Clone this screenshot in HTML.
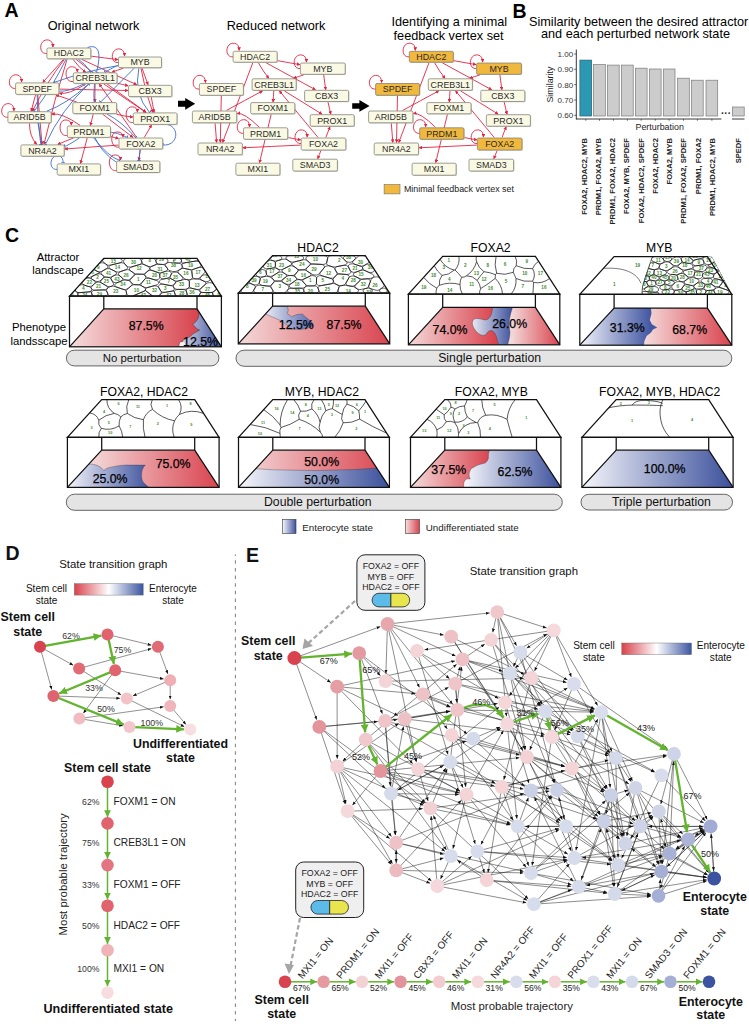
<!DOCTYPE html>
<html><head><meta charset="utf-8"><style>
html,body{margin:0;padding:0;background:#fff;width:749px;height:1024px;overflow:hidden;}
svg{display:block;font-family:"Liberation Sans",sans-serif;}
</style></head><body>
<svg width="749" height="1024" viewBox="0 0 749 1024" font-family="Liberation Sans, sans-serif">
<defs>
<marker id="ar" viewBox="0 0 6 6" refX="5" refY="3" markerWidth="3.6" markerHeight="3.6" orient="auto" markerUnits="userSpaceOnUse"><path d="M0,0 L6,3 L0,6 z" fill="#e3223f"/></marker>
<marker id="tb" viewBox="0 0 2 8" refX="1" refY="4" markerWidth="1" markerHeight="4" orient="auto" markerUnits="userSpaceOnUse"><rect x="0" y="0" width="2" height="8" fill="#3a6ccb"/></marker>
<marker id="ak" viewBox="0 0 6 6" refX="6" refY="3" markerWidth="3.8" markerHeight="3.8" orient="auto" markerUnits="userSpaceOnUse"><path d="M0,0.6 L6,3 L0,5.4 z" fill="#111"/></marker>
<marker id="ag" viewBox="0 0 6 6" refX="6" refY="3" markerWidth="7.8" markerHeight="7.8" orient="auto" markerUnits="userSpaceOnUse"><path d="M0,0 L6,3 L0,6 z" fill="#62b42f"/></marker>
<marker id="ag2" viewBox="0 0 6 6" refX="6" refY="3" markerWidth="6.8" markerHeight="6.8" orient="auto" markerUnits="userSpaceOnUse"><path d="M0,0 L6,3 L0,6 z" fill="#62b42f"/></marker>
<linearGradient id="cbar" x1="0" y1="0" x2="1" y2="0"><stop offset="0" stop-color="#d8414b"/><stop offset="0.5" stop-color="#ffffff"/><stop offset="1" stop-color="#3b55a0"/></linearGradient>
<clipPath id="tc0"><path d="M103.8,258.3 L197,258.3 L221.4,296.1 L69.5,296.1 Z"/></clipPath>
<clipPath id="tc1"><path d="M272.6,255.6 L365.3,255.6 L389.7,293.1 L238.3,293.1 Z"/></clipPath>
<clipPath id="tc2"><path d="M442.7,256.3 L535.4,256.3 L559.8,294.1 L408.4,294.1 Z"/></clipPath>
<clipPath id="tc3"><path d="M614.1,256.7 L707.4,256.7 L731.8,294.3 L579.8,294.3 Z"/></clipPath>
<clipPath id="tc4"><path d="M101.7,399.6 L194.7,399.6 L219.1,437.3 L67.4,437.3 Z"/></clipPath>
<clipPath id="tc5"><path d="M272.8,399.6 L365,399.6 L389.4,437.3 L238.5,437.3 Z"/></clipPath>
<clipPath id="tc6"><path d="M444.8,399.6 L536.5,399.6 L560.9,437.3 L410.5,437.3 Z"/></clipPath>
<clipPath id="tc7"><path d="M616.2,399.6 L708.7,399.6 L733.1,437.3 L581.9,437.3 Z"/></clipPath>
<clipPath id="pc0"><path d="M103.8,308.9 L197,308.9 L221.4,346.8 L69.5,346.8 Z"/></clipPath>
<clipPath id="pc1"><path d="M272.6,306.2 L365.3,306.2 L389.7,343.9 L238.3,343.9 Z"/></clipPath>
<clipPath id="pc2"><path d="M442.7,307.4 L535.4,307.4 L559.8,344.8 L408.4,344.8 Z"/></clipPath>
<clipPath id="pc3"><path d="M614.1,308.1 L707.4,308.1 L731.8,345.2 L579.8,345.2 Z"/></clipPath>
<clipPath id="pc4"><path d="M101.7,450.2 L194.7,450.2 L219.1,487.4 L67.4,487.4 Z"/></clipPath>
<clipPath id="pc5"><path d="M272.8,450.2 L365,450.2 L389.4,487.4 L238.5,487.4 Z"/></clipPath>
<clipPath id="pc6"><path d="M444.8,450.2 L536.5,450.2 L560.9,487.4 L410.5,487.4 Z"/></clipPath>
<clipPath id="pc7"><path d="M616.2,450.2 L708.7,450.2 L733.1,487.4 L581.9,487.4 Z"/></clipPath>
<linearGradient id="g0r" gradientUnits="userSpaceOnUse" x1="69.5" y1="0" x2="199" y2="0"><stop offset="0" stop-color="#f5dede"/><stop offset="1" stop-color="#d8434d"/></linearGradient>
<linearGradient id="g0b" gradientUnits="userSpaceOnUse" x1="178" y1="0" x2="221" y2="0"><stop offset="0" stop-color="#dfe1ef"/><stop offset="1" stop-color="#3f529d"/></linearGradient>
<linearGradient id="g1r" gradientUnits="userSpaceOnUse" x1="238.3" y1="0" x2="389.7" y2="0"><stop offset="0" stop-color="#f4dada"/><stop offset="1" stop-color="#d9444f"/></linearGradient>
<linearGradient id="g1b" gradientUnits="userSpaceOnUse" x1="266" y1="0" x2="313" y2="0"><stop offset="0" stop-color="#e7e9f3"/><stop offset="1" stop-color="#5668ad"/></linearGradient>
<linearGradient id="g2r" gradientUnits="userSpaceOnUse" x1="408.4" y1="0" x2="495" y2="0"><stop offset="0" stop-color="#f4dada"/><stop offset="1" stop-color="#d9444f"/></linearGradient>
<linearGradient id="g2r2" gradientUnits="userSpaceOnUse" x1="511" y1="0" x2="559.8" y2="0"><stop offset="0" stop-color="#f4dada"/><stop offset="1" stop-color="#d9444f"/></linearGradient>
<linearGradient id="g2b" gradientUnits="userSpaceOnUse" x1="471" y1="0" x2="513" y2="0"><stop offset="0" stop-color="#eeeef5"/><stop offset="1" stop-color="#3c509c"/></linearGradient>
<clipPath id="myb"><path d="M652.4,256.5 L712,256.5 L732,294.5 L642,294.5 L642.5,286 L645,277 L648.5,267 Z"/></clipPath>
<linearGradient id="g3b" gradientUnits="userSpaceOnUse" x1="579.8" y1="0" x2="651" y2="0"><stop offset="0" stop-color="#f3f4fa"/><stop offset="1" stop-color="#4257a2"/></linearGradient>
<linearGradient id="g3r" gradientUnits="userSpaceOnUse" x1="644" y1="0" x2="731.8" y2="0"><stop offset="0" stop-color="#f5dcdc"/><stop offset="1" stop-color="#d9434e"/></linearGradient>
<linearGradient id="g4r" gradientUnits="userSpaceOnUse" x1="88" y1="0" x2="219.1" y2="0"><stop offset="0" stop-color="#f5dcdc"/><stop offset="1" stop-color="#d9434e"/></linearGradient>
<linearGradient id="g4b" gradientUnits="userSpaceOnUse" x1="67.4" y1="0" x2="150" y2="0"><stop offset="0" stop-color="#f4f4fa"/><stop offset="1" stop-color="#3d529e"/></linearGradient>
<linearGradient id="g5r" gradientUnits="userSpaceOnUse" x1="238.5" y1="0" x2="389.4" y2="0"><stop offset="0" stop-color="#f5dcdc"/><stop offset="1" stop-color="#d9434e"/></linearGradient>
<linearGradient id="g5b" gradientUnits="userSpaceOnUse" x1="238.5" y1="0" x2="389.4" y2="0"><stop offset="0" stop-color="#f6f6fb"/><stop offset="1" stop-color="#3b509c"/></linearGradient>
<linearGradient id="g6r" gradientUnits="userSpaceOnUse" x1="410.5" y1="0" x2="490" y2="0"><stop offset="0" stop-color="#f5dcdc"/><stop offset="1" stop-color="#d9434e"/></linearGradient>
<linearGradient id="g6b" gradientUnits="userSpaceOnUse" x1="465" y1="0" x2="560.9" y2="0"><stop offset="0" stop-color="#f6f6fb"/><stop offset="1" stop-color="#3b509c"/></linearGradient>
<linearGradient id="g7b" gradientUnits="userSpaceOnUse" x1="581.9" y1="0" x2="733.1" y2="0"><stop offset="0" stop-color="#f6f6fb"/><stop offset="1" stop-color="#3b509c"/></linearGradient>
<linearGradient id="lgb" gradientUnits="userSpaceOnUse" x1="282.7" y1="0" x2="296.1" y2="0"><stop offset="0" stop-color="#f4f4fa"/><stop offset="1" stop-color="#3b509c"/></linearGradient>
<linearGradient id="lgr" gradientUnits="userSpaceOnUse" x1="405.6" y1="0" x2="419.4" y2="0"><stop offset="0" stop-color="#f5dcdc"/><stop offset="1" stop-color="#d9434e"/></linearGradient>
</defs>
<rect width="749" height="1024" fill="#fff"/>
<text x="4.5" y="16.6" font-size="19.5" font-weight="bold">A</text>
<text x="93.5" y="29.8" font-size="12.7" text-anchor="middle">Original network</text>
<text x="276" y="30.4" font-size="12.7" text-anchor="middle">Reduced network</text>
<text x="449.3" y="25.9" font-size="12.7" text-anchor="middle">Identifying a minimal</text>
<text x="448.6" y="39.9" font-size="12.7" text-anchor="middle">feedback vertex set</text>
<path d="M91.4,56.2 Q104.4,57.9 117.9,59.6" stroke="#e3223f" stroke-width="0.9" fill="none" marker-end="url(#ar)"/>
<path d="M73.1,59.4 Q79.5,68.4 85.7,72.2" stroke="#e3223f" stroke-width="0.9" fill="none" marker-end="url(#ar)"/>
<path d="M63.5,59.4 Q53,71 42.9,82.3" stroke="#e3223f" stroke-width="0.9" fill="none" marker-end="url(#ar)"/>
<path d="M81.8,59.4 Q109.5,72.2 136.7,84.7" stroke="#e3223f" stroke-width="0.9" fill="none" marker-end="url(#ar)"/>
<path d="M76.2,59.4 Q110.7,87.8 146.1,112.3" stroke="#e3223f" stroke-width="0.9" fill="none" marker-end="url(#ar)"/>
<path d="M67,59.4 Q53.8,101.4 44,144.3" stroke="#e3223f" stroke-width="0.9" fill="none" marker-end="url(#ar)"/>
<path d="M142.1,68.3 Q145.1,76.6 148,84.7" stroke="#e3223f" stroke-width="0.9" fill="none" marker-end="url(#ar)"/>
<path d="M141,68.3 Q144.8,91.3 152.8,112.3" stroke="#e3223f" stroke-width="0.9" fill="none" marker-end="url(#ar)"/>
<path d="M123.1,68.3 Q117.6,70.2 112,72.2" stroke="#e3223f" stroke-width="0.9" fill="none" marker-end="url(#ar)"/>
<path d="M103.9,84 Q125.2,98.4 145.8,112.3" stroke="#e3223f" stroke-width="0.9" fill="none" marker-end="url(#ar)"/>
<path d="M95.1,84 Q94.9,93.1 94.8,102" stroke="#e3223f" stroke-width="0.9" fill="none" marker-end="url(#ar)"/>
<path d="M117.6,83.3 Q122.7,84.5 128,85.8" stroke="#e3223f" stroke-width="0.9" fill="none" marker-end="url(#ar)"/>
<path d="M35.5,95 Q33.4,103 31.2,111.1" stroke="#e3223f" stroke-width="0.9" fill="none" marker-end="url(#ar)"/>
<path d="M37.8,95 Q39.9,119.6 42,144.3" stroke="#e3223f" stroke-width="0.9" fill="none" marker-end="url(#ar)"/>
<path d="M59.5,89.1 Q93.7,89.8 128,90.5" stroke="#e3223f" stroke-width="0.9" fill="none" marker-end="url(#ar)"/>
<path d="M76.7,102 Q66,98.4 56,95" stroke="#e3223f" stroke-width="0.9" fill="none" marker-end="url(#ar)"/>
<path d="M93.2,114.2 Q91.8,119.9 90.4,125.4" stroke="#e3223f" stroke-width="0.9" fill="none" marker-end="url(#ar)"/>
<path d="M102.7,114.2 Q117.8,125.8 132.9,137.4" stroke="#e3223f" stroke-width="0.9" fill="none" marker-end="url(#ar)"/>
<path d="M29.5,123.4 Q29.4,136.5 36.7,144.3" stroke="#e3223f" stroke-width="0.9" fill="none" marker-end="url(#ar)"/>
<path d="M73.4,138 Q65.7,141.1 57.9,144.3" stroke="#e3223f" stroke-width="0.9" fill="none" marker-end="url(#ar)"/>
<path d="M87.2,138 Q83.9,150.6 80.5,163.3" stroke="#e3223f" stroke-width="0.9" fill="none" marker-end="url(#ar)"/>
<path d="M111.1,136.7 Q114.9,137.6 118.4,138.4" stroke="#e3223f" stroke-width="0.9" fill="none" marker-end="url(#ar)"/>
<path d="M118.4,145.1 Q91.7,147 64.8,149" stroke="#e3223f" stroke-width="0.9" fill="none" marker-end="url(#ar)"/>
<path d="M144.4,137.4 Q148,131.1 151.5,125" stroke="#e3223f" stroke-width="0.9" fill="none" marker-end="url(#ar)"/>
<path d="M136.6,137.4 Q118,110.8 99.3,84" stroke="#e3223f" stroke-width="0.9" fill="none" marker-end="url(#ar)"/>
<path d="M140.2,149.6 Q139.5,155.1 138.9,160.4" stroke="#e3223f" stroke-width="0.9" fill="none" marker-end="url(#ar)"/>
<path d="M151.3,97.2 Q152.7,104.8 154.1,112.3" stroke="#e3223f" stroke-width="0.9" fill="none" marker-end="url(#ar)"/>
<path d="M64.3,59.4 Q46,83.4 32.5,111.1" stroke="#e3223f" stroke-width="0.9" fill="none" marker-end="url(#ar)"/>
<path d="M80.1,125.4 Q62.1,112.6 51.8,114.1" stroke="#e3223f" stroke-width="0.9" fill="none" marker-end="url(#ar)"/>
<path d="M116.5,114.2 Q124.4,116.4 132.8,117" stroke="#e3223f" stroke-width="0.9" fill="none" marker-end="url(#ar)"/>
<path d="M85.8,84 Q68.3,95 59.5,93.2" stroke="#e3223f" stroke-width="0.9" fill="none" marker-end="url(#ar)"/>
<path d="M78.5,59.4 Q84.5,63.1 90.9,72.2" stroke="#3a6ccb" stroke-width="0.9" fill="none" marker-end="url(#tb)"/>
<path d="M65.9,59.4 Q52.4,87.3 34.2,111.1" stroke="#3a6ccb" stroke-width="0.9" fill="none" marker-end="url(#tb)"/>
<path d="M117.9,65.7 Q87.3,70.4 54.6,82.3" stroke="#3a6ccb" stroke-width="0.9" fill="none" marker-end="url(#tb)"/>
<path d="M134.1,68.3 Q117.3,85.2 100.7,102" stroke="#3a6ccb" stroke-width="0.9" fill="none" marker-end="url(#tb)"/>
<path d="M138.8,68.3 Q133.5,94.3 149.5,112.3" stroke="#3a6ccb" stroke-width="0.9" fill="none" marker-end="url(#tb)"/>
<path d="M46.9,111.1 Q66.3,104.2 88.6,84" stroke="#3a6ccb" stroke-width="0.9" fill="none" marker-end="url(#tb)"/>
<path d="M37.2,95 Q36.8,119.9 41.4,144.3" stroke="#3a6ccb" stroke-width="0.9" fill="none" marker-end="url(#tb)"/>
<path d="M79.4,138 Q67.6,145.8 64.8,146.3" stroke="#3a6ccb" stroke-width="0.9" fill="none" marker-end="url(#tb)"/>
<path d="M93.8,138 Q108.3,156.6 119.5,160.4" stroke="#3a6ccb" stroke-width="0.9" fill="none" marker-end="url(#tb)"/>
<path d="M111.1,132.3 Q116.1,132.4 127.2,137.4" stroke="#3a6ccb" stroke-width="0.9" fill="none" marker-end="url(#tb)"/>
<path d="M140.2,149.6 Q139.5,155.1 138.9,160.4" stroke="#3a6ccb" stroke-width="0.9" fill="none" marker-end="url(#tb)"/>
<path d="M107.1,114.2 Q121.3,121.2 135.5,137.4" stroke="#3a6ccb" stroke-width="0.9" fill="none" marker-end="url(#tb)"/>
<path d="M94.5,84 Q93.4,93.1 94.2,102" stroke="#3a6ccb" stroke-width="0.9" fill="none" marker-end="url(#tb)"/>
<path d="M87.6,47.4 Q104.2,42.1 96.6,72.2" stroke="#3a6ccb" stroke-width="0.9" fill="none" marker-end="url(#tb)"/>
<path d="M88.8,84 Q61.6,109.1 45.4,144.3" stroke="#3a6ccb" stroke-width="0.9" fill="none" marker-end="url(#tb)"/>
<path d="M117.9,65.5 Q116,65.7 105.1,72.2" stroke="#3a6ccb" stroke-width="0.9" fill="none" marker-end="url(#tb)"/>
<path d="M59.5,91.1 Q67.8,92.1 83.6,84" stroke="#3a6ccb" stroke-width="0.9" fill="none" marker-end="url(#tb)"/>
<path d="M168,124.6 C180,128 178,146 163,145" stroke="#3a6ccb" stroke-width="0.9" fill="none" marker-end="url(#tb)"/>
<path d="M95,137.6 C100,150 112,160 118,163" stroke="#3a6ccb" stroke-width="0.9" fill="none" marker-end="url(#tb)"/>
<path d="M38,122.8 C40,135 40,140 41,144.5" stroke="#3a6ccb" stroke-width="0.9" fill="none" marker-end="url(#tb)"/>
<path d="M46.9,53.5 C37.9,54.5 38.9,38.5 48.4,40 C51.4,40.5 52.9,43 52.9,47" stroke="#e3223f" stroke-width="0.9" fill="none" marker-end="url(#ar)"/>
<path d="M118.5,62.5 C109.5,63.5 110.5,47.5 120,49 C123,49.5 124.5,52 124.5,56" stroke="#e3223f" stroke-width="0.9" fill="none" marker-end="url(#ar)"/>
<path d="M15.6,88.4 C6.6,89.4 7.6,73.4 17.1,74.9 C20.1,75.4 21.6,77.9 21.6,81.9" stroke="#e3223f" stroke-width="0.9" fill="none" marker-end="url(#ar)"/>
<path d="M7.9,117.2 C-1.1,118.2 -0.1,102.2 9.4,103.7 C12.4,104.2 13.9,106.7 13.9,110.7" stroke="#e3223f" stroke-width="0.9" fill="none" marker-end="url(#ar)"/>
<path d="M73.3,81.4 C64.3,83.4 63.3,65.8 72.3,66.8 C75.3,66.8 77.3,68.8 77.3,71.8" stroke="#e3223f" stroke-width="0.9" fill="none" marker-end="url(#ar)"/>
<path d="M133.4,122.4 C124.4,124.4 123.4,105.9 132.4,106.9 C135.4,106.9 137.4,108.9 137.4,111.9" stroke="#e3223f" stroke-width="0.9" fill="none" marker-end="url(#ar)"/>
<path d="M67.3,135.4 C58.3,137.4 57.3,119 66.3,120 C69.3,120 71.3,122 71.3,125" stroke="#e3223f" stroke-width="0.9" fill="none" marker-end="url(#ar)"/>
<path d="M119,147 C110,149 109,131 118,132 C121,132 123,134 123,137" stroke="#e3223f" stroke-width="0.9" fill="none" marker-end="url(#ar)"/>
<path d="M116.6,170.5 C107.6,172.5 106.6,154 115.6,155 C118.6,155 120.6,157 120.6,160" stroke="#e3223f" stroke-width="0.9" fill="none" marker-end="url(#ar)"/>
<path d="M57.2,169.4 C48.2,170.4 49.2,154.4 58.7,155.9 C61.7,156.4 63.2,158.9 63.2,162.9" stroke="#3a6ccb" stroke-width="0.9" fill="none" marker-end="url(#tb)"/>
<rect x="47.7" y="48.8" width="43.9" height="10.8" rx="1.2" fill="#9a9a8a" opacity="0.5"/>
<rect x="46.9" y="48" width="43.9" height="10.8" rx="1.4" fill="#fafae4" stroke="#7d7d75" stroke-width="0.75"/>
<text x="68.8" y="56.4" font-size="8.9" text-anchor="middle" fill="#2a2a2a">HDAC2</text>
<rect x="119.3" y="57.8" width="43" height="10.7" rx="1.2" fill="#9a9a8a" opacity="0.5"/>
<rect x="118.5" y="57" width="43" height="10.7" rx="1.4" fill="#fafae4" stroke="#7d7d75" stroke-width="0.75"/>
<text x="140" y="65.3" font-size="8.9" text-anchor="middle" fill="#2a2a2a">MYB</text>
<rect x="74.1" y="73.6" width="43.7" height="10.6" rx="1.2" fill="#9a9a8a" opacity="0.5"/>
<rect x="73.3" y="72.8" width="43.7" height="10.6" rx="1.4" fill="#fafae4" stroke="#7d7d75" stroke-width="0.75"/>
<text x="95.2" y="81.1" font-size="8.9" text-anchor="middle" fill="#2a2a2a">CREB3L1</text>
<rect x="16.4" y="83.7" width="43.3" height="11.5" rx="1.2" fill="#9a9a8a" opacity="0.5"/>
<rect x="15.6" y="82.9" width="43.3" height="11.5" rx="1.4" fill="#fafae4" stroke="#7d7d75" stroke-width="0.75"/>
<text x="37.2" y="91.7" font-size="8.9" text-anchor="middle" fill="#2a2a2a">SPDEF</text>
<rect x="129.4" y="86.1" width="43.2" height="11.3" rx="1.2" fill="#9a9a8a" opacity="0.5"/>
<rect x="128.6" y="85.3" width="43.2" height="11.3" rx="1.4" fill="#fafae4" stroke="#7d7d75" stroke-width="0.75"/>
<text x="150.2" y="93.9" font-size="8.9" text-anchor="middle" fill="#2a2a2a">CBX3</text>
<rect x="73.6" y="103.4" width="43.8" height="11" rx="1.2" fill="#9a9a8a" opacity="0.5"/>
<rect x="72.8" y="102.6" width="43.8" height="11" rx="1.4" fill="#fafae4" stroke="#7d7d75" stroke-width="0.75"/>
<text x="94.7" y="111.1" font-size="8.9" text-anchor="middle" fill="#2a2a2a">FOXM1</text>
<rect x="8.7" y="112.5" width="43.3" height="11.1" rx="1.2" fill="#9a9a8a" opacity="0.5"/>
<rect x="7.9" y="111.7" width="43.3" height="11.1" rx="1.4" fill="#fafae4" stroke="#7d7d75" stroke-width="0.75"/>
<text x="29.6" y="120.2" font-size="8.9" text-anchor="middle" fill="#2a2a2a">ARID5B</text>
<rect x="134.2" y="113.7" width="43.6" height="11.5" rx="1.2" fill="#9a9a8a" opacity="0.5"/>
<rect x="133.4" y="112.9" width="43.6" height="11.5" rx="1.4" fill="#fafae4" stroke="#7d7d75" stroke-width="0.75"/>
<text x="155.2" y="121.7" font-size="8.9" text-anchor="middle" fill="#2a2a2a">PROX1</text>
<rect x="68.1" y="126.8" width="43.2" height="11.4" rx="1.2" fill="#9a9a8a" opacity="0.5"/>
<rect x="67.3" y="126" width="43.2" height="11.4" rx="1.4" fill="#fafae4" stroke="#7d7d75" stroke-width="0.75"/>
<text x="88.9" y="134.7" font-size="8.9" text-anchor="middle" fill="#2a2a2a">PRDM1</text>
<rect x="119.8" y="138.8" width="43.7" height="11" rx="1.2" fill="#9a9a8a" opacity="0.5"/>
<rect x="119" y="138" width="43.7" height="11" rx="1.4" fill="#fafae4" stroke="#7d7d75" stroke-width="0.75"/>
<text x="140.8" y="146.5" font-size="8.9" text-anchor="middle" fill="#2a2a2a">FOXA2</text>
<rect x="21.7" y="145.7" width="43.3" height="11.3" rx="1.2" fill="#9a9a8a" opacity="0.5"/>
<rect x="20.9" y="144.9" width="43.3" height="11.3" rx="1.4" fill="#fafae4" stroke="#7d7d75" stroke-width="0.75"/>
<text x="42.5" y="153.6" font-size="8.9" text-anchor="middle" fill="#2a2a2a">NR4A2</text>
<rect x="58" y="164.7" width="43.3" height="11.1" rx="1.2" fill="#9a9a8a" opacity="0.5"/>
<rect x="57.2" y="163.9" width="43.3" height="11.1" rx="1.4" fill="#fafae4" stroke="#7d7d75" stroke-width="0.75"/>
<text x="78.8" y="172.4" font-size="8.9" text-anchor="middle" fill="#2a2a2a">MXI1</text>
<rect x="117.4" y="161.8" width="43.2" height="11.5" rx="1.2" fill="#9a9a8a" opacity="0.5"/>
<rect x="116.6" y="161" width="43.2" height="11.5" rx="1.4" fill="#fafae4" stroke="#7d7d75" stroke-width="0.75"/>
<text x="138.2" y="169.8" font-size="8.9" text-anchor="middle" fill="#2a2a2a">SMAD3</text>
<path d="M258.4,62.8 Q263.2,71.6 268.8,78.2" stroke="#e3223f" stroke-width="0.9" fill="none" marker-end="url(#ar)"/>
<path d="M277.7,60.7 Q288.9,62.7 299.8,64.6" stroke="#e3223f" stroke-width="0.9" fill="none" marker-end="url(#ar)"/>
<path d="M266.1,62.8 Q290.9,76.3 315.3,89.7" stroke="#e3223f" stroke-width="0.9" fill="none" marker-end="url(#ar)"/>
<path d="M252.8,62.8 Q237.6,102.8 222.6,142.4" stroke="#e3223f" stroke-width="0.9" fill="none" marker-end="url(#ar)"/>
<path d="M323.7,74.9 Q324.7,82.3 325.7,89.7" stroke="#e3223f" stroke-width="0.9" fill="none" marker-end="url(#ar)"/>
<path d="M303.7,74.9 Q298.5,76.6 293.6,78.2" stroke="#e3223f" stroke-width="0.9" fill="none" marker-end="url(#ar)"/>
<path d="M221.3,95.9 Q220.8,119.2 220.3,142.4" stroke="#e3223f" stroke-width="0.9" fill="none" marker-end="url(#ar)"/>
<path d="M226.5,110.4 Q244.3,100.7 262.5,90.9" stroke="#e3223f" stroke-width="0.9" fill="none" marker-end="url(#ar)"/>
<path d="M273.8,90.9 Q273.4,96.4 273.1,102" stroke="#e3223f" stroke-width="0.9" fill="none" marker-end="url(#ar)"/>
<path d="M284.4,90.9 Q303.2,102.5 321.9,114.1" stroke="#e3223f" stroke-width="0.9" fill="none" marker-end="url(#ar)"/>
<path d="M318,137.4 Q298.8,114.3 279.4,90.9" stroke="#e3223f" stroke-width="0.9" fill="none" marker-end="url(#ar)"/>
<path d="M328,102.1 Q329.4,108.2 330.8,114.1" stroke="#e3223f" stroke-width="0.9" fill="none" marker-end="url(#ar)"/>
<path d="M271.2,114.4 Q265.3,138.7 259.5,162.6" stroke="#e3223f" stroke-width="0.9" fill="none" marker-end="url(#ar)"/>
<path d="M259.2,127.2 Q244.2,112.5 237.3,113.5" stroke="#e3223f" stroke-width="0.9" fill="none" marker-end="url(#ar)"/>
<path d="M288.3,137.6 Q294.6,138.8 300.6,139.9" stroke="#e3223f" stroke-width="0.9" fill="none" marker-end="url(#ar)"/>
<path d="M300.6,145.1 Q271.8,146.4 242.9,147.8" stroke="#e3223f" stroke-width="0.9" fill="none" marker-end="url(#ar)"/>
<path d="M325.9,137.4 Q327.9,132.2 329.9,126.8" stroke="#e3223f" stroke-width="0.9" fill="none" marker-end="url(#ar)"/>
<path d="M320.9,150.6 Q319.3,154.6 317.7,158.6" stroke="#e3223f" stroke-width="0.9" fill="none" marker-end="url(#ar)"/>
<path d="M215.1,123.4 Q215.9,132.9 216.6,142.4" stroke="#e3223f" stroke-width="0.9" fill="none" marker-end="url(#ar)"/>
<path d="M233.1,56.8 C224.1,57.8 225.1,41.8 234.6,43.3 C237.6,43.8 239.1,46.3 239.1,50.3" stroke="#e3223f" stroke-width="0.9" fill="none" marker-end="url(#ar)"/>
<path d="M300.4,68.5 C291.4,69.5 292.4,53.5 301.9,55 C304.9,55.5 306.4,58 306.4,62" stroke="#e3223f" stroke-width="0.9" fill="none" marker-end="url(#ar)"/>
<path d="M199.4,89 C190.4,90 191.4,74 200.9,75.5 C203.9,76 205.4,78.5 205.4,82.5" stroke="#e3223f" stroke-width="0.9" fill="none" marker-end="url(#ar)"/>
<path d="M243.5,133.3 C234.5,134.3 235.5,118.3 245,119.8 C248,120.3 249.5,122.8 249.5,126.8" stroke="#e3223f" stroke-width="0.9" fill="none" marker-end="url(#ar)"/>
<path d="M301.2,143.5 C292.2,144.5 293.2,128.5 302.7,130 C305.7,130.5 307.2,133 307.2,137" stroke="#e3223f" stroke-width="0.9" fill="none" marker-end="url(#ar)"/>
<rect x="233.9" y="52.1" width="44" height="10.9" rx="1.2" fill="#9a9a8a" opacity="0.5"/>
<rect x="233.1" y="51.3" width="44" height="10.9" rx="1.4" fill="#fafae4" stroke="#7d7d75" stroke-width="0.75"/>
<text x="255.1" y="59.8" font-size="8.9" text-anchor="middle" fill="#2a2a2a">HDAC2</text>
<rect x="301.2" y="63.8" width="44.8" height="11.3" rx="1.2" fill="#9a9a8a" opacity="0.5"/>
<rect x="300.4" y="63" width="44.8" height="11.3" rx="1.4" fill="#fafae4" stroke="#7d7d75" stroke-width="0.75"/>
<text x="322.8" y="71.7" font-size="8.9" text-anchor="middle" fill="#2a2a2a">MYB</text>
<rect x="200.2" y="84.3" width="44" height="11.8" rx="1.2" fill="#9a9a8a" opacity="0.5"/>
<rect x="199.4" y="83.5" width="44" height="11.8" rx="1.4" fill="#fafae4" stroke="#7d7d75" stroke-width="0.75"/>
<text x="221.4" y="92.4" font-size="8.9" text-anchor="middle" fill="#2a2a2a">SPDEF</text>
<rect x="252.9" y="79.6" width="44.1" height="11.5" rx="1.2" fill="#9a9a8a" opacity="0.5"/>
<rect x="252.1" y="78.8" width="44.1" height="11.5" rx="1.4" fill="#fafae4" stroke="#7d7d75" stroke-width="0.75"/>
<text x="274.1" y="87.5" font-size="8.9" text-anchor="middle" fill="#2a2a2a">CREB3L1</text>
<rect x="305.4" y="91.1" width="44" height="11.2" rx="1.2" fill="#9a9a8a" opacity="0.5"/>
<rect x="304.6" y="90.3" width="44" height="11.2" rx="1.4" fill="#fafae4" stroke="#7d7d75" stroke-width="0.75"/>
<text x="326.6" y="98.9" font-size="8.9" text-anchor="middle" fill="#2a2a2a">CBX3</text>
<rect x="251.5" y="103.4" width="44.1" height="11.2" rx="1.2" fill="#9a9a8a" opacity="0.5"/>
<rect x="250.7" y="102.6" width="44.1" height="11.2" rx="1.4" fill="#fafae4" stroke="#7d7d75" stroke-width="0.75"/>
<text x="272.8" y="111.2" font-size="8.9" text-anchor="middle" fill="#2a2a2a">FOXM1</text>
<rect x="193.2" y="111.8" width="44.3" height="11.8" rx="1.2" fill="#9a9a8a" opacity="0.5"/>
<rect x="192.4" y="111" width="44.3" height="11.8" rx="1.4" fill="#fafae4" stroke="#7d7d75" stroke-width="0.75"/>
<text x="214.6" y="119.9" font-size="8.9" text-anchor="middle" fill="#2a2a2a">ARID5B</text>
<rect x="311" y="115.5" width="44" height="11.5" rx="1.2" fill="#9a9a8a" opacity="0.5"/>
<rect x="310.2" y="114.7" width="44" height="11.5" rx="1.4" fill="#fafae4" stroke="#7d7d75" stroke-width="0.75"/>
<text x="332.2" y="123.5" font-size="8.9" text-anchor="middle" fill="#2a2a2a">PROX1</text>
<rect x="244.3" y="128.6" width="44.2" height="11.5" rx="1.2" fill="#9a9a8a" opacity="0.5"/>
<rect x="243.5" y="127.8" width="44.2" height="11.5" rx="1.4" fill="#fafae4" stroke="#7d7d75" stroke-width="0.75"/>
<text x="265.6" y="136.6" font-size="8.9" text-anchor="middle" fill="#2a2a2a">PRDM1</text>
<rect x="302" y="138.8" width="44.6" height="12" rx="1.2" fill="#9a9a8a" opacity="0.5"/>
<rect x="301.2" y="138" width="44.6" height="12" rx="1.4" fill="#fafae4" stroke="#7d7d75" stroke-width="0.75"/>
<text x="323.5" y="147" font-size="8.9" text-anchor="middle" fill="#2a2a2a">FOXA2</text>
<rect x="198.8" y="143.8" width="44.3" height="11.8" rx="1.2" fill="#9a9a8a" opacity="0.5"/>
<rect x="198" y="143" width="44.3" height="11.8" rx="1.4" fill="#fafae4" stroke="#7d7d75" stroke-width="0.75"/>
<text x="220.2" y="151.9" font-size="8.9" text-anchor="middle" fill="#2a2a2a">NR4A2</text>
<rect x="236.7" y="164" width="44" height="12" rx="1.2" fill="#9a9a8a" opacity="0.5"/>
<rect x="235.9" y="163.2" width="44" height="12" rx="1.4" fill="#fafae4" stroke="#7d7d75" stroke-width="0.75"/>
<text x="257.9" y="172.2" font-size="8.9" text-anchor="middle" fill="#2a2a2a">MXI1</text>
<rect x="293.6" y="160" width="44.6" height="11.8" rx="1.2" fill="#9a9a8a" opacity="0.5"/>
<rect x="292.8" y="159.2" width="44.6" height="11.8" rx="1.4" fill="#fafae4" stroke="#7d7d75" stroke-width="0.75"/>
<text x="315.1" y="168.1" font-size="8.9" text-anchor="middle" fill="#2a2a2a">SMAD3</text>
<path d="M434.6,62.8 Q439.4,71.6 445,78.2" stroke="#e3223f" stroke-width="0.9" fill="none" marker-end="url(#ar)"/>
<path d="M453.9,60.7 Q465.1,62.7 476,64.6" stroke="#e3223f" stroke-width="0.9" fill="none" marker-end="url(#ar)"/>
<path d="M442.3,62.8 Q467,76.3 491.5,89.7" stroke="#e3223f" stroke-width="0.9" fill="none" marker-end="url(#ar)"/>
<path d="M429,62.8 Q413.8,102.8 398.8,142.4" stroke="#e3223f" stroke-width="0.9" fill="none" marker-end="url(#ar)"/>
<path d="M499.9,74.9 Q500.9,82.3 501.9,89.7" stroke="#e3223f" stroke-width="0.9" fill="none" marker-end="url(#ar)"/>
<path d="M479.9,74.9 Q474.7,76.6 469.8,78.2" stroke="#e3223f" stroke-width="0.9" fill="none" marker-end="url(#ar)"/>
<path d="M397.5,95.9 Q397,119.2 396.5,142.4" stroke="#e3223f" stroke-width="0.9" fill="none" marker-end="url(#ar)"/>
<path d="M402.7,110.4 Q420.5,100.7 438.7,90.9" stroke="#e3223f" stroke-width="0.9" fill="none" marker-end="url(#ar)"/>
<path d="M450,90.9 Q449.6,96.4 449.3,102" stroke="#e3223f" stroke-width="0.9" fill="none" marker-end="url(#ar)"/>
<path d="M460.6,90.9 Q479.4,102.5 498.1,114.1" stroke="#e3223f" stroke-width="0.9" fill="none" marker-end="url(#ar)"/>
<path d="M494.2,137.4 Q475,114.3 455.6,90.9" stroke="#e3223f" stroke-width="0.9" fill="none" marker-end="url(#ar)"/>
<path d="M504.2,102.1 Q505.6,108.2 507,114.1" stroke="#e3223f" stroke-width="0.9" fill="none" marker-end="url(#ar)"/>
<path d="M447.4,114.4 Q441.5,138.7 435.7,162.6" stroke="#e3223f" stroke-width="0.9" fill="none" marker-end="url(#ar)"/>
<path d="M435.4,127.2 Q420.4,112.5 413.5,113.5" stroke="#e3223f" stroke-width="0.9" fill="none" marker-end="url(#ar)"/>
<path d="M464.5,137.6 Q470.8,138.8 476.8,139.9" stroke="#e3223f" stroke-width="0.9" fill="none" marker-end="url(#ar)"/>
<path d="M476.8,145.1 Q448,146.4 419.1,147.8" stroke="#e3223f" stroke-width="0.9" fill="none" marker-end="url(#ar)"/>
<path d="M502.1,137.4 Q504,132.2 506.1,126.8" stroke="#e3223f" stroke-width="0.9" fill="none" marker-end="url(#ar)"/>
<path d="M497.1,150.6 Q495.5,154.6 493.9,158.6" stroke="#e3223f" stroke-width="0.9" fill="none" marker-end="url(#ar)"/>
<path d="M391.3,123.4 Q392.1,132.9 392.8,142.4" stroke="#e3223f" stroke-width="0.9" fill="none" marker-end="url(#ar)"/>
<path d="M409.3,56.8 C400.3,57.8 401.3,41.8 410.8,43.3 C413.8,43.8 415.3,46.3 415.3,50.3" stroke="#e3223f" stroke-width="0.9" fill="none" marker-end="url(#ar)"/>
<path d="M476.6,68.5 C467.6,69.5 468.6,53.5 478.1,55 C481.1,55.5 482.6,58 482.6,62" stroke="#e3223f" stroke-width="0.9" fill="none" marker-end="url(#ar)"/>
<path d="M375.6,89 C366.6,90 367.6,74 377.1,75.5 C380.1,76 381.6,78.5 381.6,82.5" stroke="#e3223f" stroke-width="0.9" fill="none" marker-end="url(#ar)"/>
<path d="M419.7,133.3 C410.7,134.3 411.7,118.3 421.2,119.8 C424.2,120.3 425.7,122.8 425.7,126.8" stroke="#e3223f" stroke-width="0.9" fill="none" marker-end="url(#ar)"/>
<path d="M477.4,143.5 C468.4,144.5 469.4,128.5 478.9,130 C481.9,130.5 483.4,133 483.4,137" stroke="#e3223f" stroke-width="0.9" fill="none" marker-end="url(#ar)"/>
<rect x="410.1" y="52.1" width="44" height="10.9" rx="1.2" fill="#9a9a8a" opacity="0.5"/>
<rect x="409.3" y="51.3" width="44" height="10.9" rx="1.4" fill="#f0b83d" stroke="#7d7d75" stroke-width="0.75"/>
<text x="431.3" y="59.8" font-size="8.9" text-anchor="middle" fill="#2a2a2a">HDAC2</text>
<rect x="477.4" y="63.8" width="44.8" height="11.3" rx="1.2" fill="#9a9a8a" opacity="0.5"/>
<rect x="476.6" y="63" width="44.8" height="11.3" rx="1.4" fill="#f0b83d" stroke="#7d7d75" stroke-width="0.75"/>
<text x="499" y="71.7" font-size="8.9" text-anchor="middle" fill="#2a2a2a">MYB</text>
<rect x="376.4" y="84.3" width="44" height="11.8" rx="1.2" fill="#9a9a8a" opacity="0.5"/>
<rect x="375.6" y="83.5" width="44" height="11.8" rx="1.4" fill="#f0b83d" stroke="#7d7d75" stroke-width="0.75"/>
<text x="397.6" y="92.4" font-size="8.9" text-anchor="middle" fill="#2a2a2a">SPDEF</text>
<rect x="429.1" y="79.6" width="44.1" height="11.5" rx="1.2" fill="#9a9a8a" opacity="0.5"/>
<rect x="428.3" y="78.8" width="44.1" height="11.5" rx="1.4" fill="#fafae4" stroke="#7d7d75" stroke-width="0.75"/>
<text x="450.3" y="87.5" font-size="8.9" text-anchor="middle" fill="#2a2a2a">CREB3L1</text>
<rect x="481.6" y="91.1" width="44" height="11.2" rx="1.2" fill="#9a9a8a" opacity="0.5"/>
<rect x="480.8" y="90.3" width="44" height="11.2" rx="1.4" fill="#fafae4" stroke="#7d7d75" stroke-width="0.75"/>
<text x="502.8" y="98.9" font-size="8.9" text-anchor="middle" fill="#2a2a2a">CBX3</text>
<rect x="427.7" y="103.4" width="44.1" height="11.2" rx="1.2" fill="#9a9a8a" opacity="0.5"/>
<rect x="426.9" y="102.6" width="44.1" height="11.2" rx="1.4" fill="#fafae4" stroke="#7d7d75" stroke-width="0.75"/>
<text x="448.9" y="111.2" font-size="8.9" text-anchor="middle" fill="#2a2a2a">FOXM1</text>
<rect x="369.4" y="111.8" width="44.3" height="11.8" rx="1.2" fill="#9a9a8a" opacity="0.5"/>
<rect x="368.6" y="111" width="44.3" height="11.8" rx="1.4" fill="#fafae4" stroke="#7d7d75" stroke-width="0.75"/>
<text x="390.8" y="119.9" font-size="8.9" text-anchor="middle" fill="#2a2a2a">ARID5B</text>
<rect x="487.2" y="115.5" width="44" height="11.5" rx="1.2" fill="#9a9a8a" opacity="0.5"/>
<rect x="486.4" y="114.7" width="44" height="11.5" rx="1.4" fill="#fafae4" stroke="#7d7d75" stroke-width="0.75"/>
<text x="508.4" y="123.5" font-size="8.9" text-anchor="middle" fill="#2a2a2a">PROX1</text>
<rect x="420.5" y="128.6" width="44.2" height="11.5" rx="1.2" fill="#9a9a8a" opacity="0.5"/>
<rect x="419.7" y="127.8" width="44.2" height="11.5" rx="1.4" fill="#f0b83d" stroke="#7d7d75" stroke-width="0.75"/>
<text x="441.8" y="136.6" font-size="8.9" text-anchor="middle" fill="#2a2a2a">PRDM1</text>
<rect x="478.2" y="138.8" width="44.6" height="12" rx="1.2" fill="#9a9a8a" opacity="0.5"/>
<rect x="477.4" y="138" width="44.6" height="12" rx="1.4" fill="#f0b83d" stroke="#7d7d75" stroke-width="0.75"/>
<text x="499.7" y="147" font-size="8.9" text-anchor="middle" fill="#2a2a2a">FOXA2</text>
<rect x="375" y="143.8" width="44.3" height="11.8" rx="1.2" fill="#9a9a8a" opacity="0.5"/>
<rect x="374.2" y="143" width="44.3" height="11.8" rx="1.4" fill="#fafae4" stroke="#7d7d75" stroke-width="0.75"/>
<text x="396.4" y="151.9" font-size="8.9" text-anchor="middle" fill="#2a2a2a">NR4A2</text>
<rect x="412.9" y="164" width="44" height="12" rx="1.2" fill="#9a9a8a" opacity="0.5"/>
<rect x="412.1" y="163.2" width="44" height="12" rx="1.4" fill="#fafae4" stroke="#7d7d75" stroke-width="0.75"/>
<text x="434.1" y="172.2" font-size="8.9" text-anchor="middle" fill="#2a2a2a">MXI1</text>
<rect x="469.8" y="160" width="44.6" height="11.8" rx="1.2" fill="#9a9a8a" opacity="0.5"/>
<rect x="469" y="159.2" width="44.6" height="11.8" rx="1.4" fill="#fafae4" stroke="#7d7d75" stroke-width="0.75"/>
<text x="491.3" y="168.1" font-size="8.9" text-anchor="middle" fill="#2a2a2a">SMAD3</text>
<path d="M178,100.8 H185.2 V98 L195.2,103.8 L185.2,109.8 V106.8 H178 Z" fill="#000"/>
<path d="M352.2,103.2 H359.4 V100 L369.6,106 L359.4,111.8 V108.8 H352.2 Z" fill="#000"/>
<rect x="384.1" y="184.5" width="15.9" height="9.4" fill="#f0b83d" stroke="#707070" stroke-width="0.6"/>
<text x="403.9" y="192" font-size="8.9" fill="#222">Minimal feedback vertex set</text>
<text x="512.5" y="17.5" font-size="19.5" font-weight="bold">B</text>
<text x="529" y="26.2" font-size="12.7">Similarity between the desired attractor</text>
<text x="635.5" y="38.3" font-size="12.7" text-anchor="middle">and each perturbed network state</text>
<line x1="576.3" y1="49.5" x2="576.3" y2="119.3" stroke="#222" stroke-width="0.9"/>
<line x1="576" y1="119" x2="721.4" y2="119" stroke="#222" stroke-width="0.9"/>
<line x1="732" y1="119" x2="744.5" y2="119" stroke="#222" stroke-width="0.9"/>
<text x="726" y="117.2" font-size="10" text-anchor="middle" font-weight="bold" fill="#222">···</text>
<line x1="574.3" y1="54" x2="576.3" y2="54" stroke="#222" stroke-width="0.7"/>
<text x="573.3" y="56.9" font-size="8.1" text-anchor="end" fill="#333">1.00</text>
<line x1="574.3" y1="69.3" x2="576.3" y2="69.3" stroke="#222" stroke-width="0.7"/>
<text x="573.3" y="72.2" font-size="8.1" text-anchor="end" fill="#333">0.90</text>
<line x1="574.3" y1="84.6" x2="576.3" y2="84.6" stroke="#222" stroke-width="0.7"/>
<text x="573.3" y="87.5" font-size="8.1" text-anchor="end" fill="#333">0.80</text>
<line x1="574.3" y1="100" x2="576.3" y2="100" stroke="#222" stroke-width="0.7"/>
<text x="573.3" y="102.9" font-size="8.1" text-anchor="end" fill="#333">0.70</text>
<line x1="574.3" y1="115.3" x2="576.3" y2="115.3" stroke="#222" stroke-width="0.7"/>
<text x="573.3" y="118.2" font-size="8.1" text-anchor="end" fill="#333">0.60</text>
<text transform="translate(553.3,84.6) rotate(-90)" font-size="8.9" text-anchor="middle" fill="#222">Similarity</text>
<text x="659.7" y="130.3" font-size="8.9" text-anchor="middle" fill="#222">Perturbation</text>
<rect x="579.9" y="60.1" width="11.7" height="55.9" fill="#2d98b4" stroke="#1e5f70" stroke-width="0.7"/>
<line x1="585.8" y1="119" x2="585.8" y2="120.8" stroke="#222" stroke-width="0.6"/>
<rect x="593.6" y="64.6" width="11.7" height="51.4" fill="#cccccc" stroke="#7a7a7a" stroke-width="0.7"/>
<line x1="599.5" y1="119" x2="599.5" y2="120.8" stroke="#222" stroke-width="0.6"/>
<rect x="607.5" y="65.1" width="11.7" height="50.9" fill="#cccccc" stroke="#7a7a7a" stroke-width="0.7"/>
<line x1="613.4" y1="119" x2="613.4" y2="120.8" stroke="#222" stroke-width="0.6"/>
<rect x="621.5" y="65.1" width="11.7" height="50.9" fill="#cccccc" stroke="#7a7a7a" stroke-width="0.7"/>
<line x1="627.4" y1="119" x2="627.4" y2="120.8" stroke="#222" stroke-width="0.6"/>
<rect x="635.4" y="68.2" width="11.7" height="47.8" fill="#cccccc" stroke="#7a7a7a" stroke-width="0.7"/>
<line x1="641.2" y1="119" x2="641.2" y2="120.8" stroke="#222" stroke-width="0.6"/>
<rect x="649.4" y="69" width="11.7" height="47" fill="#cccccc" stroke="#7a7a7a" stroke-width="0.7"/>
<line x1="655.2" y1="119" x2="655.2" y2="120.8" stroke="#222" stroke-width="0.6"/>
<rect x="663.3" y="69" width="11.7" height="47" fill="#cccccc" stroke="#7a7a7a" stroke-width="0.7"/>
<line x1="669.1" y1="119" x2="669.1" y2="120.8" stroke="#222" stroke-width="0.6"/>
<rect x="677.6" y="78.2" width="11.7" height="37.8" fill="#cccccc" stroke="#7a7a7a" stroke-width="0.7"/>
<line x1="683.5" y1="119" x2="683.5" y2="120.8" stroke="#222" stroke-width="0.6"/>
<rect x="691.5" y="80.2" width="11.7" height="35.8" fill="#cccccc" stroke="#7a7a7a" stroke-width="0.7"/>
<line x1="697.4" y1="119" x2="697.4" y2="120.8" stroke="#222" stroke-width="0.6"/>
<rect x="706" y="80.2" width="11.7" height="35.8" fill="#cccccc" stroke="#7a7a7a" stroke-width="0.7"/>
<line x1="711.9" y1="119" x2="711.9" y2="120.8" stroke="#222" stroke-width="0.6"/>
<rect x="732.5" y="107" width="11.7" height="9" fill="#cccccc" stroke="#7a7a7a" stroke-width="0.7"/>
<text transform="translate(586.5,138) rotate(-90)" font-size="7.6" font-weight="bold" text-anchor="end" fill="#222">FOXA2, HDAC2, MYB</text>
<text transform="translate(601.2,138) rotate(-90)" font-size="7.6" font-weight="bold" text-anchor="end" fill="#222">PRDM1, FOXA2, MYB</text>
<text transform="translate(615.2,138) rotate(-90)" font-size="7.6" font-weight="bold" text-anchor="end" fill="#222">PRDM1, FOXA2, HDAC2</text>
<text transform="translate(629.3,138) rotate(-90)" font-size="7.6" font-weight="bold" text-anchor="end" fill="#222">FOXA2, MYB, SPDEF</text>
<text transform="translate(644,138) rotate(-90)" font-size="7.6" font-weight="bold" text-anchor="end" fill="#222">FOXA2, HDAC2, SPDEF</text>
<text transform="translate(657.7,138) rotate(-90)" font-size="7.6" font-weight="bold" text-anchor="end" fill="#222">FOXA2, HDAC2</text>
<text transform="translate(672,138) rotate(-90)" font-size="7.6" font-weight="bold" text-anchor="end" fill="#222">FOXA2, MYB</text>
<text transform="translate(686.4,138) rotate(-90)" font-size="7.6" font-weight="bold" text-anchor="end" fill="#222">PRDM1, FOXA2, SPDEF</text>
<text transform="translate(700.8,138) rotate(-90)" font-size="7.6" font-weight="bold" text-anchor="end" fill="#222">PRDM1, FOXA2</text>
<text transform="translate(714.5,138) rotate(-90)" font-size="7.6" font-weight="bold" text-anchor="end" fill="#222">PRDM1, HDAC2, MYB</text>
<text transform="translate(741.3,138) rotate(-90)" font-size="7.6" font-weight="bold" text-anchor="end" fill="#222">SPEDF</text>
<text x="5" y="242.4" font-size="19.5" font-weight="bold">C</text>
<text x="58" y="261" font-size="11.3" text-anchor="middle">Attractor</text>
<text x="58" y="273.8" font-size="11.3" text-anchor="middle">landscape</text>
<text x="39" y="330.5" font-size="11.3" text-anchor="middle">Phenotype</text>
<text x="39" y="344.8" font-size="11.3" text-anchor="middle">landsscape</text>
<text x="318" y="251.6" font-size="12.2" text-anchor="middle">HDAC2</text>
<text x="490.6" y="251.6" font-size="12.2" text-anchor="middle">FOXA2</text>
<text x="659.3" y="251.6" font-size="12.2" text-anchor="middle">MYB</text>
<text x="144" y="396" font-size="12.2" text-anchor="middle">FOXA2, HDAC2</text>
<text x="321.9" y="396" font-size="12.2" text-anchor="middle">MYB, HDAC2</text>
<text x="491.3" y="396" font-size="12.2" text-anchor="middle">FOXA2, MYB</text>
<text x="659.7" y="396" font-size="12.2" text-anchor="middle">FOXA2, MYB, HDAC2</text>
<g clip-path="url(#tc0)">
<path d="M145.1,275.7 144.3,274.9 143.1,274.4 141.6,274.2 137.7,274.1 136.2,274.2 134.9,274.7 134,275.4 130.4,279.3 129.9,280.4 130.3,281.6 132.7,284 133.8,284.5 137.2,284.8 138.8,284.7 140.2,284.2 141.2,283.5 145.5,278.3 145.9,277.3Z M92.6,279.6 95.8,281.3 97.2,281.5 98.6,281.4 99.9,281 103.1,278.3 103.7,277.4 103.7,276.5 102.3,274.9 101.1,274.2 99.6,273.8 97.9,273.9 96.4,274.3 92.9,276 91.8,276.8 91.4,277.8 91.6,278.8Z M163.6,284.3 162.2,284.1 160.7,284.4 159.5,284.9 158.7,285.6 158.4,286.5 158.6,287.3 160.6,290.7 161.4,291.5 162.5,292.1 164,292.3 165.5,292.2 171.5,291.2 173,290.7 174,290 174.4,289.1 173.7,287.2 172.7,286.3 171.2,285.7Z M76.5,291.9 78,292.5 79.9,292.6 88.3,292 90,291.6 91.2,290.9 91.8,289.9 91.3,288.2 90.6,287.5 89.5,286.9 84.2,285 82.7,284.7 81.1,284.8 79.7,285.2 78.7,286 75.9,289.1 75.4,290 75.6,291Z M177.4,258.3 175.9,258.5 174.6,258.9 173.7,259.7 173.4,260.5 173.5,261.4 174.3,262.2 175.4,262.8 177,263.1 178.4,263.1 179.7,262.7 180.8,262.1 181.4,261.3 181.5,260.5 181.1,259.6 180.2,258.9 179,258.5Z M212.4,292.5 213.4,296.1 221.4,296.1 216.9,289.2Z M162,279.4 160.6,279.9 159.7,280.7 159.4,281.7 159.7,282.7 160.7,283.5 162.1,284 169.6,285.4 171,285.5 172.5,285.3 173.7,284.8 175.2,283.2 175.5,282.2 175.2,281.2 174.2,280.4 171.2,278.8 170,278.3 168.6,278.2 167.2,278.3Z M141.6,261.1 142.6,263.6 143.5,264.3 147.3,266.1 148.9,266.5 150.6,266.6 152.1,266.2 154.7,265.1 155.8,264.4 156.4,263.6 156.4,262.7 155.2,259.5 154.3,258.9 153.1,258.4 151.8,258.3 145.5,258.3 143.8,258.5 142.4,259.2 141.6,260.1Z M107.8,266.5 107.1,265.2 105.4,263.8 104.2,263.1 102.7,262.8 101.1,262.8 99.6,263.3 98.6,264 95.2,267.8 94.7,268.6 94.8,269.4 95.3,270.2 97.1,271.3 98.4,271.7 99.8,271.8 101.2,271.6 102.4,271.1 106.7,268.5 107.6,267.7Z M144.2,287.4 139.9,285.1 138.6,284.9 135.2,284.7 133.8,284.7 132.6,285.1 131.6,285.6 126.9,289.5 126.2,290.3 126.1,291.2 126.7,294 127.2,294.8 128,295.5 129.3,295.9 130.7,296.1 132.6,296 143.8,291.3 145,290.5 145.5,289.4 145.2,288.2Z M158.6,282.3 158.3,281.5 157.5,280.9 156.4,280.4 149.9,278.4 148.4,278.2 146.9,278.3 145.5,278.7 144.5,279.5 141.3,283.4 140.9,284.3 141.2,285.3 142.1,286.2 144.9,287.5 146.5,287.7 148,287.4 157.1,284.8 158.6,283.3Z M131.6,266.9 130.4,267.4 129.7,268.2 129.4,269 129.6,269.9 130.3,270.6 134.1,273.2 135.3,273.9 136.9,274.1 141.9,274.2 143.2,274.1 144.4,273.8 148.9,270.2 149.6,268.9 149.2,267.3 148.1,266.4 144.3,264.6 143,264.2 141.5,264.1 140,264.4Z M191.4,279.3 190.3,279.8 189.7,280.5 189.4,281.3 189.3,286 189.6,287 190.4,287.8 191.8,288.3 196.1,289.3 197.8,289.5 199.6,289.2 200.9,288.4 205.2,284.6 205.8,283.7 205.8,282.8 205.2,282 204.2,281.3 199.8,279.4 197.7,279 193.9,278.9Z M111.5,264.9 110.1,265.4 109.2,266.3 109,267.3 109.4,268.2 110.4,269 115.6,271.5 117,272 118.7,272.1 120.2,271.7 125.6,269.8 126.7,269.2 127.4,268.4 127.5,267.5 127.1,266.7 125,264.1 124.1,263.3 122.9,262.9 121.4,262.7 119.9,262.9Z M106.6,258.3 105.2,258.5 104,258.9 103.1,259.6 102.6,260.4 102.8,261.3 103.4,262.1 106,264.3 107.3,265 109,265.3 110.7,265.1 119.8,262.9 121.1,262.4 122,261.6 122.3,260.7 122,259.8 121.1,259 119.8,258.5 118.3,258.3Z M183.9,278.4 184.9,279.1 186.4,279.5 189.1,279.7 190.5,279.5 191.6,278.9 192.3,278.1 192.5,277.2 191.8,271.5 191.4,270.6 190.4,269.9 189.1,269.4 184.7,268.5 183.2,268.4 181.8,268.6 179.1,270 178.1,270.9 177.9,271.9 178.4,272.9Z M193.8,269.1 192.7,269.7 192,270.5 191.8,271.4 192.4,276.7 192.8,277.6 193.6,278.3 194.8,278.7 196.3,278.9 197.8,278.8 199.1,278.4 200,277.7 204.7,272.6 205.2,271.6 204.9,270.5 203.8,268.9 202.9,268 201.4,267.5 199.7,267.4 198.1,267.7Z M200.5,277.1 200.1,278 200.1,278.8 200.7,279.6 203.9,281.2 205.2,281.5 206.7,281.6 208.1,281.4 209.2,280.8 210,280.1 210.2,279.2 209.9,278.4 208.7,276.4 207.9,275.6 206.7,275.1 205.2,274.9 203.7,275 202.4,275.4Z M184.9,262.8 183.7,263.2 182.7,263.7 182.1,264.5 182,265.3 182.6,267.4 183.5,268.1 184.9,268.6 189.9,269.6 191.6,269.7 193.2,269.4 199.2,267.3 200.2,266.8 200.9,266 201.2,265.2 200.9,264.4 199.8,262.6 199,261.8 197.8,261.3 196.4,261.1 195,261.1Z M152.7,270.7 151.3,270.4 149.8,270.4 148.5,270.8 147.4,271.4 144.8,273.9 144.7,274.7 145,275.5 146.5,277.2 147.6,277.7 154,279.6 155.6,279.9 157.2,279.7 158.5,279.2 159.5,278.4 159.8,277.5 159.5,273.7 158.8,273 157.8,272.5Z M101.2,282.8 100,282.3 98.6,282.1 97.2,282.2 96,282.6 95,283.2 91.8,286.4 91.2,287.4 91.5,288.6 92.4,289.5 93.8,290.1 95.5,290.2 103.9,289.9 105.3,289.7 106.6,289.1 107.3,288.3 107.6,287.4 107.2,286.5 106.4,285.8Z M91.1,278.7 89.8,278.2 88.4,278 87,278.2 85.7,278.6 84.8,279.3 82.5,281.7 82.1,282.6 82.2,283.5 82.9,284.4 84,285 87.4,286.2 88.9,286.5 90.4,286.4 91.8,286 92.9,285.3 94.7,283.5 95.3,282.5 95.1,281.4 94.1,280.5Z M124.2,289.7 113.6,286.2 112.3,286.1 109.8,286.8 108.1,287.8 107,289 106.5,289.8 106.6,290.7 108.1,294.3 108.9,295.2 110.2,295.9 112,296.1 122.6,296.1 124.3,295.9 125.6,295.3 126.4,294.4 126.6,293.4 126.2,291.4 125.5,290.4Z M91.1,291.7 77.9,292.8 77.9,296.1 92.4,296.1Z M101.2,280.1 100.6,281.1 100.8,282.2 101.8,283.1 106.6,285.9 108,286.5 109.7,286.6 111.3,286.3 112.6,285.8 113.3,285 113.6,284.2 113.4,283.4 111,278.9 110.4,278.2 109.3,277.6 107.1,277.2 105.6,277.2 104.1,277.6 103.1,278.3Z M120.3,271.7 119.1,272.4 118.5,273.2 118.5,274.2 119,275.1 123.3,279 124.4,279.6 126.5,280.1 128.2,280.1 129.7,279.6 130.8,278.9 133.9,275.5 134.3,274.6 134.2,273.6 133.4,272.8 130.1,270.5 129.1,269.9 127.7,269.7 126.3,269.7 125,270Z M200.5,288.8 199.9,289.6 199.8,290.5 200.3,291.3 201.2,292 202.4,292.4 203.8,292.5 210.6,292.5 212.3,292.3 213.6,291.6 215.4,290.3 216.1,289.5 216.4,288.7 216.1,287.9 213.7,284.2 212.9,283.4 211.6,282.9 209.5,282.7 208.2,282.8 207,283.1 206.1,283.7Z M178.2,289.4 176.8,289.6 175.6,290 174.7,290.7 174.3,291.5 175.1,294.3 175.9,295.2 177.3,295.9 179,296.1 182.9,296.1 184.6,295.9 186,295.3 186.8,294.3 186.9,293.3 185.9,290.6 184.9,289.9 183.7,289.5Z M95.2,290.2 93.6,290.5 92.3,291.1 91.6,292 91.8,294.1 92.3,294.9 93.2,295.5 94.4,296 95.8,296.1 103.7,296.1 105.1,295.9 106.4,295.5 107.3,294.8 107.7,294 107.6,293.1 106.4,291 105.5,290.4 104.2,290 102.9,289.9Z M123.5,261.4 123.9,262.7 126.4,265.8 127.4,266.5 128.7,267 130.3,267.1 131.8,266.9 139.6,264.5 141,263.9 141.7,263 141.8,262 140.9,259.5 140,258.9 138.8,258.4 137.4,258.3 127.6,258.3 126.2,258.5 125,258.9 124.1,259.6Z M151.6,266.4 150.5,267.1 149.9,268 150,268.9 150.7,269.8 151.9,270.4 157.9,272.5 159.1,272.8 160.4,272.8 161.7,272.6 165.5,271.4 166.6,270.8 167.4,270.1 167.6,269.2 167.3,268.3 165.5,265.9 164.7,265.1 163.5,264.7 162.2,264.4 156.9,264.3Z M147.8,287.5 146.6,288 145.8,288.7 145.5,289.6 145.7,290.6 146.4,291.3 151.5,295.2 152.9,295.9 154.7,296.1 157.7,296 158.9,295.6 160.9,293.8 161.4,292.9 161.2,291.8 158.7,287.4 157.8,286.6 156.5,286 154.8,285.8 153.2,286Z M174,287.8 174.9,288.7 176.3,289.2 177.9,289.4 184.4,289.3 185.7,289.2 187.7,288.4 188.8,287.6 189.3,286.5 189.4,281.9 189,280.9 187.9,280 186.3,279.5 184.7,279.4 177.8,281.2 176.6,281.7 175.7,282.4 173.7,285.2 173.3,286.1Z M116.5,283.1 115.4,283.8 114.8,284.7 114.9,285.6 115.6,286.5 116.8,287.1 122.8,289.2 124.2,289.5 125.6,289.4 127,289.1 128,288.5 131.4,285.7 132.1,284.9 132.2,284.1 131.8,283.2 130.2,281.4 129.1,280.6 125.9,280 124.3,280 122.8,280.4Z M170.2,276.4 170,277.3 170.4,278.1 171.3,278.9 174.4,280.5 175.7,281 177.2,281.1 180.7,280.4 182,279.8 182.8,279 183,278 182.5,277 178.8,273.3 177.8,272.6 176.4,272.2 174.9,272.1 173.4,272.4 172.2,273 171.5,273.8Z M191.6,288.3 190,288.1 188.4,288.3 187,289 186.3,289.9 186.2,290.9 187.5,294.9 188.4,295.5 189.6,296 191,296.1 195.9,296.1 197.6,295.9 198.9,295.3 200.3,293.4 200.5,292.6 199.7,291 198.8,290.2 197.5,289.7Z M171.3,274.2 171.5,273.2 171,272.3 170.1,271.6 168.7,271.2 167.2,271.1 165.7,271.3 161.9,272.5 160.8,273 160,273.8 159.8,276.5 160.1,277.4 160.9,278.2 162.1,278.7 163.6,278.9 167.6,278.2 169.1,277.6 170,276.7Z M175.5,271.4 176.7,271.2 177.8,270.7 181,268.8 182,268 182.2,266.9 182,265.4 181.5,264.4 180.2,263.6 178.6,263.2 169.9,262.5 168,262.6 166.3,263.4 165.5,264.2 165.2,265.1 165.6,266 168.3,269.6 169,270.3 171.5,271.2 172.7,271.5Z M168,260.9 167.8,259.9 166.9,259.1 165.6,258.5 164,258.3 159.9,258.3 158.2,258.5 156.8,259.2 156,260.1 155.9,261.1 156.3,262.3 156.9,263.3 158.2,264 159.9,264.3 162.6,264.5 164.4,264.3 165.8,263.7 167.6,262.3Z M181.9,263.3 198.5,260.6 197,258.3 181.2,258.3Z M102.1,271.2 101.2,272.2 101,273.2 101.6,274.2 103.5,276.1 104.7,276.8 106.3,277.1 108.4,277.3 110.2,277.3 111.7,276.8 115.2,274.9 116.2,274.1 116.5,273.1 116.1,272.1 115,271.3 110.7,269.1 109.5,268.7 108,268.6 106.6,268.8 105.4,269.3Z M173.7,290.8 161.9,292.9 158.6,296.1 175.8,296.1Z M114,275.5 111.3,277.2 110.9,278.1 111.1,279 112.2,281.1 112.9,281.8 114,282.4 115.5,282.7 116.9,282.7 121,281.1 122.1,280.5 122.7,279.6 122.7,278.7 122.1,277.8 120,276 118.8,275.3 117.2,274.9 115.5,275Z M74.5,290.6 69.5,296.1 77.9,296.1 77.9,292.8Z M212.4,292.5 200.7,292.6 198.9,296.1 213.4,296.1Z M99.9,272.6 93.6,269.6 86.4,277.5 89.3,277.7Z M145.4,290.6 132.7,296.1 152.7,296.1Z" fill="none" stroke="#111" stroke-width="0.68"/>
<text x="138.2" y="281" font-size="4.6" fill="#3c8a2e" text-anchor="middle" font-weight="bold">1</text>
<text x="97.5" y="279.2" font-size="4.6" fill="#3c8a2e" text-anchor="middle" font-weight="bold">2</text>
<text x="165.2" y="289.8" font-size="4.6" fill="#3c8a2e" text-anchor="middle" font-weight="bold">3</text>
<text x="83.3" y="290.4" font-size="4.6" fill="#3c8a2e" text-anchor="middle" font-weight="bold">4</text>
<text x="174.8" y="261.4" font-size="4.6" fill="#3c8a2e" text-anchor="middle" font-weight="bold">5</text>
<text x="218.7" y="296.3" font-size="4.6" fill="#3c8a2e" text-anchor="middle" font-weight="bold">6</text>
<text x="168.8" y="283.1" font-size="4.6" fill="#3c8a2e" text-anchor="middle" font-weight="bold">7</text>
<text x="149.8" y="262.1" font-size="4.6" fill="#3c8a2e" text-anchor="middle" font-weight="bold">8</text>
<text x="98.4" y="268.9" font-size="4.6" fill="#3c8a2e" text-anchor="middle" font-weight="bold">9</text>
<text x="136.4" y="291.6" font-size="4.6" fill="#3c8a2e" text-anchor="middle" font-weight="bold">10</text>
<text x="148.4" y="284" font-size="4.6" fill="#3c8a2e" text-anchor="middle" font-weight="bold">11</text>
<text x="139" y="270.3" font-size="4.6" fill="#3c8a2e" text-anchor="middle" font-weight="bold">12</text>
<text x="197.1" y="286.6" font-size="4.6" fill="#3c8a2e" text-anchor="middle" font-weight="bold">13</text>
<text x="117.4" y="268.5" font-size="4.6" fill="#3c8a2e" text-anchor="middle" font-weight="bold">14</text>
<text x="113.4" y="262.5" font-size="4.6" fill="#3c8a2e" text-anchor="middle" font-weight="bold">15</text>
<text x="185.9" y="274.9" font-size="4.6" fill="#3c8a2e" text-anchor="middle" font-weight="bold">16</text>
<text x="198.1" y="274.4" font-size="4.6" fill="#3c8a2e" text-anchor="middle" font-weight="bold">17</text>
<text x="207.8" y="277.6" font-size="4.6" fill="#3c8a2e" text-anchor="middle" font-weight="bold">18</text>
<text x="190.6" y="266.5" font-size="4.6" fill="#3c8a2e" text-anchor="middle" font-weight="bold">19</text>
<text x="154.5" y="276.7" font-size="4.6" fill="#3c8a2e" text-anchor="middle" font-weight="bold">20</text>
<text x="98.5" y="287.5" font-size="4.6" fill="#3c8a2e" text-anchor="middle" font-weight="bold">21</text>
<text x="89.4" y="284.1" font-size="4.6" fill="#3c8a2e" text-anchor="middle" font-weight="bold">22</text>
<text x="115.7" y="293.2" font-size="4.6" fill="#3c8a2e" text-anchor="middle" font-weight="bold">23</text>
<text x="84.7" y="297.2" font-size="4.6" fill="#3c8a2e" text-anchor="middle" font-weight="bold">24</text>
<text x="106.4" y="282.5" font-size="4.6" fill="#3c8a2e" text-anchor="middle" font-weight="bold">25</text>
<text x="126" y="276.9" font-size="4.6" fill="#3c8a2e" text-anchor="middle" font-weight="bold">26</text>
<text x="207.5" y="290.7" font-size="4.6" fill="#3c8a2e" text-anchor="middle" font-weight="bold">27</text>
<text x="181.8" y="295.3" font-size="4.6" fill="#3c8a2e" text-anchor="middle" font-weight="bold">28</text>
<text x="99.4" y="295.7" font-size="4.6" fill="#3c8a2e" text-anchor="middle" font-weight="bold">29</text>
<text x="133.5" y="263.7" font-size="4.6" fill="#3c8a2e" text-anchor="middle" font-weight="bold">30</text>
<text x="160.1" y="270.9" font-size="4.6" fill="#3c8a2e" text-anchor="middle" font-weight="bold">31</text>
<text x="154.5" y="292" font-size="4.6" fill="#3c8a2e" text-anchor="middle" font-weight="bold">32</text>
<text x="181.5" y="286.4" font-size="4.6" fill="#3c8a2e" text-anchor="middle" font-weight="bold">33</text>
<text x="122.9" y="285.7" font-size="4.6" fill="#3c8a2e" text-anchor="middle" font-weight="bold">34</text>
<text x="175.6" y="278.6" font-size="4.6" fill="#3c8a2e" text-anchor="middle" font-weight="bold">35</text>
<text x="191.9" y="294.4" font-size="4.6" fill="#3c8a2e" text-anchor="middle" font-weight="bold">36</text>
<text x="165.1" y="276.7" font-size="4.6" fill="#3c8a2e" text-anchor="middle" font-weight="bold">37</text>
<text x="173.5" y="267.3" font-size="4.6" fill="#3c8a2e" text-anchor="middle" font-weight="bold">38</text>
<text x="161.4" y="260.8" font-size="4.6" fill="#3c8a2e" text-anchor="middle" font-weight="bold">39</text>
<text x="187.9" y="260.7" font-size="4.6" fill="#3c8a2e" text-anchor="middle" font-weight="bold">40</text>
<text x="108.5" y="275" font-size="4.6" fill="#3c8a2e" text-anchor="middle" font-weight="bold">41</text>
<text x="168.8" y="297.2" font-size="4.6" fill="#3c8a2e" text-anchor="middle" font-weight="bold">42</text>
<text x="116.9" y="280.5" font-size="4.6" fill="#3c8a2e" text-anchor="middle" font-weight="bold">43</text>
<text x="71.1" y="297.3" font-size="4.6" fill="#3c8a2e" text-anchor="middle" font-weight="bold">44</text>
<text x="207.6" y="297.3" font-size="4.6" fill="#3c8a2e" text-anchor="middle" font-weight="bold">45</text>
<text x="91.2" y="274.4" font-size="4.6" fill="#3c8a2e" text-anchor="middle" font-weight="bold">46</text>
<text x="143.3" y="297.4" font-size="4.6" fill="#3c8a2e" text-anchor="middle" font-weight="bold">47</text>
</g>
<g clip-path="url(#pc0)">
<rect x="69.5" y="308.9" width="151.9" height="37.9" fill="url(#g0r)"/>
<path d="M197.3,309 L222,347 L178.6,347 L179.7,342.6 L182.6,341.4 L183.7,339.2 L187.7,338 L191.1,335.8 L192.8,334 L195.6,332.3 L199.6,330.1 L196.8,328.9 L195.6,327.2 L192.8,324.4 L195.6,322.1 L197.9,318.7 L199,314.8 Z" fill="url(#g0b)" stroke="#222" stroke-width="0.4"/>
<path d="M179.5,347 L180,342.5 L184.5,342.2 L185,347 Z" fill="#f4f4f8"/>
</g>
<text x="146.2" y="330.4" font-size="12.3" text-anchor="middle" fill="#000" stroke="#000" stroke-width="0.25">87.5%</text>
<text x="200.5" y="345.5" font-size="12.3" text-anchor="middle" fill="#000" stroke="#000" stroke-width="0.25">12.5%</text>
<path d="M103.8,258.3 L197,258.3 L221.4,296.1 L69.5,296.1 Z" fill="none" stroke="#111" stroke-width="1.25"/>
<rect x="69.5" y="296.1" width="151.9" height="50.7" fill="none" stroke="#111" stroke-width="1.25"/>
<path d="M103.8,296.1 L103.8,308.9 L197,308.9 L197,296.1" fill="none" stroke="#111" stroke-width="1.25"/>
<path d="M103.8,308.9 L69.5,346.8 M197,308.9 L221.4,346.8" fill="none" stroke="#111" stroke-width="1.25"/>
<g clip-path="url(#tc1)">
<path d="M316.6,278.1 316.3,277.2 315.5,276.4 314.3,275.9 312.9,275.6 311.4,275.7 310.1,276.1 304.2,278.9 303.3,279.5 302.8,280.3 302.7,281.1 303.2,281.9 305.7,284.7 306.6,285.3 307.8,285.8 309.2,285.9 312.4,285.9 313.9,285.7 315.2,285.2 316.1,284.4 316.4,283.5Z M326.6,263.2 326.7,264.1 327.4,265 328.7,265.6 332.4,266.8 333.9,267 335.5,266.9 344.3,265.2 345.6,264.7 346.5,264.1 347,263.3 347,262.4 346.4,261.6 340.3,256.1 339.1,255.7 337.8,255.6 331.8,255.6 330.4,255.8 329.1,256.2 328.2,256.9 327.8,257.7Z M281.7,281.7 280.4,281.3 279,281.1 275.9,281.2 274.6,281.7 273.7,282.4 271.2,285.4 270.8,286.3 271,287.3 273.5,291.5 274.4,292.3 275.7,292.9 277.3,293.1 283.8,293 285,292.5 285.9,291.9 288.9,288.3 288.7,286.3 288.3,285.6Z M349,277.6 349.3,276.7 349,275.9 348.2,275.2 347.1,274.7 345.7,274.4 340.2,274 338.6,274.1 337.2,274.5 336.2,275.3 333,279.1 333.8,282.4 334.3,283.2 337.9,285.1 339.5,285.6 341.3,285.6 343.8,285.1 344.8,284.6 345.4,283.9Z M316.4,283.2 316.6,284.1 317.4,284.9 318.6,285.4 320.1,285.6 321.6,285.5 330.6,283.9 331.9,283.5 332.9,282.8 333.4,282 333.1,280.2 332.4,279.2 331,278.5 322.3,275.9 320.8,275.7 319.2,275.8 317.8,276.3 316.9,277.1 316.6,278Z M266.4,274.3 265.8,271 264.9,270.3 263.7,269.8 262.3,269.6 260.8,269.8 259.5,270.2 258.6,270.9 256.4,273.3 255.9,274.3 256.1,275.3 257,276.1 258.3,276.7 260.7,277.1 263.6,276.7 265.1,276.2 266.1,275.3Z M272.6,289.9 270.6,286.9 269.5,286.4 268.2,286.1 260.2,285.2 258.8,285.2 257.4,285.5 256.4,286.1 255.7,286.8 253.9,289.9 253.7,290.8 254,291.7 254.9,292.4 256.2,292.9 257.7,293.1 268.8,293.1 270.3,292.9 271.6,292.4 272.4,291.7 272.8,290.8Z M255.2,287.6 255.4,286.6 254.9,285.7 253.8,284.9 251.8,284 250.2,283.6 248.6,283.6 247,284 245.9,284.8 241.6,289.5 241.1,290.5 241.3,291.5 242.1,292.3 243.4,292.9 245.1,293.1 249.2,293.1 250.8,292.9 252.1,292.3 253,291.5Z M283.4,269 282.4,269.8 281.9,270.7 282.2,271.7 283.1,272.5 286.8,274.8 288,275.3 289.5,275.5 293,275.4 294.3,275 295.2,274.3 297.6,271.4 298,270.6 297.9,269.7 297.2,268.8 294.3,266.7 293,266.1 291.5,265.8 290,265.9 288.6,266.4Z M305.9,258.1 305.9,259.1 306.5,260 310,263 311.3,263.7 312.9,264 322.4,264.4 323.9,264.4 325.3,263.9 326.3,263.2 326.7,262.4 327.6,258.3 327.5,257.3 326.7,256.4 325.3,255.8 323.7,255.6 310,255.6 308.2,255.8 306.8,256.5Z M380.3,289.3 379.6,290.1 379.5,290.9 379.9,291.8 380.8,292.5 382,292.9 383.8,293.1 385.4,292.9 386.6,292.4 387.5,291.6 387.8,290.7 387.4,289.6 386.5,288.8 385.1,288.2 383.4,288.1 381.8,288.4Z M334.4,268.2 333.6,267.4 330.1,266.1 328.6,265.8 327,265.9 325.7,266.4 324.7,267.1 320.2,272.6 319.8,273.5 320,274.5 320.7,275.3 322,275.8 329.3,278 330.8,278.3 332.3,278.2 333.6,277.7 334.6,277 336.7,274.7 337.1,273.8 337,272.9Z M289.9,255.6 288.4,255.8 287.1,256.3 286.2,257 285.9,257.9 286.1,258.9 286.9,259.6 289.6,261.4 291,261.9 292.5,262.1 294.1,262 301.2,260.2 302.5,259.7 303.3,258.9 303.6,258 303.3,257.1 302.5,256.3 301.2,255.8 299.6,255.6Z M343.7,285.3 340.5,285.9 339.5,286.6 338.9,287.4 337.9,291.1 338.4,291.9 339.3,292.5 340.5,293 341.9,293.1 354.5,293.1 356,292.9 357.3,292.4 358.1,291.7 358.5,290.8 358.3,289.9 357.5,289.1 353.7,286.7 345.6,285.3Z M355.3,272.4 354.1,273 353.5,273.8 353.4,274.7 353.9,275.6 354.9,276.3 359.9,278.6 361.4,279.1 363,279.1 370.5,278.4 372.3,278 373.3,277.3 373.8,276.5 373.9,275.7 373.4,274.8 372.4,274.2 365.1,270.6 363.7,270.2 362.1,270.1 360.5,270.4Z M303.1,269.8 299.7,270.1 298.6,270.6 297.8,271.2 294.7,275.2 294.7,276 295.2,276.8 296.8,278.4 297.6,279 298.7,279.4 300.7,279.8 302.1,279.7 303.3,279.3 309.5,276.4 310.5,275.7 311,274.7 310.8,273.7 309.9,272.9 306.3,270.6 304.9,270Z M266.4,274.1 266.8,275 267.7,275.7 269,276.2 270.5,276.4 272,276.1 273.3,275.6 278.2,272.5 279,271.7 279.3,270.7 278.9,269.8 277,268.5 275.3,268 273.4,268 267.8,268.9 266.8,269.5 266.2,270.3Z M290.2,284.3 289.4,285.1 289.2,286 289.6,286.9 290.5,287.6 291.8,288.1 293.3,288.3 301.9,288.1 303.5,287.9 304.8,287.3 305.8,286.4 306,285.4 305.5,284.5 302.2,280.9 301.4,280.2 300.1,279.8 298.5,279.6 296.9,279.8 295.6,280.5Z M271.5,277.8 269.6,276.9 266.6,276.3 263.1,276.8 261.7,277.3 260.8,277.9 260.3,278.8 259.3,282.8 259.4,283.7 260,284.5 261.1,285.1 262.5,285.5 267.5,286 269.2,286 270.7,285.5 271.8,284.7 274.2,281.5 274.1,280.7 273.6,279.9Z M308.6,285.9 307,286.1 305.7,286.7 303.9,288.2 303.8,290.8 304.2,291.7 305.1,292.4 306.3,292.9 307.8,293.1 314.9,293.1 316.3,292.9 317.5,292.5 318.4,291.9 318.8,291.1 318.8,290.2 317.4,287 316.5,286.4 315.3,286Z M354,264 352.5,263.8 351,263.9 349.6,264.3 348.7,265.1 348.2,266 348.4,266.9 350.3,270.7 351,271.4 352.1,272 353.4,272.3 354.9,272.3 356.2,272 360.8,270.4 361.9,269.8 362.6,269 362.7,268.1 362.3,267.2 361.6,266.5Z M273.9,260.9 275.4,261.1 276.9,260.9 280.8,259.7 281.6,258.9 281.9,258 281.6,257.1 280.7,256.3 279.4,255.8 277.9,255.6 275,255.6 273.6,255.8 272.4,256.2 271,257.3 270.5,258.3 270.8,259.4 271.7,260.2Z M290.2,265.5 291.3,264.7 291.6,263.6 291.3,262.7 287.4,259.9 286,259.3 284.5,259.1 282.9,259.3 277.8,260.6 276.6,261.1 275.7,261.9 275.4,262.8 275.4,266.6 275.8,267.6 276.7,268.4 279.1,269.5 280.5,269.7 281.9,269.5 283.2,269.1Z M294.4,261.9 293.2,262.4 292.3,263.1 291.9,264 292.1,264.8 292.8,265.6 297.5,269.1 299,269.8 300.9,269.9 303,269.8 304.8,269.5 306.1,268.7 309.7,265.2 310.2,264.4 310.2,263.4 309.5,262.6 307.3,260.7 306,260 304.3,259.7 302.6,259.9Z M320.9,285.7 319.6,286.1 318.6,286.7 318.1,287.6 318.2,288.5 319.2,291.2 319.9,292.2 321.3,292.9 323.1,293.1 333.7,293.1 335.5,292.9 336.9,292.2 337.6,291.2 338.9,287.3 339,286.4 338.5,285.6 335.7,284.1 334.6,283.7 333.3,283.5 332,283.6Z M368.7,286.1 368.8,287.1 369.5,288.1 370.8,288.7 376.4,290.3 377.8,290.3 379.1,290 383.5,286.6 384.1,285.9 384.3,285.1 384,284.3 380.1,278.3 379.3,277.5 378.1,277 376.7,276.8 375.2,276.9 373.9,277.2 371.7,278.4 371.2,279.2Z M346.4,274.5 348,274.4 349.4,273.9 350.4,273.2 350.9,272.3 350.7,271.4 348.4,266.9 347.7,266.1 346.4,265.5 344.9,265.2 343.3,265.4 337.7,266.5 336.3,266.9 335.4,267.7 334.9,268.6 335.1,269.5 336.7,272.4 337.4,273.2 338.6,273.7 340,274Z M355.2,276.5 353.9,276.1 352.4,276 351,276.2 349.8,276.8 349,277.6 346.1,282.7 345.9,283.7 346.3,284.6 347.4,285.4 348.9,285.8 350.9,286.1 352.6,286.2 354.2,285.8 355.4,285.1 359.4,281.1 359.9,280.3 359.9,279.4 359.4,278.6Z M314.8,275 316.6,275 318.1,274.6 319.2,273.8 324.1,267.8 324.5,266.9 324.4,266 323.6,265.2 322.4,264.6 320.9,264.4 313.5,264 312,264.1 310.7,264.5 309.8,265.1 306.6,268.2 306.1,269.2 306.2,270.2 307.1,271.1 312.1,274.2 313,274.7Z M353.2,260.9 352.6,261.8 352.7,262.8 353.5,263.6 354.8,264.3 359.7,265.8 361.4,266.1 363.1,265.9 364.5,265.3 367.8,263.2 368.6,262.4 368.9,261.5 368.6,260.6 366.3,257.1 365.4,256.3 364.1,255.8 362.6,255.6 359.7,255.7 358.5,256.1Z M263.8,265.2 263.3,266.1 263.4,267 264.1,267.9 265.2,268.5 266.7,268.8 268.2,268.7 272.3,268.1 273.9,267.7 275,266.8 275.4,265.8 275.4,262.9 275.1,262 274.1,261.2 272.8,260.7 270.6,260.4 269.2,260.5 268,261 267.1,261.6Z M357,288.8 358.3,289.3 359.8,289.6 361.4,289.4 366.1,288.4 367.2,288 368.1,287.4 370.3,281.7 370.3,280.8 369.8,279.9 368.7,279.3 367.3,278.9 363.1,279.1 361.5,279.5 360.3,280.2 355.3,285.1 354.8,286 354.9,287Z M365.6,288.5 364.3,289 363.4,289.7 363.1,290.7 363.4,291.6 364.2,292.4 365.5,292.9 367.1,293.1 369.9,292.9 371.2,292.4 372.1,291.7 372.4,290.8 372.2,289.9 371.5,289.1 369.7,288.4 368.1,288.1Z M295.6,280.4 296.4,279.6 296.5,278.6 295.2,276.8 294.3,276.2 293.2,275.8 289.9,275.5 288.1,275.8 286.6,276.5 282.8,279.4 282.1,280.1 282,281 282.4,281.9 283.3,282.6 285.4,283.8 286.8,284.3 288.4,284.4 289.9,284.2 291.2,283.6Z M303.8,290.5 303.5,289.6 302.6,288.8 301.2,288.3 299.7,288.2 291.4,288.3 290.1,288.5 288.9,288.9 288,289.5 287.5,290.5 287.7,291.5 288.6,292.3 289.9,292.9 291.5,293.1 299.8,293.1 301.4,292.9 302.7,292.4 303.6,291.6Z M368,272 369.3,272.4 370.7,272.5 372.2,272.3 373.4,271.8 374.2,271 374.5,270.2 374.2,269.3 371.8,265.6 370.9,264.8 369.6,264.3 368,264.1 366.5,264.3 363.7,265.8 362.8,266.7 362.6,267.7 363.2,269.5 364.2,270.2Z M278.6,281.1 280.3,280.8 281.8,280.2 285.7,277.1 286.4,276.4 286.6,275.5 286.2,274.7 285.5,274 283.5,272.8 282.2,272.2 280.6,272 279,272.2 277.7,272.8 272.9,275.8 272,276.7 271.8,277.8 272.4,278.8 274.5,280.5 275.7,280.9Z M346.1,261.3 347.2,261.9 348.7,262.3 350.2,262.3 351.7,261.9 352.8,261.2 354.9,259.3 355.5,258.3 355.3,257.3 354.5,256.4 353.2,255.8 351.5,255.6 347.3,255.6 345.7,255.8 344.3,256.4 343.5,257.3 343.4,258.3 344,259.3Z M252.9,284.5 254.4,284.9 256,284.9 257.6,284.6 258.7,283.9 259.3,282.9 260.2,279.1 260.1,278.1 259.2,277.2 257.6,276.5 256.2,276.3 254.7,276.4 253.4,276.9 252.5,277.6 249.8,280.5 249.3,281.3 249.4,282.2 249.9,283Z" fill="none" stroke="#111" stroke-width="0.68"/>
<text x="310.2" y="281.8" font-size="4.6" fill="#3c8a2e" text-anchor="middle" font-weight="bold">1</text>
<text x="339.2" y="262.4" font-size="4.6" fill="#3c8a2e" text-anchor="middle" font-weight="bold">2</text>
<text x="279.8" y="287.5" font-size="4.6" fill="#3c8a2e" text-anchor="middle" font-weight="bold">3</text>
<text x="342.9" y="279.7" font-size="4.6" fill="#3c8a2e" text-anchor="middle" font-weight="bold">4</text>
<text x="322.8" y="281.9" font-size="4.6" fill="#3c8a2e" text-anchor="middle" font-weight="bold">5</text>
<text x="260.3" y="273.6" font-size="4.6" fill="#3c8a2e" text-anchor="middle" font-weight="bold">6</text>
<text x="262.9" y="291.1" font-size="4.6" fill="#3c8a2e" text-anchor="middle" font-weight="bold">7</text>
<text x="247.2" y="287.8" font-size="4.6" fill="#3c8a2e" text-anchor="middle" font-weight="bold">8</text>
<text x="289.3" y="272.3" font-size="4.6" fill="#3c8a2e" text-anchor="middle" font-weight="bold">9</text>
<text x="315.4" y="260.5" font-size="4.6" fill="#3c8a2e" text-anchor="middle" font-weight="bold">10</text>
<text x="387.8" y="292.6" font-size="4.6" fill="#3c8a2e" text-anchor="middle" font-weight="bold">11</text>
<text x="328.5" y="275" font-size="4.6" fill="#3c8a2e" text-anchor="middle" font-weight="bold">12</text>
<text x="296.5" y="258.2" font-size="4.6" fill="#3c8a2e" text-anchor="middle" font-weight="bold">13</text>
<text x="348.3" y="293.4" font-size="4.6" fill="#3c8a2e" text-anchor="middle" font-weight="bold">14</text>
<text x="361" y="275.9" font-size="4.6" fill="#3c8a2e" text-anchor="middle" font-weight="bold">15</text>
<text x="303.4" y="276.6" font-size="4.6" fill="#3c8a2e" text-anchor="middle" font-weight="bold">16</text>
<text x="271.9" y="273.1" font-size="4.6" fill="#3c8a2e" text-anchor="middle" font-weight="bold">17</text>
<text x="297.1" y="286" font-size="4.6" fill="#3c8a2e" text-anchor="middle" font-weight="bold">18</text>
<text x="265.3" y="283.2" font-size="4.6" fill="#3c8a2e" text-anchor="middle" font-weight="bold">19</text>
<text x="310.4" y="293.1" font-size="4.6" fill="#3c8a2e" text-anchor="middle" font-weight="bold">20</text>
<text x="355" y="269.9" font-size="4.6" fill="#3c8a2e" text-anchor="middle" font-weight="bold">21</text>
<text x="274.9" y="257.4" font-size="4.6" fill="#3c8a2e" text-anchor="middle" font-weight="bold">22</text>
<text x="281.5" y="266.7" font-size="4.6" fill="#3c8a2e" text-anchor="middle" font-weight="bold">23</text>
<text x="301.9" y="266.1" font-size="4.6" fill="#3c8a2e" text-anchor="middle" font-weight="bold">24</text>
<text x="327.4" y="290.9" font-size="4.6" fill="#3c8a2e" text-anchor="middle" font-weight="bold">25</text>
<text x="375.1" y="287" font-size="4.6" fill="#3c8a2e" text-anchor="middle" font-weight="bold">26</text>
<text x="344.4" y="271.9" font-size="4.6" fill="#3c8a2e" text-anchor="middle" font-weight="bold">27</text>
<text x="353.3" y="281.8" font-size="4.6" fill="#3c8a2e" text-anchor="middle" font-weight="bold">28</text>
<text x="314" y="270.6" font-size="4.6" fill="#3c8a2e" text-anchor="middle" font-weight="bold">29</text>
<text x="360.5" y="263.5" font-size="4.6" fill="#3c8a2e" text-anchor="middle" font-weight="bold">30</text>
<text x="269.4" y="266.7" font-size="4.6" fill="#3c8a2e" text-anchor="middle" font-weight="bold">31</text>
<text x="363.3" y="285.5" font-size="4.6" fill="#3c8a2e" text-anchor="middle" font-weight="bold">32</text>
<text x="368.9" y="294.2" font-size="4.6" fill="#3c8a2e" text-anchor="middle" font-weight="bold">33</text>
<text x="288.6" y="281.8" font-size="4.6" fill="#3c8a2e" text-anchor="middle" font-weight="bold">34</text>
<text x="297.4" y="293.4" font-size="4.6" fill="#3c8a2e" text-anchor="middle" font-weight="bold">35</text>
<text x="370.3" y="268.9" font-size="4.6" fill="#3c8a2e" text-anchor="middle" font-weight="bold">36</text>
<text x="280" y="277.7" font-size="4.6" fill="#3c8a2e" text-anchor="middle" font-weight="bold">37</text>
<text x="348.5" y="258.9" font-size="4.6" fill="#3c8a2e" text-anchor="middle" font-weight="bold">38</text>
<text x="254.1" y="282.2" font-size="4.6" fill="#3c8a2e" text-anchor="middle" font-weight="bold">39</text>
</g>
<g clip-path="url(#pc1)">
<rect x="238.3" y="306.2" width="151.4" height="37.7" fill="url(#g1r)"/>
<path d="M262,306 L287.3,306 L288.3,310.3 L287.3,313.5 L291.5,316.7 L296.9,314.6 L302.2,313.9 L306.5,317.8 L311.8,322 L312.9,326.3 L306.5,328.5 L300.1,329.5 L291.5,329.1 L288.3,326.3 L283,322 L276.6,318.8 L270.2,316.1 L262,312 Z" fill="url(#g1b)" stroke="#333" stroke-width="0.35"/>
</g>
<text x="296.3" y="328.6" font-size="12.3" text-anchor="middle" fill="#000" stroke="#000" stroke-width="0.25">12.5%</text>
<text x="344" y="328.6" font-size="12.3" text-anchor="middle" fill="#000" stroke="#000" stroke-width="0.25">87.5%</text>
<path d="M272.6,255.6 L365.3,255.6 L389.7,293.1 L238.3,293.1 Z" fill="none" stroke="#111" stroke-width="1.25"/>
<rect x="238.3" y="293.1" width="151.4" height="50.8" fill="none" stroke="#111" stroke-width="1.25"/>
<path d="M272.6,293.1 L272.6,306.2 L365.3,306.2 L365.3,293.1" fill="none" stroke="#111" stroke-width="1.25"/>
<path d="M272.6,306.2 L238.3,343.9 M365.3,306.2 L389.7,343.9" fill="none" stroke="#111" stroke-width="1.25"/>
<g clip-path="url(#tc2)">
<path d="M436.2,294.1 Q435.6,291.1 436.8,288.2 M423.6,277.3 Q429,284.2 436.8,288.2 M434.2,265.7 Q437,271.4 442,275.4 M440,259.2 Q444.9,267.7 454.2,270.1 M454.2,270.1 Q449.1,275.1 442,275.4 M436.8,288.2 Q437.6,286.3 439.4,285.3 M439.4,285.3 Q438.6,279.8 442,275.4 M439.4,285.3 Q449.5,281.5 460,284.5 M460,284.5 Q459.8,289.6 462.4,294.1 M549.7,278.4 Q542.5,284 533.5,282.5 M532.9,294.1 Q533.4,288.3 533.5,282.5 M454.2,270.1 Q454.7,269.9 455.1,270.1 M460,284.5 Q459.9,280.7 461.6,277.3 M455.1,270.1 Q458.7,273.5 461.6,277.3 M538.7,261.4 Q534.2,263.8 532.6,268.7 M533.5,282.5 Q533.1,281.8 532.6,281.2 M532.6,268.7 Q536.2,274.9 532.6,281.2 M532.6,268.7 Q524,269.4 516.2,265.7 M515.1,256.3 Q517.6,260.8 516.2,265.7 M455.1,270.1 Q460.1,264 458.9,256.3 M461.6,277.3 Q464.3,277.5 466.4,275.8 M476.5,256.3 Q475.5,258.9 476.6,261.6 M466.4,275.8 Q474.2,270.7 476.6,261.6 M496.1,256.3 Q493.9,264.9 496.7,273.3 M516.2,265.7 Q513,268.2 513.3,272.3 M496.7,273.3 Q505.2,275.7 513.3,272.3 M532.6,281.2 Q523.9,282.3 516,278.5 M511.1,294.1 Q516.8,287.3 516,278.5 M516,278.5 Q514.6,275.4 513.3,272.3 M480.6,288.6 Q480.1,284 477.2,280.4 M480.6,288.6 Q488.3,284 495.2,278.4 M477.2,280.4 Q480.2,275.8 484,271.7 M484,271.7 Q490,272.3 495.5,274.7 M495.2,278.4 Q495.2,276.6 495.5,274.7 M479.5,294.1 Q479.4,291.2 480.6,288.6 M466.4,275.8 Q472.8,275.6 477.2,280.4 M502.5,294.1 Q501.9,284.8 495.2,278.4 M476.6,261.6 Q478.4,268 484,271.7 M496.7,273.3 Q495.7,273.7 495.5,274.7" fill="none" stroke="#111" stroke-width="0.7"/>
<text x="448.7" y="262.4" font-size="4.6" fill="#3c8a2e" text-anchor="middle" font-weight="bold">1</text>
<text x="443.9" y="268.7" font-size="4.6" fill="#3c8a2e" text-anchor="middle" font-weight="bold">3</text>
<text x="433.5" y="277" font-size="4.6" fill="#3c8a2e" text-anchor="middle" font-weight="bold">18</text>
<text x="449.3" y="281.2" font-size="4.6" fill="#3c8a2e" text-anchor="middle" font-weight="bold">4</text>
<text x="423.7" y="288.9" font-size="4.6" fill="#3c8a2e" text-anchor="middle" font-weight="bold">19</text>
<text x="449.8" y="291.6" font-size="4.6" fill="#3c8a2e" text-anchor="middle" font-weight="bold">14</text>
<text x="465.4" y="267" font-size="4.6" fill="#3c8a2e" text-anchor="middle" font-weight="bold">2</text>
<text x="487.9" y="266.6" font-size="4.6" fill="#3c8a2e" text-anchor="middle" font-weight="bold">8</text>
<text x="505" y="266" font-size="4.6" fill="#3c8a2e" text-anchor="middle" font-weight="bold">6</text>
<text x="526.8" y="263.2" font-size="4.6" fill="#3c8a2e" text-anchor="middle" font-weight="bold">9</text>
<text x="476.4" y="274.9" font-size="4.6" fill="#3c8a2e" text-anchor="middle" font-weight="bold">13</text>
<text x="484.1" y="281" font-size="4.6" fill="#3c8a2e" text-anchor="middle" font-weight="bold">12</text>
<text x="471.6" y="286.2" font-size="4.6" fill="#3c8a2e" text-anchor="middle" font-weight="bold">11</text>
<text x="490.4" y="289.9" font-size="4.6" fill="#3c8a2e" text-anchor="middle" font-weight="bold">16</text>
<text x="506" y="282.6" font-size="4.6" fill="#3c8a2e" text-anchor="middle" font-weight="bold">5</text>
<text x="524.8" y="274.7" font-size="4.6" fill="#3c8a2e" text-anchor="middle" font-weight="bold">10</text>
<text x="540.4" y="274.7" font-size="4.6" fill="#3c8a2e" text-anchor="middle" font-weight="bold">17</text>
<text x="522.7" y="287.8" font-size="4.6" fill="#3c8a2e" text-anchor="middle" font-weight="bold">7</text>
<text x="543.9" y="288.9" font-size="4.6" fill="#3c8a2e" text-anchor="middle" font-weight="bold">16</text>
</g>
<g clip-path="url(#pc2)">
<rect x="408.4" y="307.4" width="91.6" height="37.4" fill="url(#g2r)"/>
<rect x="505" y="307.4" width="54.8" height="37.4" fill="url(#g2r2)"/>
<path d="M493,306 L513,306 C510,315 508,322 510,332 C510,338 508,342 507.5,346 L499,346 C497,340 497,336 494,332 C491,329 488,331 486.5,334 C484,337 478,335 474.5,329 C471,324 472,319 476,318.6 C481,318 484,321 487.5,319.5 C491.5,317 492,312 493,306 Z" fill="url(#g2b)" stroke="#333" stroke-width="0.35"/>
</g>
<text x="450" y="333.5" font-size="12.3" text-anchor="middle" fill="#000" stroke="#000" stroke-width="0.25">74.0%</text>
<text x="509.7" y="327.5" font-size="12.3" text-anchor="middle" fill="#000" stroke="#000" stroke-width="0.25">26.0%</text>
<path d="M442.7,256.3 L535.4,256.3 L559.8,294.1 L408.4,294.1 Z" fill="none" stroke="#111" stroke-width="1.25"/>
<rect x="408.4" y="294.1" width="151.4" height="50.7" fill="none" stroke="#111" stroke-width="1.25"/>
<path d="M442.7,294.1 L442.7,307.4 L535.4,307.4 L535.4,294.1" fill="none" stroke="#111" stroke-width="1.25"/>
<path d="M442.7,307.4 L408.4,344.8 M535.4,307.4 L559.8,344.8" fill="none" stroke="#111" stroke-width="1.25"/>
<g clip-path="url(#myb)">
<path d="M651.8,280.4 650.2,280.3 648.6,280.7 647.5,281.4 646.9,282.3 647,283.3 648.3,285.4 649.5,286 651.6,286.3 653.3,286.2 654.8,285.7 655.7,284.8 655.9,283.8 655.3,281.7 654.3,280.9Z M696.4,292.3 696.8,293.2 697.7,293.9 699,294.3 701.6,294.5 703.3,294.3 704.6,293.7 705.5,292.8 706,291.3 705.6,290.4 704.7,289.7 703.4,289.2 700.2,289.1 698.7,289.3 697.3,289.9 696.5,290.7Z M670,262.8 668.7,262.2 667.1,261.9 665.2,262 661.1,263.8 660.1,264.4 659.2,266.9 659.3,267.9 660,268.8 661.2,269.4 663.9,270.3 665.6,270.6 667.3,270.4 668.8,269.9 672.2,267.7 672.9,267 673.2,266.2 673,265.3 672.4,264.6Z M708,278.2 703.2,278.7 702.1,279.2 701.3,280 701.1,280.8 701.4,281.7 703.9,283.5 705.3,284.1 708,284.2 709.7,284 711.1,283.3 711.8,282.4 712.4,280.2 711.9,279.3 710.9,278.7 709.5,278.3Z M668.4,285.1 669.7,285.3 671.1,285.3 672.4,284.9 673.6,284.1 674.3,283.2 674.3,282.2 673.6,281.3 672.3,280.7 669.6,279.9 668.2,279.9 666.6,280.4 665.5,280.9 664.8,281.7 664.7,282.5 665,283.4 665.7,284.1Z M673.3,289.5 674.3,290 675.6,290.2 676.9,290.2 680.2,289.6 681.2,289.1 684.2,285.1 684.4,284.1 684,283.1 683,282.4 681.6,281.9 678.9,281.5 677.4,281.7 676.3,282 675.4,282.6 672.3,285.2 671.7,286.1 671.9,288 672.3,288.7Z M649.6,264.1 648.7,267.3 649.1,268.2 650.1,268.8 652.8,269.5 654.3,269.6 656.8,269.1 657.9,268.7 658.7,268 659.5,265.8 659.4,264.9 658.8,264.1 655.8,262.7 654.3,262.3 652.8,262.3 651.3,262.6 650.2,263.3Z M661.3,285.6 660.3,286.3 659.8,287.1 659.9,288.1 660.5,288.9 661.7,289.5 663.1,289.9 667.2,289.5 668.6,289.1 669.7,288.3 670.2,287.4 670.1,286.4 669.3,285.6 668,285 665.6,284.4 664.1,284.5Z M692.9,261.5 692.3,263.7 692.9,264.6 694,265.3 695.5,265.7 697.2,265.7 701.1,265.1 702.5,264.7 703.5,264 704.1,263.1 703.5,260.8 702.7,259.9 701.4,259.2 699.7,259 698,259.2 695.2,259.9 693.7,260.5Z M685.2,280.8 684.5,281.6 684.3,282.5 684.7,283.4 685.7,284.1 687,284.5 690.7,285.3 692.3,285.4 693.9,285.2 695.1,284.5 698.1,282.2 698.9,281.3 698.9,280.3 698.2,279.3 697,278.7 693.7,277.7 692.4,277.7 689.2,278.1 688,278.7Z M662,257.9 661.2,257.1 659.9,256.7 655.6,256.5 653.9,256.7 652.5,257.4 651.7,258.4 651.4,260 652,260.9 653.1,261.5 657.4,263.3 659,263.7 660.6,263.7 662.2,263.2 663.8,262.2 664.2,261.1 663.8,260.1Z M713.3,277.8 713.5,278.1 723.5,280.7 724.6,280.5 719.5,270.7 714,274.3Z M665,274.5 666,273.8 666.5,272.9 666.4,272 665.7,271.1 664.5,270.5 660.6,269.2 658.8,268.9 656.9,269.1 655.3,269.7 654.5,270.4 654.2,271.2 653.9,273.1 654.2,274.2 655.4,275.1 656.9,275.9 658.5,276.3 660.2,276.4 661.8,275.9Z M692.9,261.5 692.9,260.4 692.2,259.4 689.6,257.4 688.2,256.7 685.2,256.5 683.5,256.7 682.1,257.3 681.3,258.3 681.3,259.3 682.2,261.6 683.2,262.3 687.9,263.3 689.5,263.3 691,263 692.2,262.4Z M663.8,260.1 664.8,260.9 666.2,261.4 667.9,261.5 669.4,261.1 670.7,260.5 671.5,259.5 671.6,258.6 671.2,257.8 670.3,257.1 669.1,256.7 667.3,256.5 665.7,256.7 664.4,257.2 663.5,258 663.3,259Z M709.1,256.5 705.4,256.7 704.2,257.1 703.3,257.8 702.9,258.6 702.9,259.4 704.2,262.8 704.9,263.7 706.2,264.3 707.7,264.6 709.4,264.5 710.8,264 713.8,262.2 714.2,261.3 714.1,260.4 712.9,258.2 712.1,257.3 710.7,256.7Z M689.3,269.2 684.6,270.5 683.7,271.2 683.3,272 683.4,272.9 684,273.7 687,276.1 688.1,276.8 689.6,277.1 691.2,277 692.7,276.6 693.7,275.9 694.2,275 694.8,271.7 694.6,270.7 693.8,269.9 692.5,269.3 690.9,269Z M681.6,269.4 682.9,269.9 684.4,270.1 686,270 690.4,268.9 691.9,268.3 692.8,267.4 693.1,266.2 692.6,265 691.5,264.1 689.9,263.6 684.6,262.7 683.1,262.7 681.6,262.9 680.4,263.5 678.2,265.4 678,266.3 678.4,267.1 679.1,267.9Z M720.8,287.8 719.4,287.5 718,287.5 716.6,287.8 714.7,289.1 713.9,290.1 714,291.2 714.8,292.8 715.6,293.7 717,294.3 718.6,294.5 724.9,294.5 726.4,294.3 727.6,293.9 728.5,293.2 728.9,292.3 728.8,291.4 728.1,290.6 727,290Z M677.5,276.6 676.8,275.7 675.6,275 674.1,274.6 672,274.6 670.5,275.1 669.5,275.9 669.1,276.9 669.2,278.9 669.9,279.7 672,280.6 673.4,280.8 674.9,280.8 676.3,280.4 677.3,279.8 677.9,278.9Z M696.4,278.5 697.9,278.8 699.4,278.7 700.8,278.3 701.8,277.5 702.3,276.7 702.8,273.1 702.2,272.3 701.2,271.7 699.9,271.3 697.8,271.2 696.2,271.6 695,272.3 694.5,273.3 694,276 694.1,276.9 694.8,277.7Z M665.1,289.8 663.6,290.2 662.5,290.9 662,291.9 662.2,292.9 663,293.7 664.4,294.3 666,294.5 670.1,294.5 671.9,294.3 673.2,293.6 674,292.6 674.3,291 673.6,290.1 672.5,289.5 671,289.1 669.4,289.1Z M711.3,273.5 713,273.8 714.7,273.6 716.1,273 717.3,271.8 717.5,270.8 716.9,269.8 715.7,269.1 712.2,267.7 710.9,267.4 709.5,267.3 708.2,267.6 707.1,268.1 705.9,269.4 705.6,270.3 705.9,271.2 706.7,271.9Z M719.1,287.2 730.3,291.2 724.6,280.5 723.5,280.7Z M682.2,288 681.9,289 682.3,290 683.3,290.8 685.2,291.4 686.9,291.5 688.5,291.2 692.2,289.7 693.3,289.1 693.9,288.3 694,287.4 693.6,286.6 692.6,285.9 688.4,284.8 686.9,284.7 685.5,284.9 684.2,285.5Z M667.3,272.6 668,273.4 669.1,274 670.6,274.3 675.4,274.7 676.9,274.7 678.3,274.3 681.2,273.1 682.3,272.3 682.8,271.3 682.6,270.3 681.7,269.4 678.4,267.4 677.1,266.9 675.5,266.7 674,266.9 672.6,267.4 668.2,270.2 667.5,270.9 667.1,271.7Z M661.7,280.1 660.4,279.9 658.9,279.9 657.6,280.2 656.6,280.8 655.9,281.6 655.9,283.4 656.4,284.4 657.5,285.2 659.1,285.6 660.8,285.6 662.3,285.1 664.3,283.9 664.7,282.7 664.4,281.6 663.7,281Z M678.3,279.5 678.9,280.4 679.9,281.1 681.2,281.5 682.8,281.5 684.2,281.2 687.1,279.3 687.9,278.4 688,277.4 687.3,276.4 684.9,274.4 683.7,273.8 682.3,273.4 680.7,273.5 679.3,273.9 678,274.6 677.4,275.5 677.4,276.3Z M645.7,287.7 644.9,288.4 644.5,289.3 644.7,290.1 645.5,290.9 646.6,291.5 648,291.8 654.1,292.2 655.7,292.1 657.1,291.7 658.1,291 658.6,290.1 658.1,288.3 657.4,287.4 656.1,286.8 654.6,286.5 650.1,286.3 648.4,286.4Z M686,292.1 681.1,289.6 674.8,290.4 673.3,294.5 686.6,294.5Z M703.7,256.5 688.4,256.5 693.3,260.3 702.4,258.1Z M654.3,269.8 647.9,268.6 645.6,275.4 649.2,276.3 653.7,274.3Z M694.2,287.5 695.1,288.3 696.5,288.9 700.3,289.1 702,288.8 703.4,288.1 704.1,287.2 704.7,285.5 704.6,284.3 703.6,283.3 701.6,282.4 699.9,282.2 698.3,282.5 697,283.1 694.1,285.5 693.8,286.3Z M707.9,265.6 708.2,266.1 719.4,270.6 714.8,261.9Z M686,292.1 686.6,294.5 696.8,294.5 696,289.1 694.9,288.7Z M648.3,286.2 646.2,281.6 643.8,281.3 642.5,286 642.3,289.7Z M696,265.8 694.6,266.2 693.5,267 693,267.9 693.1,268.8 694.2,269.9 696.2,270.7 700.7,271.4 702.2,271.5 703.6,271.3 704.7,270.8 706.8,268.2 707,267.3 706.8,266.5 706.1,265.7 704.9,265.2 703.6,264.9 702.1,264.9Z M658.3,292.5 642.2,291.3 642,294.5 659,294.5Z M670.8,263.4 673.6,265.3 675,265.6 676.4,265.6 677.7,265.3 678.8,264.7 681,263.1 681.7,262.3 681.8,261.2 681.1,258.8 680.5,257.9 679.5,257.2 678.1,256.8 676.5,256.8 675,257.1 673.9,257.8 670.6,260.5 670,261.4 670,262.5Z M657.6,280 658.5,279.4 659.1,278.6 659.1,277.7 658.6,276.9 657.7,276.3 656.1,275.5 654.6,275 652.8,275 651.3,275.4 650,276.1 649.4,276.8 649.3,278.2 649.7,279.2 650.8,280 653.7,280.7 655.5,280.7Z M712.4,280.9 711.5,283.7 711.9,284.5 713.9,285.9 715.2,286.5 716.7,286.7 718.3,286.5 719.6,286 720.5,285.2 722.1,282.9 722.3,282 722,281.1 721.2,280.3 717.9,279.2 716.2,279 714.5,279.3 713.2,279.9Z M645.6,275.4 643.8,281.3 646.2,281.6 649.4,280 649.2,276.3Z M708.5,272.7 707,272.4 705.5,272.5 704.2,272.9 703.2,273.6 702.7,274.5 702.6,276.4 703.2,277.2 704.2,277.8 705.5,278.2 710,278 711.4,277.8 712.6,277.3 713.3,276.5 713.6,275.7 713.3,274.8 712.5,274Z M713.4,290.1 706.6,290.6 704.6,294.5 715.6,294.5Z M661.3,276.1 660.3,276.8 659.8,277.7 659.9,278.7 660.6,279.5 661.7,280.1 663.8,280.7 665.2,280.7 666.5,280.4 668,279.7 668.7,279 669,277.6 668.8,276.7 668.1,275.9 666.9,275.4 665.5,275.1 664,275.2Z M704.5,286.1 703.9,288.5 704.5,289.4 705.5,290 706.9,290.4 708.4,290.5 711.8,290.2 713.3,289.9 714.5,289.2 715.1,288.5 715.3,287.6 715,286.8 712.3,284.9 711,284.4 709.3,284.2 706.6,284.5 705.2,285.2Z" fill="none" stroke="#111" stroke-width="0.68"/>
<text x="651.6" y="284.7" font-size="4.6" fill="#3c8a2e" text-anchor="middle" font-weight="bold">1</text>
<text x="700.7" y="293.7" font-size="4.6" fill="#3c8a2e" text-anchor="middle" font-weight="bold">2</text>
<text x="666.4" y="267.7" font-size="4.6" fill="#3c8a2e" text-anchor="middle" font-weight="bold">3</text>
<text x="708.1" y="283" font-size="4.6" fill="#3c8a2e" text-anchor="middle" font-weight="bold">4</text>
<text x="669.3" y="284" font-size="4.6" fill="#3c8a2e" text-anchor="middle" font-weight="bold">5</text>
<text x="677.7" y="287.5" font-size="4.6" fill="#3c8a2e" text-anchor="middle" font-weight="bold">6</text>
<text x="652.7" y="266.5" font-size="4.6" fill="#3c8a2e" text-anchor="middle" font-weight="bold">7</text>
<text x="665.4" y="288.6" font-size="4.6" fill="#3c8a2e" text-anchor="middle" font-weight="bold">8</text>
<text x="698.8" y="263.7" font-size="4.6" fill="#3c8a2e" text-anchor="middle" font-weight="bold">9</text>
<text x="691.6" y="283.2" font-size="4.6" fill="#3c8a2e" text-anchor="middle" font-weight="bold">10</text>
<text x="658.3" y="261.6" font-size="4.6" fill="#3c8a2e" text-anchor="middle" font-weight="bold">11</text>
<text x="720.7" y="277.5" font-size="4.6" fill="#3c8a2e" text-anchor="middle" font-weight="bold">12</text>
<text x="659.4" y="275.2" font-size="4.6" fill="#3c8a2e" text-anchor="middle" font-weight="bold">13</text>
<text x="687" y="261.9" font-size="4.6" fill="#3c8a2e" text-anchor="middle" font-weight="bold">14</text>
<text x="667.3" y="259.1" font-size="4.6" fill="#3c8a2e" text-anchor="middle" font-weight="bold">15</text>
<text x="708.6" y="262.3" font-size="4.6" fill="#3c8a2e" text-anchor="middle" font-weight="bold">16</text>
<text x="690.1" y="275.3" font-size="4.6" fill="#3c8a2e" text-anchor="middle" font-weight="bold">17</text>
<text x="684.7" y="267" font-size="4.6" fill="#3c8a2e" text-anchor="middle" font-weight="bold">18</text>
<text x="719.9" y="293.7" font-size="4.6" fill="#3c8a2e" text-anchor="middle" font-weight="bold">19</text>
<text x="673.3" y="279.6" font-size="4.6" fill="#3c8a2e" text-anchor="middle" font-weight="bold">20</text>
<text x="698.6" y="275.8" font-size="4.6" fill="#3c8a2e" text-anchor="middle" font-weight="bold">21</text>
<text x="667.4" y="293.6" font-size="4.6" fill="#3c8a2e" text-anchor="middle" font-weight="bold">22</text>
<text x="710.5" y="272" font-size="4.6" fill="#3c8a2e" text-anchor="middle" font-weight="bold">23</text>
<text x="726.8" y="286.8" font-size="4.6" fill="#3c8a2e" text-anchor="middle" font-weight="bold">24</text>
<text x="687.7" y="290" font-size="4.6" fill="#3c8a2e" text-anchor="middle" font-weight="bold">25</text>
<text x="675" y="272.6" font-size="4.6" fill="#3c8a2e" text-anchor="middle" font-weight="bold">26</text>
<text x="660.1" y="284.3" font-size="4.6" fill="#3c8a2e" text-anchor="middle" font-weight="bold">27</text>
<text x="682.3" y="278.7" font-size="4.6" fill="#3c8a2e" text-anchor="middle" font-weight="bold">28</text>
<text x="650.7" y="290.9" font-size="4.6" fill="#3c8a2e" text-anchor="middle" font-weight="bold">29</text>
<text x="680.4" y="295.3" font-size="4.6" fill="#3c8a2e" text-anchor="middle" font-weight="bold">30</text>
<text x="695" y="258.2" font-size="4.6" fill="#3c8a2e" text-anchor="middle" font-weight="bold">31</text>
<text x="648.3" y="274.7" font-size="4.6" fill="#3c8a2e" text-anchor="middle" font-weight="bold">32</text>
<text x="700.5" y="287.4" font-size="4.6" fill="#3c8a2e" text-anchor="middle" font-weight="bold">33</text>
<text x="715.9" y="267.2" font-size="4.6" fill="#3c8a2e" text-anchor="middle" font-weight="bold">34</text>
<text x="692.2" y="294.2" font-size="4.6" fill="#3c8a2e" text-anchor="middle" font-weight="bold">35</text>
<text x="642.9" y="286.1" font-size="4.6" fill="#3c8a2e" text-anchor="middle" font-weight="bold">36</text>
<text x="701.3" y="269.8" font-size="4.6" fill="#3c8a2e" text-anchor="middle" font-weight="bold">37</text>
<text x="649.7" y="295.9" font-size="4.6" fill="#3c8a2e" text-anchor="middle" font-weight="bold">38</text>
<text x="676.4" y="263" font-size="4.6" fill="#3c8a2e" text-anchor="middle" font-weight="bold">39</text>
<text x="653.9" y="279.3" font-size="4.6" fill="#3c8a2e" text-anchor="middle" font-weight="bold">40</text>
<text x="715.8" y="284.1" font-size="4.6" fill="#3c8a2e" text-anchor="middle" font-weight="bold">41</text>
<text x="644.7" y="279.6" font-size="4.6" fill="#3c8a2e" text-anchor="middle" font-weight="bold">42</text>
<text x="706.9" y="276.4" font-size="4.6" fill="#3c8a2e" text-anchor="middle" font-weight="bold">43</text>
<text x="710" y="295.4" font-size="4.6" fill="#3c8a2e" text-anchor="middle" font-weight="bold">44</text>
<text x="664.7" y="279.4" font-size="4.6" fill="#3c8a2e" text-anchor="middle" font-weight="bold">45</text>
<text x="708.3" y="288.4" font-size="4.6" fill="#3c8a2e" text-anchor="middle" font-weight="bold">46</text>
</g>
<g clip-path="url(#tc3)"><path d="M652.4,256.5 C649,266 646,276 643.5,283 C642,288 642,291 642,295" fill="none" stroke="#222" stroke-width="0.6"/><path d="M604.2,268.4 C624,267 637,273 641,283.4" fill="none" stroke="#222" stroke-width="0.6"/></g>
<text x="613" y="286" font-size="4.6" fill="#3c8a2e" font-weight="bold">1</text><text x="635" y="267" font-size="4.6" fill="#3c8a2e" font-weight="bold">19</text>
<g clip-path="url(#pc3)">
<rect x="579.8" y="308.1" width="152" height="37.1" fill="url(#g3r)"/>
<path d="M579.8,306 L650.8,306 L651.5,313.5 L649.8,319.9 L651.9,324.2 L657.2,327.4 L653,329.5 L650.8,332.7 L646.6,335.9 L644.4,341.3 L643.8,347 L579.8,347 Z" fill="url(#g3b)"/>
</g>
<text x="627.3" y="332.4" font-size="12.3" text-anchor="middle" fill="#000" stroke="#000" stroke-width="0.25">31.3%</text>
<text x="689.7" y="333.5" font-size="12.3" text-anchor="middle" fill="#000" stroke="#000" stroke-width="0.25">68.7%</text>
<path d="M614.1,256.7 L707.4,256.7 L731.8,294.3 L579.8,294.3 Z" fill="none" stroke="#111" stroke-width="1.25"/>
<rect x="579.8" y="294.3" width="152" height="50.9" fill="none" stroke="#111" stroke-width="1.25"/>
<path d="M614.1,294.3 L614.1,308.1 L707.4,308.1 L707.4,294.3" fill="none" stroke="#111" stroke-width="1.25"/>
<path d="M614.1,308.1 L579.8,345.2 M707.4,308.1 L731.8,345.2" fill="none" stroke="#111" stroke-width="1.25"/>
<g clip-path="url(#tc4)">
<path d="M106.9,399.6 Q106.8,408.5 114.3,413.4 M89.6,412.9 Q96.4,413.8 98.8,420.2 M114.3,413.4 Q105.6,414.6 98.8,420.2 M98.8,437.3 Q98.2,432.3 101.3,428.4 M98.8,420.2 Q97.7,425 101.3,428.4 M178.5,399.6 Q183.3,406.8 179.4,414.5 M203.7,413.5 Q191.3,408.5 179.4,414.5 M179.4,414.5 Q176.3,417.1 174.6,420.8 M174.6,420.8 Q170.9,429 174.3,437.3 M152.3,399.6 Q149.5,404.5 152.5,409.4 M174.6,420.8 Q161.8,418.5 152.5,409.4 M145.1,437.3 Q142.6,428.7 143.4,419.7 M122.7,437.3 Q122.3,431.2 119.1,425.9 M143.4,419.7 Q134.5,418.7 127.3,413.5 M119.1,425.9 Q118.7,421.1 120.8,416.9 M120.8,416.9 Q123.5,414.2 127.3,413.5 M152.5,409.4 Q145.8,412.6 143.4,419.7 M101.3,428.4 Q110.8,431.1 119.1,425.9 M128.8,399.6 Q125.5,406.3 127.3,413.5 M114.3,413.4 Q118.2,414 120.8,416.9" fill="none" stroke="#111" stroke-width="0.7"/>
<text x="118.5" y="405.4" font-size="3.8" fill="#3c8a2e" text-anchor="middle" font-weight="bold">6</text>
<text x="137.9" y="407.5" font-size="3.8" fill="#3c8a2e" text-anchor="middle" font-weight="bold">11</text>
<text x="167" y="406.9" font-size="3.8" fill="#3c8a2e" text-anchor="middle" font-weight="bold">1</text>
<text x="190.6" y="405.4" font-size="3.8" fill="#3c8a2e" text-anchor="middle" font-weight="bold">8</text>
<text x="104.1" y="413.1" font-size="3.8" fill="#3c8a2e" text-anchor="middle" font-weight="bold">4</text>
<text x="108.7" y="423.5" font-size="3.8" fill="#3c8a2e" text-anchor="middle" font-weight="bold">5</text>
<text x="110.2" y="434" font-size="3.8" fill="#3c8a2e" text-anchor="middle" font-weight="bold">10</text>
<text x="91.6" y="428.8" font-size="3.8" fill="#3c8a2e" text-anchor="middle" font-weight="bold">3</text>
<text x="130.2" y="427.7" font-size="3.8" fill="#3c8a2e" text-anchor="middle" font-weight="bold">7</text>
<text x="157.7" y="425" font-size="3.8" fill="#3c8a2e" text-anchor="middle" font-weight="bold">2</text>
<text x="191.4" y="425.6" font-size="3.8" fill="#3c8a2e" text-anchor="middle" font-weight="bold">9</text>
</g>
<g clip-path="url(#pc4)">
<rect x="67.4" y="450.2" width="151.7" height="37.2" fill="url(#g4r)"/>
<path d="M80,464 L89.3,464 C93,464 98,465 101.5,467.9 L103.7,470.5 C106,468.5 109,467.5 111.1,467.2 C116,466 121,465.3 126.1,465.1 L145.3,465.1 C142.5,468 141.5,471 141.5,476.9 C142,480 143,482 144.2,483.3 L149.6,488 L60,488 Z" fill="url(#g4b)" stroke="#333" stroke-width="0.35"/>
</g>
<text x="110.1" y="483.4" font-size="12.3" text-anchor="middle" fill="#000" stroke="#000" stroke-width="0.25">25.0%</text>
<text x="173.1" y="468.4" font-size="12.3" text-anchor="middle" fill="#000" stroke="#000" stroke-width="0.25">75.0%</text>
<path d="M101.7,399.6 L194.7,399.6 L219.1,437.3 L67.4,437.3 Z" fill="none" stroke="#111" stroke-width="1.25"/>
<rect x="67.4" y="437.3" width="151.7" height="50.1" fill="none" stroke="#111" stroke-width="1.25"/>
<path d="M101.7,437.3 L101.7,450.2 L194.7,450.2 L194.7,437.3" fill="none" stroke="#111" stroke-width="1.25"/>
<path d="M101.7,450.2 L67.4,487.4 M194.7,450.2 L219.1,487.4" fill="none" stroke="#111" stroke-width="1.25"/>
<g clip-path="url(#tc5)">
<path d="M250.2,424.5 Q265.8,426.5 280,433.4 M280.4,437.3 Q280.1,435.4 280,433.4 M366,401.1 Q362.9,406.3 358.8,410.8 M386.7,433.2 Q372.7,427 359.6,419.1 M358.8,410.8 Q359.7,414.9 359.6,419.1 M280.1,424.9 Q280.3,426.3 281,427.5 M280.1,424.9 Q280.2,411.2 287.6,399.6 M281,427.5 Q290.7,424.9 299.2,419.3 M299.2,419.3 Q297.4,414.9 300.5,411.2 M293.7,399.6 Q298.4,404.6 300.5,411.2 M263.7,409.7 Q273.4,415.7 280.1,424.9 M280,433.4 Q279.2,430.2 281,427.5 M358.8,410.8 Q353.8,405.7 346.9,404.1 M346.7,399.6 Q347.3,401.9 346.9,404.1 M300.5,411.2 Q306.6,412.1 311.9,408.9 M314.2,399.6 Q310.5,403.6 311.9,408.9 M320.1,422.2 Q321.2,415.6 325.8,410.7 M320.1,422.2 Q317.9,427.3 320.4,432.2 M322.7,437.3 Q322.5,434.3 320.4,432.2 M334.8,437.3 Q340.5,430.9 343.2,422.8 M343.2,422.8 Q340.4,418.8 342.3,414.5 M342.3,414.5 Q337.2,411.8 332.4,408.7 M332.4,408.7 Q328.9,409.2 325.8,410.7 M321.3,399.6 Q324.9,404.6 325.8,410.7 M311.9,408.9 Q318.2,414.2 320.1,422.2 M299.2,419.3 Q311.3,423.3 320.4,432.2 M359.6,419.1 Q351.9,423.3 343.2,422.8 M346.9,404.1 Q342.8,408.5 342.3,414.5 M333.5,399.6 Q333.8,404.2 332.4,408.7" fill="none" stroke="#111" stroke-width="0.7"/>
<text x="276.6" y="409.6" font-size="3.8" fill="#3c8a2e" text-anchor="middle" font-weight="bold">16</text>
<text x="305.8" y="406.2" font-size="3.8" fill="#3c8a2e" text-anchor="middle" font-weight="bold">8</text>
<text x="319.3" y="409.6" font-size="3.8" fill="#3c8a2e" text-anchor="middle" font-weight="bold">13</text>
<text x="328.7" y="405.8" font-size="3.8" fill="#3c8a2e" text-anchor="middle" font-weight="bold">5</text>
<text x="337" y="406.9" font-size="3.8" fill="#3c8a2e" text-anchor="middle" font-weight="bold">12</text>
<text x="356.8" y="406.2" font-size="3.8" fill="#3c8a2e" text-anchor="middle" font-weight="bold">6</text>
<text x="292.2" y="414.2" font-size="3.8" fill="#3c8a2e" text-anchor="middle" font-weight="bold">14</text>
<text x="307.8" y="416.7" font-size="3.8" fill="#3c8a2e" text-anchor="middle" font-weight="bold">4</text>
<text x="331.8" y="415.8" font-size="3.8" fill="#3c8a2e" text-anchor="middle" font-weight="bold">3</text>
<text x="352.6" y="413.8" font-size="3.8" fill="#3c8a2e" text-anchor="middle" font-weight="bold">9</text>
<text x="365.1" y="412.5" font-size="3.8" fill="#3c8a2e" text-anchor="middle" font-weight="bold">1</text>
<text x="263" y="424.2" font-size="3.8" fill="#3c8a2e" text-anchor="middle" font-weight="bold">11</text>
<text x="259.9" y="434.6" font-size="3.8" fill="#3c8a2e" text-anchor="middle" font-weight="bold">10</text>
<text x="299.5" y="430.4" font-size="3.8" fill="#3c8a2e" text-anchor="middle" font-weight="bold">7</text>
<text x="356.2" y="429.8" font-size="3.8" fill="#3c8a2e" text-anchor="middle" font-weight="bold">2</text>
</g>
<g clip-path="url(#pc5)">
<rect x="238.5" y="450.2" width="150.9" height="37.2" fill="url(#g5r)"/>
<path d="M230,467.2 Q318.5,474.2 395,466.6 L395,490 L230,490 Z" fill="url(#g5b)" stroke="#333" stroke-width="0.35"/>
</g>
<text x="321.7" y="465.7" font-size="12.3" text-anchor="middle" fill="#000" stroke="#000" stroke-width="0.25">50.0%</text>
<text x="321.7" y="483.8" font-size="12.3" text-anchor="middle" fill="#000" stroke="#000" stroke-width="0.25">50.0%</text>
<path d="M272.8,399.6 L365,399.6 L389.4,437.3 L238.5,437.3 Z" fill="none" stroke="#111" stroke-width="1.25"/>
<rect x="238.5" y="437.3" width="150.9" height="50.1" fill="none" stroke="#111" stroke-width="1.25"/>
<path d="M272.8,437.3 L272.8,450.2 L365,450.2 L365,437.3" fill="none" stroke="#111" stroke-width="1.25"/>
<path d="M272.8,450.2 L238.5,487.4 M365,450.2 L389.4,487.4" fill="none" stroke="#111" stroke-width="1.25"/>
<g clip-path="url(#tc6)">
<path d="M507.1,419.4 Q509.4,428.4 512.2,437.3 M507.1,419.4 Q497.1,413.4 485.7,415.3 M485.7,415.3 Q479.6,416.8 477.7,422.7 M477.7,422.7 Q480.9,429.7 480.5,437.3 M515.2,399.6 Q508,408.2 507.1,419.4 M481.7,399.6 Q481.8,407.9 485.7,415.3 M436.8,437.3 Q437.5,433.6 436.8,429.9 M426.9,419.3 Q434.3,422.3 436.8,429.9 M447.1,399.6 Q451.2,402.4 450.9,407.2 M467.2,399.6 Q466.3,402.9 464.5,405.9 M464.5,405.9 Q459.2,406 454.9,409 M450.9,407.2 Q453.1,407.5 454.9,409 M436,409.2 Q440.1,412 444.2,414.7 M450.9,407.2 Q448.4,411.7 444.2,414.7 M436.8,429.9 Q443.2,427.8 446.3,421.7 M444.2,414.7 Q443.4,418.8 446.3,421.7 M476.2,422.5 Q471.5,420.2 467.3,417 M476.2,422.5 Q464.1,422.7 458.6,433.5 M467.3,417 Q462.5,422.8 454.9,422.2 M458.6,433.5 Q458.7,427.3 454.6,422.4 M454.6,422.4 Q454.8,422.4 454.9,422.2 M477.7,422.7 Q476.9,422.9 476.2,422.5 M464.5,405.9 Q464.5,411.8 467.3,417 M458.2,437.3 Q458.5,435.4 458.6,433.5 M454.9,409 Q451.3,415.6 454.9,422.2 M446.3,421.7 Q450.6,420.6 454.6,422.4" fill="none" stroke="#111" stroke-width="0.7"/>
<text x="455.5" y="404.2" font-size="3.8" fill="#3c8a2e" text-anchor="middle" font-weight="bold">8</text>
<text x="444.5" y="409.6" font-size="3.8" fill="#3c8a2e" text-anchor="middle" font-weight="bold">10</text>
<text x="450.7" y="415.2" font-size="3.8" fill="#3c8a2e" text-anchor="middle" font-weight="bold">9</text>
<text x="459" y="415.2" font-size="3.8" fill="#3c8a2e" text-anchor="middle" font-weight="bold">2</text>
<text x="473" y="411.7" font-size="3.8" fill="#3c8a2e" text-anchor="middle" font-weight="bold">7</text>
<text x="494.5" y="406.2" font-size="3.8" fill="#3c8a2e" text-anchor="middle" font-weight="bold">5</text>
<text x="438.2" y="419" font-size="3.8" fill="#3c8a2e" text-anchor="middle" font-weight="bold">11</text>
<text x="424.2" y="431.9" font-size="3.8" fill="#3c8a2e" text-anchor="middle" font-weight="bold">13</text>
<text x="449.2" y="431.9" font-size="3.8" fill="#3c8a2e" text-anchor="middle" font-weight="bold">12</text>
<text x="463.8" y="426.7" font-size="3.8" fill="#3c8a2e" text-anchor="middle" font-weight="bold">6</text>
<text x="468.4" y="434" font-size="3.8" fill="#3c8a2e" text-anchor="middle" font-weight="bold">3</text>
<text x="489.9" y="429.8" font-size="3.8" fill="#3c8a2e" text-anchor="middle" font-weight="bold">4</text>
<text x="526.3" y="419.4" font-size="3.8" fill="#3c8a2e" text-anchor="middle" font-weight="bold">1</text>
</g>
<g clip-path="url(#pc6)">
<rect x="410.5" y="450.2" width="150.4" height="37.2" fill="url(#g6r)"/>
<path d="M490.5,449 C488,452 488.5,455 488.3,458.7 C487.5,461 486,462.5 485.1,463 C481,464 477.5,465 475.5,466.2 C472,468 470.5,469 470.2,470.5 C468.7,473 468.7,476 470.2,479 C468,478.5 466.5,479 465.9,479.4 C464,481 463.5,483 463.7,488 L570,488 L570,449 Z" fill="url(#g6b)" stroke="#333" stroke-width="0.35"/>
</g>
<text x="448.8" y="474.4" font-size="12.3" text-anchor="middle" fill="#000" stroke="#000" stroke-width="0.25">37.5%</text>
<text x="515" y="475.5" font-size="12.3" text-anchor="middle" fill="#000" stroke="#000" stroke-width="0.25">62.5%</text>
<path d="M444.8,399.6 L536.5,399.6 L560.9,437.3 L410.5,437.3 Z" fill="none" stroke="#111" stroke-width="1.25"/>
<rect x="410.5" y="437.3" width="150.4" height="50.1" fill="none" stroke="#111" stroke-width="1.25"/>
<path d="M444.8,437.3 L444.8,450.2 L536.5,450.2 L536.5,437.3" fill="none" stroke="#111" stroke-width="1.25"/>
<path d="M444.8,450.2 L410.5,487.4 M536.5,450.2 L560.9,487.4" fill="none" stroke="#111" stroke-width="1.25"/>
<g clip-path="url(#tc7)">
<path d="M606,408.5 C615,406 625,405.2 632.1,405.1 C645,405 655,405.3 662.8,405.7 M632.1,405.1 C635,401 640,400 648,400.5 C655,401 660,402 662.8,403.5 M663,399.6 C660,405 659.5,412 660.5,418 C661.5,425 664,431 669.7,437.2" fill="none" stroke="#111" stroke-width="0.7"/>
<text x="620.9" y="404.9" font-size="3.8" fill="#3c8a2e" text-anchor="middle" font-weight="bold">2</text>
<text x="648.8" y="403.8" font-size="3.8" fill="#3c8a2e" text-anchor="middle" font-weight="bold">3</text>
<text x="632.1" y="422" font-size="3.8" fill="#3c8a2e" text-anchor="middle" font-weight="bold">1</text>
<text x="692.1" y="420.6" font-size="3.8" fill="#3c8a2e" text-anchor="middle" font-weight="bold">4</text>
</g>
<g clip-path="url(#pc7)">
<rect x="581.9" y="450.2" width="151.2" height="37.2" fill="url(#g7b)"/>
</g>
<text x="664.7" y="473.1" font-size="12.3" text-anchor="middle" fill="#000" stroke="#000" stroke-width="0.25">100.0%</text>
<path d="M616.2,399.6 L708.7,399.6 L733.1,437.3 L581.9,437.3 Z" fill="none" stroke="#111" stroke-width="1.25"/>
<rect x="581.9" y="437.3" width="151.2" height="50.1" fill="none" stroke="#111" stroke-width="1.25"/>
<path d="M616.2,437.3 L616.2,450.2 L708.7,450.2 L708.7,437.3" fill="none" stroke="#111" stroke-width="1.25"/>
<path d="M616.2,450.2 L581.9,487.4 M708.7,450.2 L733.1,487.4" fill="none" stroke="#111" stroke-width="1.25"/>
<rect x="66.4" y="350.2" width="152.5" height="15.7" rx="7.8" fill="#e4e4e4" stroke="#555" stroke-width="0.9"/>
<text x="142" y="362" font-size="11.4" text-anchor="middle" fill="#111">No perturbation</text>
<rect x="236" y="350.2" width="495.8" height="16.1" rx="8.1" fill="#e4e4e4" stroke="#555" stroke-width="0.9"/>
<text x="489.6" y="362.2" font-size="12.25" text-anchor="middle" fill="#111">Single perturbation</text>
<rect x="66.3" y="494.2" width="496" height="16.1" rx="8.1" fill="#e4e4e4" stroke="#555" stroke-width="0.9"/>
<text x="317.8" y="506.2" font-size="12.25" text-anchor="middle" fill="#111">Double perturbation</text>
<rect x="581" y="494.3" width="151.5" height="15.7" rx="7.8" fill="#e4e4e4" stroke="#555" stroke-width="0.9"/>
<text x="661.4" y="506.1" font-size="12.25" text-anchor="middle" fill="#111">Triple perturbation</text>
<rect x="282.5" y="519.5" width="13.5" height="13.9" fill="url(#lgb)" stroke="#333" stroke-width="0.6"/>
<text x="302.2" y="530.7" font-size="9.8" fill="#222">Enterocyte state</text>
<rect x="405.6" y="519.5" width="13.8" height="14" fill="url(#lgr)" stroke="#333" stroke-width="0.6"/>
<text x="425.8" y="530.7" font-size="9.8" fill="#222">Undifferentiated state</text>
<text x="5.5" y="560" font-size="19.5" text-anchor="start" font-weight="bold" fill="#111">D</text>
<text x="113.3" y="568.2" font-size="11.4" text-anchor="middle" fill="#111">State transition graph</text>
<rect x="74.3" y="583.6" width="68.9" height="11.5" fill="url(#cbar)" stroke="#666" stroke-width="0.4"/>
<text x="46.5" y="591.7" font-size="10" text-anchor="middle" fill="#111">Stem cell</text>
<text x="46.5" y="603.5" font-size="10" text-anchor="middle" fill="#111">state</text>
<text x="173" y="591.7" font-size="10" text-anchor="middle" fill="#111">Enterocyte</text>
<text x="173" y="603.5" font-size="10" text-anchor="middle" fill="#111">state</text>
<text x="27.8" y="621.3" font-size="12.4" text-anchor="middle" font-weight="bold" fill="#111">Stem cell</text>
<text x="27.8" y="635.8" font-size="12.4" text-anchor="middle" font-weight="bold" fill="#111">state</text>
<line x1="112.4" y1="635.7" x2="151.5" y2="645.2" stroke="#222" stroke-width="0.5" marker-end="url(#ak)"/>
<line x1="44.4" y1="649.2" x2="73.3" y2="665.3" stroke="#222" stroke-width="0.5" marker-end="url(#ak)"/>
<line x1="41.3" y1="651.6" x2="51.7" y2="689.5" stroke="#222" stroke-width="0.5" marker-end="url(#ak)"/>
<line x1="83.9" y1="667.2" x2="151.5" y2="648.6" stroke="#222" stroke-width="0.5" marker-end="url(#ak)"/>
<line x1="159.6" y1="651.5" x2="167.9" y2="674" stroke="#222" stroke-width="0.5" marker-end="url(#ak)"/>
<line x1="120.1" y1="671.1" x2="163.7" y2="679" stroke="#222" stroke-width="0.5" marker-end="url(#ak)"/>
<line x1="83.3" y1="671.2" x2="121.2" y2="695" stroke="#222" stroke-width="0.5" marker-end="url(#ak)"/>
<line x1="165.6" y1="682.1" x2="132.9" y2="695.9" stroke="#222" stroke-width="0.5" marker-end="url(#ak)"/>
<line x1="170.2" y1="685.2" x2="170.2" y2="699.3" stroke="#222" stroke-width="0.5" marker-end="url(#ak)"/>
<line x1="58.4" y1="696.1" x2="120.2" y2="698.3" stroke="#222" stroke-width="0.5" marker-end="url(#ak)"/>
<line x1="112.2" y1="674.2" x2="83.3" y2="713.3" stroke="#222" stroke-width="0.5" marker-end="url(#ak)"/>
<line x1="131.3" y1="700.7" x2="184.4" y2="726.7" stroke="#222" stroke-width="0.5" marker-end="url(#ak)"/>
<line x1="173.4" y1="709.7" x2="186" y2="724.6" stroke="#222" stroke-width="0.5" marker-end="url(#ak)"/>
<line x1="84.4" y1="717.9" x2="163.7" y2="706.8" stroke="#222" stroke-width="0.5" marker-end="url(#ak)"/>
<line x1="84.3" y1="719.4" x2="123" y2="725.8" stroke="#222" stroke-width="0.5" marker-end="url(#ak)"/>
<line x1="44.9" y1="645.9" x2="101.4" y2="635.6" stroke="#62b42f" stroke-width="2.3" marker-end="url(#ag)"/>
<line x1="108.6" y1="639.4" x2="113.9" y2="664.1" stroke="#62b42f" stroke-width="2.3" marker-end="url(#ag)"/>
<line x1="110.6" y1="672.1" x2="59.1" y2="693.5" stroke="#62b42f" stroke-width="2.3" marker-end="url(#ag)"/>
<line x1="58" y1="697.8" x2="123.8" y2="724.6" stroke="#62b42f" stroke-width="2.3" marker-end="url(#ag)"/>
<line x1="134.5" y1="727.1" x2="184.1" y2="729.3" stroke="#62b42f" stroke-width="2.3" marker-end="url(#ag)"/>
<circle cx="40" cy="646.8" r="6" fill="#d8434e"/>
<circle cx="107.5" cy="634.5" r="6" fill="#e0636e"/>
<circle cx="157.9" cy="646.8" r="6" fill="#e06b75"/>
<circle cx="79.1" cy="668.5" r="6" fill="#e06b75"/>
<circle cx="115.2" cy="670.2" r="6" fill="#e0636e"/>
<circle cx="170.2" cy="680.2" r="6" fill="#eeb0b5"/>
<circle cx="53.4" cy="695.9" r="6" fill="#de6470"/>
<circle cx="126.8" cy="698.5" r="6" fill="#f2c4c8"/>
<circle cx="170.2" cy="705.9" r="6" fill="#eeb5ba"/>
<circle cx="79.4" cy="718.6" r="6" fill="#f0bcc1"/>
<circle cx="129.5" cy="726.9" r="6" fill="#f2c6ca"/>
<circle cx="190.3" cy="729.6" r="6" fill="#f7dfe1"/>
<text x="71" y="638.8" font-size="8.8" text-anchor="middle" fill="#333">62%</text>
<text x="122.5" y="652.5" font-size="8.8" text-anchor="middle" fill="#333">75%</text>
<text x="94" y="690.9" font-size="8.8" text-anchor="middle" fill="#333">33%</text>
<text x="106" y="711.6" font-size="8.8" text-anchor="middle" fill="#333">50%</text>
<text x="151.8" y="725.9" font-size="8.8" text-anchor="middle" fill="#333">100%</text>
<text x="180.5" y="747.6" font-size="12.4" text-anchor="middle" font-weight="bold" fill="#111">Undifferentiated</text>
<text x="180.5" y="762" font-size="12.4" text-anchor="middle" font-weight="bold" fill="#111">state</text>
<text x="107.5" y="772" font-size="12.4" text-anchor="middle" font-weight="bold" fill="#111">Stem cell state</text>
<line x1="107.5" y1="787.2" x2="107.5" y2="817.1" stroke="#62b42f" stroke-width="1.5" marker-end="url(#ag2)"/>
<line x1="107.5" y1="828.9" x2="107.5" y2="858.8" stroke="#62b42f" stroke-width="1.5" marker-end="url(#ag2)"/>
<line x1="107.5" y1="870.6" x2="107.5" y2="899.5" stroke="#62b42f" stroke-width="1.5" marker-end="url(#ag2)"/>
<line x1="107.5" y1="911.3" x2="107.5" y2="943.9" stroke="#62b42f" stroke-width="1.5" marker-end="url(#ag2)"/>
<line x1="107.5" y1="955.7" x2="107.5" y2="986.3" stroke="#62b42f" stroke-width="1.5" marker-end="url(#ag2)"/>
<circle cx="107.5" cy="781.7" r="6.3" fill="#d8434e"/>
<circle cx="107.5" cy="823.4" r="6.3" fill="#e0636e"/>
<circle cx="107.5" cy="865.1" r="6.3" fill="#e2757f"/>
<circle cx="107.5" cy="905.8" r="6.3" fill="#e0636e"/>
<circle cx="107.5" cy="950.2" r="6.3" fill="#efb3b8"/>
<circle cx="107.5" cy="992.6" r="6.3" fill="#f7dde0"/>
<text x="99.5" y="804.7" font-size="8.7" text-anchor="end" fill="#333">62%</text>
<text x="113.5" y="805.3" font-size="10.2" text-anchor="start" fill="#222">FOXM1 = ON</text>
<text x="99.5" y="845.6" font-size="8.7" text-anchor="end" fill="#333">75%</text>
<text x="113.5" y="846.2" font-size="10.2" text-anchor="start" fill="#222">CREB3L1 = ON</text>
<text x="99.5" y="887.8" font-size="8.7" text-anchor="end" fill="#333">33%</text>
<text x="113.5" y="888.4" font-size="10.2" text-anchor="start" fill="#222">FOXM1 = OFF</text>
<text x="99.5" y="928.5" font-size="8.7" text-anchor="end" fill="#333">50%</text>
<text x="113.5" y="929.1" font-size="10.2" text-anchor="start" fill="#222">HDAC2 = OFF</text>
<text x="99.5" y="971.6" font-size="8.7" text-anchor="end" fill="#333">100%</text>
<text x="113.5" y="972.2" font-size="10.2" text-anchor="start" fill="#222">MXI1 = ON</text>
<text transform="translate(67.3,874.3) rotate(-90)" font-size="11.4" text-anchor="middle" fill="#222">Most probable trajectory</text>
<text x="108.2" y="1013" font-size="12.6" text-anchor="middle" font-weight="bold" fill="#111">Undifferentiated state</text>
<line x1="235.4" y1="554.6" x2="235.4" y2="1021" stroke="#8a8a8a" stroke-width="1.1" stroke-dasharray="3.5,4.142" stroke-dashoffset="2"/>
<text x="246" y="562" font-size="19.5" text-anchor="start" font-weight="bold" fill="#111">E</text>
<text x="469.7" y="574.5" font-size="11.4" text-anchor="start" fill="#111">State transition graph</text>
<rect x="621.8" y="643" width="69.7" height="11.7" fill="url(#cbar)" stroke="#666" stroke-width="0.4"/>
<text x="593.9" y="648.6" font-size="10.1" text-anchor="middle" fill="#111">Stem cell</text>
<text x="593.9" y="660.8" font-size="10.1" text-anchor="middle" fill="#111">state</text>
<text x="720.8" y="648.6" font-size="10.1" text-anchor="middle" fill="#111">Enterocyte</text>
<text x="720.8" y="660.8" font-size="10.1" text-anchor="middle" fill="#111">state</text>
<text x="268.2" y="645" font-size="12.4" text-anchor="middle" font-weight="bold" fill="#111">Stem cell</text>
<text x="268.2" y="659.6" font-size="12.4" text-anchor="middle" font-weight="bold" fill="#111">state</text>
<text x="714.8" y="901.3" font-size="12.4" text-anchor="middle" font-weight="bold" fill="#111">Enterocyte</text>
<text x="714.8" y="914.8" font-size="12.4" text-anchor="middle" font-weight="bold" fill="#111">state</text>
<line x1="300" y1="656" x2="380.4" y2="626.6" stroke="#1a1a1a" stroke-width="0.5" marker-end="url(#ak)"/>
<line x1="299.4" y1="661.4" x2="330.8" y2="682.5" stroke="#1a1a1a" stroke-width="0.5" marker-end="url(#ak)"/>
<line x1="296.4" y1="663.7" x2="316.7" y2="719.8" stroke="#1a1a1a" stroke-width="0.5" marker-end="url(#ak)"/>
<line x1="363.3" y1="657.5" x2="380.4" y2="675.7" stroke="#1a1a1a" stroke-width="0.5" marker-end="url(#ak)"/>
<line x1="361.3" y1="658.7" x2="382.4" y2="713.8" stroke="#1a1a1a" stroke-width="0.5" marker-end="url(#ak)"/>
<line x1="364" y1="656.7" x2="467.2" y2="734" stroke="#1a1a1a" stroke-width="0.5" marker-end="url(#ak)"/>
<line x1="387.3" y1="630" x2="385.9" y2="673.6" stroke="#1a1a1a" stroke-width="0.5" marker-end="url(#ak)"/>
<line x1="390.2" y1="629.4" x2="419.5" y2="687.5" stroke="#1a1a1a" stroke-width="0.5" marker-end="url(#ak)"/>
<line x1="388.7" y1="629.9" x2="416.5" y2="761.7" stroke="#1a1a1a" stroke-width="0.5" marker-end="url(#ak)"/>
<line x1="393.4" y1="625.2" x2="443.7" y2="635.1" stroke="#1a1a1a" stroke-width="0.5" marker-end="url(#ak)"/>
<line x1="393.5" y1="623.4" x2="489.6" y2="612.9" stroke="#1a1a1a" stroke-width="0.5" marker-end="url(#ak)"/>
<line x1="392.9" y1="626.6" x2="455.6" y2="656.1" stroke="#1a1a1a" stroke-width="0.5" marker-end="url(#ak)"/>
<line x1="391.3" y1="628.7" x2="452.6" y2="704.1" stroke="#1a1a1a" stroke-width="0.5" marker-end="url(#ak)"/>
<line x1="421.6" y1="654.8" x2="449.5" y2="678.7" stroke="#1a1a1a" stroke-width="0.5" marker-end="url(#ak)"/>
<line x1="422.2" y1="653.9" x2="498.5" y2="698.5" stroke="#1a1a1a" stroke-width="0.5" marker-end="url(#ak)"/>
<line x1="418.7" y1="656.6" x2="448" y2="754.5" stroke="#1a1a1a" stroke-width="0.5" marker-end="url(#ak)"/>
<line x1="343.1" y1="687.2" x2="415.3" y2="693.6" stroke="#1a1a1a" stroke-width="0.5" marker-end="url(#ak)"/>
<line x1="342.5" y1="689.3" x2="398" y2="715.6" stroke="#1a1a1a" stroke-width="0.5" marker-end="url(#ak)"/>
<line x1="337.1" y1="692.7" x2="337.2" y2="758.8" stroke="#1a1a1a" stroke-width="0.5" marker-end="url(#ak)"/>
<line x1="341.3" y1="691" x2="412.8" y2="763.7" stroke="#1a1a1a" stroke-width="0.5" marker-end="url(#ak)"/>
<line x1="343" y1="685.4" x2="455.1" y2="660.9" stroke="#1a1a1a" stroke-width="0.5" marker-end="url(#ak)"/>
<line x1="391.6" y1="681.1" x2="523.7" y2="678.2" stroke="#1a1a1a" stroke-width="0.5" marker-end="url(#ak)"/>
<line x1="391.2" y1="683.4" x2="450.3" y2="707.2" stroke="#1a1a1a" stroke-width="0.5" marker-end="url(#ak)"/>
<line x1="428.4" y1="696.8" x2="450.5" y2="706.9" stroke="#1a1a1a" stroke-width="0.5" marker-end="url(#ak)"/>
<line x1="428.6" y1="696.2" x2="544.6" y2="734.6" stroke="#1a1a1a" stroke-width="0.5" marker-end="url(#ak)"/>
<line x1="426.4" y1="699.2" x2="447.3" y2="729" stroke="#1a1a1a" stroke-width="0.5" marker-end="url(#ak)"/>
<line x1="325.3" y1="726.4" x2="377.5" y2="721.6" stroke="#1a1a1a" stroke-width="0.5" marker-end="url(#ak)"/>
<line x1="325.3" y1="726.3" x2="397.3" y2="719.6" stroke="#1a1a1a" stroke-width="0.5" marker-end="url(#ak)"/>
<line x1="323.7" y1="731" x2="385.4" y2="788.4" stroke="#1a1a1a" stroke-width="0.5" marker-end="url(#ak)"/>
<line x1="321.2" y1="732.6" x2="345.2" y2="804" stroke="#1a1a1a" stroke-width="0.5" marker-end="url(#ak)"/>
<line x1="324.1" y1="730.4" x2="424.3" y2="803.9" stroke="#1a1a1a" stroke-width="0.5" marker-end="url(#ak)"/>
<line x1="385.6" y1="726.9" x2="390.4" y2="786" stroke="#1a1a1a" stroke-width="0.5" marker-end="url(#ak)"/>
<line x1="385.6" y1="726.9" x2="395.5" y2="835" stroke="#1a1a1a" stroke-width="0.5" marker-end="url(#ak)"/>
<line x1="390.4" y1="718.1" x2="448.6" y2="687.2" stroke="#1a1a1a" stroke-width="0.5" marker-end="url(#ak)"/>
<line x1="391" y1="720" x2="449.9" y2="711.1" stroke="#1a1a1a" stroke-width="0.5" marker-end="url(#ak)"/>
<line x1="390.9" y1="722.4" x2="519.6" y2="755.1" stroke="#1a1a1a" stroke-width="0.5" marker-end="url(#ak)"/>
<line x1="390.3" y1="723.9" x2="495.2" y2="783.3" stroke="#1a1a1a" stroke-width="0.5" marker-end="url(#ak)"/>
<line x1="406.4" y1="724.7" x2="416.2" y2="761.7" stroke="#1a1a1a" stroke-width="0.5" marker-end="url(#ak)"/>
<line x1="410.8" y1="717.9" x2="497.6" y2="703.5" stroke="#1a1a1a" stroke-width="0.5" marker-end="url(#ak)"/>
<line x1="410.8" y1="717.9" x2="449.9" y2="711.3" stroke="#1a1a1a" stroke-width="0.5" marker-end="url(#ak)"/>
<line x1="410.9" y1="719.6" x2="544.3" y2="736.1" stroke="#1a1a1a" stroke-width="0.5" marker-end="url(#ak)"/>
<line x1="361.3" y1="743.7" x2="342.7" y2="761.2" stroke="#1a1a1a" stroke-width="0.5" marker-end="url(#ak)"/>
<line x1="369.8" y1="744" x2="425.2" y2="802.9" stroke="#1a1a1a" stroke-width="0.5" marker-end="url(#ak)"/>
<line x1="370.3" y1="735.8" x2="456.7" y2="664.2" stroke="#1a1a1a" stroke-width="0.5" marker-end="url(#ak)"/>
<line x1="371" y1="742.5" x2="459.8" y2="791" stroke="#1a1a1a" stroke-width="0.5" marker-end="url(#ak)"/>
<line x1="369.2" y1="744.4" x2="446.5" y2="850" stroke="#1a1a1a" stroke-width="0.5" marker-end="url(#ak)"/>
<line x1="342.1" y1="763" x2="398.7" y2="723.3" stroke="#1a1a1a" stroke-width="0.5" marker-end="url(#ak)"/>
<line x1="338.6" y1="772.2" x2="345.9" y2="803.8" stroke="#1a1a1a" stroke-width="0.5" marker-end="url(#ak)"/>
<line x1="342.7" y1="768.9" x2="423.5" y2="805.3" stroke="#1a1a1a" stroke-width="0.5" marker-end="url(#ak)"/>
<line x1="340.9" y1="771.1" x2="391.5" y2="836.6" stroke="#1a1a1a" stroke-width="0.5" marker-end="url(#ak)"/>
<line x1="340.2" y1="771.6" x2="392.4" y2="863.8" stroke="#1a1a1a" stroke-width="0.5" marker-end="url(#ak)"/>
<line x1="343.1" y1="767.7" x2="459.1" y2="793" stroke="#1a1a1a" stroke-width="0.5" marker-end="url(#ak)"/>
<line x1="341.9" y1="770.1" x2="445" y2="851.4" stroke="#1a1a1a" stroke-width="0.5" marker-end="url(#ak)"/>
<line x1="376.7" y1="775.6" x2="352.4" y2="805.3" stroke="#1a1a1a" stroke-width="0.5" marker-end="url(#ak)"/>
<line x1="386.2" y1="769" x2="466.1" y2="741.1" stroke="#1a1a1a" stroke-width="0.5" marker-end="url(#ak)"/>
<line x1="386.5" y1="770.4" x2="519.4" y2="757.7" stroke="#1a1a1a" stroke-width="0.5" marker-end="url(#ak)"/>
<line x1="386.3" y1="772.6" x2="459.2" y2="792.6" stroke="#1a1a1a" stroke-width="0.5" marker-end="url(#ak)"/>
<line x1="386.4" y1="771.8" x2="494.3" y2="786" stroke="#1a1a1a" stroke-width="0.5" marker-end="url(#ak)"/>
<line x1="386.1" y1="773.2" x2="510.7" y2="823.6" stroke="#1a1a1a" stroke-width="0.5" marker-end="url(#ak)"/>
<line x1="419.9" y1="774.8" x2="428.1" y2="801.1" stroke="#1a1a1a" stroke-width="0.5" marker-end="url(#ak)"/>
<line x1="423.4" y1="771.9" x2="459.8" y2="791.1" stroke="#1a1a1a" stroke-width="0.5" marker-end="url(#ak)"/>
<line x1="424" y1="770.2" x2="523.5" y2="789.1" stroke="#1a1a1a" stroke-width="0.5" marker-end="url(#ak)"/>
<line x1="424" y1="770" x2="549.5" y2="788.9" stroke="#1a1a1a" stroke-width="0.5" marker-end="url(#ak)"/>
<line x1="392.1" y1="787.7" x2="403.5" y2="726.4" stroke="#1a1a1a" stroke-width="0.5" marker-end="url(#ak)"/>
<line x1="391.6" y1="799.6" x2="395.4" y2="835" stroke="#1a1a1a" stroke-width="0.5" marker-end="url(#ak)"/>
<line x1="395.7" y1="789.9" x2="499.2" y2="707" stroke="#1a1a1a" stroke-width="0.5" marker-end="url(#ak)"/>
<line x1="396.3" y1="790.8" x2="443.5" y2="765.4" stroke="#1a1a1a" stroke-width="0.5" marker-end="url(#ak)"/>
<line x1="397" y1="793.7" x2="458.9" y2="794.5" stroke="#1a1a1a" stroke-width="0.5" marker-end="url(#ak)"/>
<line x1="396.8" y1="795.1" x2="510.3" y2="824.5" stroke="#1a1a1a" stroke-width="0.5" marker-end="url(#ak)"/>
<line x1="353.6" y1="811" x2="422.8" y2="808.7" stroke="#1a1a1a" stroke-width="0.5" marker-end="url(#ak)"/>
<line x1="352.6" y1="814.5" x2="389.8" y2="838.5" stroke="#1a1a1a" stroke-width="0.5" marker-end="url(#ak)"/>
<line x1="351.4" y1="815.8" x2="391.4" y2="864.5" stroke="#1a1a1a" stroke-width="0.5" marker-end="url(#ak)"/>
<line x1="352.2" y1="815" x2="431.5" y2="881.1" stroke="#1a1a1a" stroke-width="0.5" marker-end="url(#ak)"/>
<line x1="432.7" y1="802.9" x2="447.2" y2="768.8" stroke="#1a1a1a" stroke-width="0.5" marker-end="url(#ak)"/>
<line x1="436.3" y1="807.5" x2="549.5" y2="791.1" stroke="#1a1a1a" stroke-width="0.5" marker-end="url(#ak)"/>
<line x1="436.3" y1="809.6" x2="510.3" y2="824.9" stroke="#1a1a1a" stroke-width="0.5" marker-end="url(#ak)"/>
<line x1="434.8" y1="812.5" x2="528.3" y2="899" stroke="#1a1a1a" stroke-width="0.5" marker-end="url(#ak)"/>
<line x1="396.2" y1="848.6" x2="396.2" y2="862.8" stroke="#1a1a1a" stroke-width="0.5" marker-end="url(#ak)"/>
<line x1="399.5" y1="837.6" x2="446" y2="768.1" stroke="#1a1a1a" stroke-width="0.5" marker-end="url(#ak)"/>
<line x1="401.8" y1="840.4" x2="523.9" y2="793.2" stroke="#1a1a1a" stroke-width="0.5" marker-end="url(#ak)"/>
<line x1="402.1" y1="843.9" x2="523.6" y2="871.4" stroke="#1a1a1a" stroke-width="0.5" marker-end="url(#ak)"/>
<line x1="402" y1="844" x2="443.6" y2="854.3" stroke="#1a1a1a" stroke-width="0.5" marker-end="url(#ak)"/>
<line x1="396.2" y1="864.4" x2="396.2" y2="850.2" stroke="#1a1a1a" stroke-width="0.5" marker-end="url(#ak)"/>
<line x1="401.8" y1="872.5" x2="430.2" y2="883.3" stroke="#1a1a1a" stroke-width="0.5" marker-end="url(#ak)"/>
<line x1="400.3" y1="866" x2="461.3" y2="800.2" stroke="#1a1a1a" stroke-width="0.5" marker-end="url(#ak)"/>
<line x1="402.2" y1="870.5" x2="523.4" y2="872.9" stroke="#1a1a1a" stroke-width="0.5" marker-end="url(#ak)"/>
<line x1="402" y1="868.9" x2="443.6" y2="858" stroke="#1a1a1a" stroke-width="0.5" marker-end="url(#ak)"/>
<line x1="436.8" y1="880" x2="431.1" y2="816" stroke="#1a1a1a" stroke-width="0.5" marker-end="url(#ak)"/>
<line x1="442.7" y1="883.5" x2="559.3" y2="829.6" stroke="#1a1a1a" stroke-width="0.5" marker-end="url(#ak)"/>
<line x1="443.2" y1="884.8" x2="567.1" y2="859.5" stroke="#1a1a1a" stroke-width="0.5" marker-end="url(#ak)"/>
<line x1="441.8" y1="882.1" x2="471.7" y2="856.3" stroke="#1a1a1a" stroke-width="0.5" marker-end="url(#ak)"/>
<line x1="443.2" y1="887.1" x2="526.4" y2="902.8" stroke="#1a1a1a" stroke-width="0.5" marker-end="url(#ak)"/>
<line x1="456.5" y1="639.4" x2="524.5" y2="674.5" stroke="#1a1a1a" stroke-width="0.5" marker-end="url(#ak)"/>
<line x1="454.4" y1="641.7" x2="503.1" y2="717.6" stroke="#1a1a1a" stroke-width="0.5" marker-end="url(#ak)"/>
<line x1="454.4" y1="641.7" x2="523" y2="750.6" stroke="#1a1a1a" stroke-width="0.5" marker-end="url(#ak)"/>
<line x1="494.7" y1="644.6" x2="540.8" y2="705.4" stroke="#1a1a1a" stroke-width="0.5" marker-end="url(#ak)"/>
<line x1="495.1" y1="644.3" x2="572.7" y2="730.6" stroke="#1a1a1a" stroke-width="0.5" marker-end="url(#ak)"/>
<line x1="492.9" y1="645.5" x2="524.8" y2="749.7" stroke="#1a1a1a" stroke-width="0.5" marker-end="url(#ak)"/>
<line x1="495.9" y1="618" x2="492.7" y2="632.4" stroke="#1a1a1a" stroke-width="0.5" marker-end="url(#ak)"/>
<line x1="502.9" y1="613.9" x2="546.6" y2="628" stroke="#1a1a1a" stroke-width="0.5" marker-end="url(#ak)"/>
<line x1="500.2" y1="617.3" x2="516.6" y2="645.8" stroke="#1a1a1a" stroke-width="0.5" marker-end="url(#ak)"/>
<line x1="497.7" y1="618.1" x2="506.5" y2="716.4" stroke="#1a1a1a" stroke-width="0.5" marker-end="url(#ak)"/>
<line x1="499.8" y1="617.5" x2="542.1" y2="704.7" stroke="#1a1a1a" stroke-width="0.5" marker-end="url(#ak)"/>
<line x1="498.4" y1="618" x2="525.5" y2="749.6" stroke="#1a1a1a" stroke-width="0.5" marker-end="url(#ak)"/>
<line x1="547.9" y1="631.2" x2="424.5" y2="649.8" stroke="#1a1a1a" stroke-width="0.5" marker-end="url(#ak)"/>
<line x1="548.8" y1="633.6" x2="526.7" y2="648.2" stroke="#1a1a1a" stroke-width="0.5" marker-end="url(#ak)"/>
<line x1="549.5" y1="634.5" x2="515.4" y2="668.1" stroke="#1a1a1a" stroke-width="0.5" marker-end="url(#ak)"/>
<line x1="551.2" y1="635.7" x2="534.5" y2="671.1" stroke="#1a1a1a" stroke-width="0.5" marker-end="url(#ak)"/>
<line x1="550.4" y1="635.3" x2="509.4" y2="696" stroke="#1a1a1a" stroke-width="0.5" marker-end="url(#ak)"/>
<line x1="556.8" y1="635.5" x2="597.6" y2="705.6" stroke="#1a1a1a" stroke-width="0.5" marker-end="url(#ak)"/>
<line x1="555.9" y1="635.9" x2="571.3" y2="676.9" stroke="#1a1a1a" stroke-width="0.5" marker-end="url(#ak)"/>
<line x1="467.5" y1="655.9" x2="484.8" y2="644.1" stroke="#1a1a1a" stroke-width="0.5" marker-end="url(#ak)"/>
<line x1="468.3" y1="661" x2="502.7" y2="671.2" stroke="#1a1a1a" stroke-width="0.5" marker-end="url(#ak)"/>
<line x1="465.9" y1="664.2" x2="502.9" y2="717.7" stroke="#1a1a1a" stroke-width="0.5" marker-end="url(#ak)"/>
<line x1="468.1" y1="661.4" x2="594.3" y2="709.5" stroke="#1a1a1a" stroke-width="0.5" marker-end="url(#ak)"/>
<line x1="468.4" y1="660.6" x2="566.6" y2="682.4" stroke="#1a1a1a" stroke-width="0.5" marker-end="url(#ak)"/>
<line x1="517.7" y1="657.8" x2="513.4" y2="666.6" stroke="#1a1a1a" stroke-width="0.5" marker-end="url(#ak)"/>
<line x1="525.6" y1="655.4" x2="567.5" y2="680.1" stroke="#1a1a1a" stroke-width="0.5" marker-end="url(#ak)"/>
<line x1="523.8" y1="657.4" x2="573.5" y2="730" stroke="#1a1a1a" stroke-width="0.5" marker-end="url(#ak)"/>
<line x1="521.9" y1="658.2" x2="555" y2="782.7" stroke="#1a1a1a" stroke-width="0.5" marker-end="url(#ak)"/>
<line x1="460.6" y1="680.7" x2="547.1" y2="633.9" stroke="#1a1a1a" stroke-width="0.5" marker-end="url(#ak)"/>
<line x1="457" y1="677.8" x2="460.3" y2="666.6" stroke="#1a1a1a" stroke-width="0.5" marker-end="url(#ak)"/>
<line x1="455.8" y1="689.6" x2="456.8" y2="702.4" stroke="#1a1a1a" stroke-width="0.5" marker-end="url(#ak)"/>
<line x1="461" y1="685.4" x2="538.1" y2="709.3" stroke="#1a1a1a" stroke-width="0.5" marker-end="url(#ak)"/>
<line x1="461.2" y1="684.8" x2="593.9" y2="710.7" stroke="#1a1a1a" stroke-width="0.5" marker-end="url(#ak)"/>
<line x1="455.9" y1="689.6" x2="465.7" y2="787" stroke="#1a1a1a" stroke-width="0.5" marker-end="url(#ak)"/>
<line x1="514.1" y1="677.8" x2="540.2" y2="705.9" stroke="#1a1a1a" stroke-width="0.5" marker-end="url(#ak)"/>
<line x1="515.5" y1="675.7" x2="594.4" y2="709.2" stroke="#1a1a1a" stroke-width="0.5" marker-end="url(#ak)"/>
<line x1="514.4" y1="677.5" x2="572.2" y2="731.1" stroke="#1a1a1a" stroke-width="0.5" marker-end="url(#ak)"/>
<line x1="512.2" y1="679" x2="554.2" y2="783" stroke="#1a1a1a" stroke-width="0.5" marker-end="url(#ak)"/>
<line x1="536.7" y1="680.6" x2="594.6" y2="708.9" stroke="#1a1a1a" stroke-width="0.5" marker-end="url(#ak)"/>
<line x1="535.7" y1="682.1" x2="610.3" y2="753" stroke="#1a1a1a" stroke-width="0.5" marker-end="url(#ak)"/>
<line x1="529.7" y1="683.8" x2="503.8" y2="779.7" stroke="#1a1a1a" stroke-width="0.5" marker-end="url(#ak)"/>
<line x1="511.1" y1="702.9" x2="593.8" y2="711.4" stroke="#1a1a1a" stroke-width="0.5" marker-end="url(#ak)"/>
<line x1="510.5" y1="704.8" x2="570.9" y2="733.1" stroke="#1a1a1a" stroke-width="0.5" marker-end="url(#ak)"/>
<line x1="506.8" y1="708.1" x2="528.9" y2="783.2" stroke="#1a1a1a" stroke-width="0.5" marker-end="url(#ak)"/>
<line x1="463.4" y1="710.1" x2="593.8" y2="712.1" stroke="#1a1a1a" stroke-width="0.5" marker-end="url(#ak)"/>
<line x1="463.3" y1="711.3" x2="570.4" y2="734.7" stroke="#1a1a1a" stroke-width="0.5" marker-end="url(#ak)"/>
<line x1="512.3" y1="720.9" x2="567.5" y2="687.9" stroke="#1a1a1a" stroke-width="0.5" marker-end="url(#ak)"/>
<line x1="512.1" y1="727.4" x2="604.8" y2="790.9" stroke="#1a1a1a" stroke-width="0.5" marker-end="url(#ak)"/>
<line x1="507.8" y1="730" x2="516.9" y2="818.8" stroke="#1a1a1a" stroke-width="0.5" marker-end="url(#ak)"/>
<line x1="510.2" y1="729.2" x2="562.4" y2="819.8" stroke="#1a1a1a" stroke-width="0.5" marker-end="url(#ak)"/>
<line x1="543.2" y1="717.1" x2="529.8" y2="750" stroke="#1a1a1a" stroke-width="0.5" marker-end="url(#ak)"/>
<line x1="549.1" y1="716.2" x2="606.4" y2="789.2" stroke="#1a1a1a" stroke-width="0.5" marker-end="url(#ak)"/>
<line x1="550.7" y1="714.4" x2="654.7" y2="771.7" stroke="#1a1a1a" stroke-width="0.5" marker-end="url(#ak)"/>
<line x1="548.2" y1="716.8" x2="600.3" y2="814.7" stroke="#1a1a1a" stroke-width="0.5" marker-end="url(#ak)"/>
<line x1="557.5" y1="738.9" x2="608.6" y2="755.8" stroke="#1a1a1a" stroke-width="0.5" marker-end="url(#ak)"/>
<line x1="556.9" y1="740.1" x2="629" y2="784" stroke="#1a1a1a" stroke-width="0.5" marker-end="url(#ak)"/>
<line x1="555" y1="742.1" x2="599.9" y2="814.9" stroke="#1a1a1a" stroke-width="0.5" marker-end="url(#ak)"/>
<line x1="556" y1="741.3" x2="635.2" y2="821" stroke="#1a1a1a" stroke-width="0.5" marker-end="url(#ak)"/>
<line x1="550.9" y1="742.9" x2="532.1" y2="865.6" stroke="#1a1a1a" stroke-width="0.5" marker-end="url(#ak)"/>
<line x1="602.1" y1="718.2" x2="610.2" y2="787.7" stroke="#1a1a1a" stroke-width="0.5" marker-end="url(#ak)"/>
<line x1="603.9" y1="717.7" x2="632.4" y2="781.1" stroke="#1a1a1a" stroke-width="0.5" marker-end="url(#ak)"/>
<line x1="602.5" y1="718.1" x2="624.1" y2="836.2" stroke="#1a1a1a" stroke-width="0.5" marker-end="url(#ak)"/>
<line x1="600.3" y1="718.1" x2="575.9" y2="850.5" stroke="#1a1a1a" stroke-width="0.5" marker-end="url(#ak)"/>
<line x1="571.7" y1="689.5" x2="554.7" y2="730" stroke="#1a1a1a" stroke-width="0.5" marker-end="url(#ak)"/>
<line x1="576.9" y1="689.2" x2="612.1" y2="751.6" stroke="#1a1a1a" stroke-width="0.5" marker-end="url(#ak)"/>
<line x1="578.9" y1="687.4" x2="667.8" y2="749.5" stroke="#1a1a1a" stroke-width="0.5" marker-end="url(#ak)"/>
<line x1="457.5" y1="736.8" x2="564.7" y2="766.5" stroke="#1a1a1a" stroke-width="0.5" marker-end="url(#ak)"/>
<line x1="456.6" y1="738.6" x2="524.8" y2="786.2" stroke="#1a1a1a" stroke-width="0.5" marker-end="url(#ak)"/>
<line x1="455.2" y1="740.1" x2="513.2" y2="820.2" stroke="#1a1a1a" stroke-width="0.5" marker-end="url(#ak)"/>
<line x1="478.8" y1="736.2" x2="500.2" y2="727" stroke="#1a1a1a" stroke-width="0.5" marker-end="url(#ak)"/>
<line x1="479" y1="740.3" x2="564.7" y2="766.3" stroke="#1a1a1a" stroke-width="0.5" marker-end="url(#ak)"/>
<line x1="477.7" y1="742.7" x2="560.7" y2="821.2" stroke="#1a1a1a" stroke-width="0.5" marker-end="url(#ak)"/>
<line x1="583" y1="739.3" x2="609.2" y2="754.4" stroke="#1a1a1a" stroke-width="0.5" marker-end="url(#ak)"/>
<line x1="580.8" y1="741.5" x2="607.4" y2="788.6" stroke="#1a1a1a" stroke-width="0.5" marker-end="url(#ak)"/>
<line x1="583.2" y1="738.8" x2="654.5" y2="772.2" stroke="#1a1a1a" stroke-width="0.5" marker-end="url(#ak)"/>
<line x1="580.2" y1="741.8" x2="622.4" y2="836.8" stroke="#1a1a1a" stroke-width="0.5" marker-end="url(#ak)"/>
<line x1="444.9" y1="764.6" x2="397.7" y2="790" stroke="#1a1a1a" stroke-width="0.5" marker-end="url(#ak)"/>
<line x1="450.9" y1="755.8" x2="461.6" y2="666.8" stroke="#1a1a1a" stroke-width="0.5" marker-end="url(#ak)"/>
<line x1="455.2" y1="758.5" x2="500.9" y2="728.2" stroke="#1a1a1a" stroke-width="0.5" marker-end="url(#ak)"/>
<line x1="452.9" y1="767.2" x2="463.1" y2="787.8" stroke="#1a1a1a" stroke-width="0.5" marker-end="url(#ak)"/>
<line x1="455.4" y1="764.7" x2="559.6" y2="822.7" stroke="#1a1a1a" stroke-width="0.5" marker-end="url(#ak)"/>
<line x1="451.9" y1="767.5" x2="475.2" y2="844" stroke="#1a1a1a" stroke-width="0.5" marker-end="url(#ak)"/>
<line x1="532.8" y1="758.5" x2="564.6" y2="766.6" stroke="#1a1a1a" stroke-width="0.5" marker-end="url(#ak)"/>
<line x1="532.5" y1="759.5" x2="604.2" y2="792.1" stroke="#1a1a1a" stroke-width="0.5" marker-end="url(#ak)"/>
<line x1="531.6" y1="760.9" x2="598.1" y2="816.5" stroke="#1a1a1a" stroke-width="0.5" marker-end="url(#ak)"/>
<line x1="531.5" y1="761" x2="619.8" y2="838.7" stroke="#1a1a1a" stroke-width="0.5" marker-end="url(#ak)"/>
<line x1="529.6" y1="762.4" x2="571.3" y2="851.1" stroke="#1a1a1a" stroke-width="0.5" marker-end="url(#ak)"/>
<line x1="524.2" y1="762.3" x2="480.9" y2="844.6" stroke="#1a1a1a" stroke-width="0.5" marker-end="url(#ak)"/>
<line x1="574.8" y1="763.2" x2="597.9" y2="718.9" stroke="#1a1a1a" stroke-width="0.5" marker-end="url(#ak)"/>
<line x1="577.9" y1="767.6" x2="666.5" y2="755" stroke="#1a1a1a" stroke-width="0.5" marker-end="url(#ak)"/>
<line x1="576.5" y1="772.4" x2="664" y2="848.7" stroke="#1a1a1a" stroke-width="0.5" marker-end="url(#ak)"/>
<line x1="574.6" y1="773.9" x2="615" y2="858.3" stroke="#1a1a1a" stroke-width="0.5" marker-end="url(#ak)"/>
<line x1="619.1" y1="763.2" x2="631.3" y2="781.7" stroke="#1a1a1a" stroke-width="0.5" marker-end="url(#ak)"/>
<line x1="617.9" y1="763.8" x2="638" y2="819.3" stroke="#1a1a1a" stroke-width="0.5" marker-end="url(#ak)"/>
<line x1="615.9" y1="764.2" x2="618.1" y2="857.6" stroke="#1a1a1a" stroke-width="0.5" marker-end="url(#ak)"/>
<line x1="618" y1="763.8" x2="658.6" y2="864.6" stroke="#1a1a1a" stroke-width="0.5" marker-end="url(#ak)"/>
<line x1="672.5" y1="759.7" x2="660.8" y2="804" stroke="#1a1a1a" stroke-width="0.5" marker-end="url(#ak)"/>
<line x1="676.7" y1="759.3" x2="707.2" y2="819.6" stroke="#1a1a1a" stroke-width="0.5" marker-end="url(#ak)"/>
<line x1="673.4" y1="759.9" x2="662.2" y2="864.1" stroke="#1a1a1a" stroke-width="0.5" marker-end="url(#ak)"/>
<line x1="469.5" y1="789.4" x2="503.4" y2="730.6" stroke="#1a1a1a" stroke-width="0.5" marker-end="url(#ak)"/>
<line x1="471.7" y1="797.6" x2="567.9" y2="854.2" stroke="#1a1a1a" stroke-width="0.5" marker-end="url(#ak)"/>
<line x1="470.3" y1="799.2" x2="526.2" y2="867.2" stroke="#1a1a1a" stroke-width="0.5" marker-end="url(#ak)"/>
<line x1="465" y1="800.4" x2="452.9" y2="848.7" stroke="#1a1a1a" stroke-width="0.5" marker-end="url(#ak)"/>
<line x1="507.6" y1="785.5" x2="564.7" y2="770.4" stroke="#1a1a1a" stroke-width="0.5" marker-end="url(#ak)"/>
<line x1="507.6" y1="785.5" x2="608.4" y2="760.1" stroke="#1a1a1a" stroke-width="0.5" marker-end="url(#ak)"/>
<line x1="507.5" y1="788.9" x2="596.7" y2="819" stroke="#1a1a1a" stroke-width="0.5" marker-end="url(#ak)"/>
<line x1="506.8" y1="790.3" x2="612" y2="861" stroke="#1a1a1a" stroke-width="0.5" marker-end="url(#ak)"/>
<line x1="503.7" y1="792.7" x2="528.6" y2="865.9" stroke="#1a1a1a" stroke-width="0.5" marker-end="url(#ak)"/>
<line x1="500.8" y1="792.9" x2="488" y2="872.7" stroke="#1a1a1a" stroke-width="0.5" marker-end="url(#ak)"/>
<line x1="536.8" y1="789" x2="666.6" y2="755.8" stroke="#1a1a1a" stroke-width="0.5" marker-end="url(#ak)"/>
<line x1="536.7" y1="792.4" x2="633.4" y2="824" stroke="#1a1a1a" stroke-width="0.5" marker-end="url(#ak)"/>
<line x1="535.6" y1="794.4" x2="612.5" y2="860.3" stroke="#1a1a1a" stroke-width="0.5" marker-end="url(#ak)"/>
<line x1="558.5" y1="795.8" x2="564.3" y2="819" stroke="#1a1a1a" stroke-width="0.5" marker-end="url(#ak)"/>
<line x1="562.6" y1="792.1" x2="681.2" y2="836.7" stroke="#1a1a1a" stroke-width="0.5" marker-end="url(#ak)"/>
<line x1="561.7" y1="793.7" x2="619.5" y2="839" stroke="#1a1a1a" stroke-width="0.5" marker-end="url(#ak)"/>
<line x1="616.9" y1="793.5" x2="628.2" y2="790.2" stroke="#1a1a1a" stroke-width="0.5" marker-end="url(#ak)"/>
<line x1="609.5" y1="801" x2="605.9" y2="814.1" stroke="#1a1a1a" stroke-width="0.5" marker-end="url(#ak)"/>
<line x1="612.8" y1="801" x2="623.3" y2="836.4" stroke="#1a1a1a" stroke-width="0.5" marker-end="url(#ak)"/>
<line x1="609.1" y1="800.9" x2="581.3" y2="879.6" stroke="#1a1a1a" stroke-width="0.5" marker-end="url(#ak)"/>
<line x1="611.3" y1="801.2" x2="614.4" y2="886.4" stroke="#1a1a1a" stroke-width="0.5" marker-end="url(#ak)"/>
<line x1="640.8" y1="790.7" x2="703.8" y2="822.9" stroke="#1a1a1a" stroke-width="0.5" marker-end="url(#ak)"/>
<line x1="634.4" y1="793.9" x2="626.8" y2="836.2" stroke="#1a1a1a" stroke-width="0.5" marker-end="url(#ak)"/>
<line x1="638.3" y1="793.3" x2="666.2" y2="847" stroke="#1a1a1a" stroke-width="0.5" marker-end="url(#ak)"/>
<line x1="637.3" y1="793.7" x2="659.2" y2="864.4" stroke="#1a1a1a" stroke-width="0.5" marker-end="url(#ak)"/>
<line x1="639.4" y1="792.5" x2="709.2" y2="872.8" stroke="#1a1a1a" stroke-width="0.5" marker-end="url(#ak)"/>
<line x1="665.6" y1="779.7" x2="705.3" y2="820.9" stroke="#1a1a1a" stroke-width="0.5" marker-end="url(#ak)"/>
<line x1="658.8" y1="780.8" x2="621.6" y2="858.3" stroke="#1a1a1a" stroke-width="0.5" marker-end="url(#ak)"/>
<line x1="663.2" y1="815.4" x2="682.8" y2="834.1" stroke="#1a1a1a" stroke-width="0.5" marker-end="url(#ak)"/>
<line x1="659.1" y1="817.3" x2="661.1" y2="864.1" stroke="#1a1a1a" stroke-width="0.5" marker-end="url(#ak)"/>
<line x1="662.7" y1="815.9" x2="709.4" y2="872.6" stroke="#1a1a1a" stroke-width="0.5" marker-end="url(#ak)"/>
<line x1="519.8" y1="820.8" x2="528.4" y2="797.6" stroke="#1a1a1a" stroke-width="0.5" marker-end="url(#ak)"/>
<line x1="522.1" y1="822.3" x2="551.4" y2="795.2" stroke="#1a1a1a" stroke-width="0.5" marker-end="url(#ak)"/>
<line x1="523.7" y1="826.4" x2="633" y2="826.4" stroke="#1a1a1a" stroke-width="0.5" marker-end="url(#ak)"/>
<line x1="522" y1="830.6" x2="573.4" y2="881.5" stroke="#1a1a1a" stroke-width="0.5" marker-end="url(#ak)"/>
<line x1="560.2" y1="826.4" x2="525.3" y2="826.4" stroke="#1a1a1a" stroke-width="0.5" marker-end="url(#ak)"/>
<line x1="572.2" y1="826.4" x2="703" y2="826.4" stroke="#1a1a1a" stroke-width="0.5" marker-end="url(#ak)"/>
<line x1="571" y1="830" x2="612.2" y2="860.7" stroke="#1a1a1a" stroke-width="0.5" marker-end="url(#ak)"/>
<line x1="609.8" y1="820.3" x2="651.4" y2="812.7" stroke="#1a1a1a" stroke-width="0.5" marker-end="url(#ak)"/>
<line x1="608.4" y1="825.4" x2="655.7" y2="866.7" stroke="#1a1a1a" stroke-width="0.5" marker-end="url(#ak)"/>
<line x1="604.8" y1="827.3" x2="613.6" y2="886.5" stroke="#1a1a1a" stroke-width="0.5" marker-end="url(#ak)"/>
<line x1="609.2" y1="824.2" x2="707.5" y2="875" stroke="#1a1a1a" stroke-width="0.5" marker-end="url(#ak)"/>
<line x1="645.2" y1="822.6" x2="653" y2="816.1" stroke="#1a1a1a" stroke-width="0.5" marker-end="url(#ak)"/>
<line x1="646.4" y1="828" x2="681" y2="837.4" stroke="#1a1a1a" stroke-width="0.5" marker-end="url(#ak)"/>
<line x1="636.7" y1="830.9" x2="630.5" y2="838" stroke="#1a1a1a" stroke-width="0.5" marker-end="url(#ak)"/>
<line x1="638.5" y1="832" x2="617.4" y2="886.9" stroke="#1a1a1a" stroke-width="0.5" marker-end="url(#ak)"/>
<line x1="683.5" y1="843.1" x2="675.7" y2="849.1" stroke="#1a1a1a" stroke-width="0.5" marker-end="url(#ak)"/>
<line x1="704.6" y1="826.4" x2="648.2" y2="826.4" stroke="#1a1a1a" stroke-width="0.5" marker-end="url(#ak)"/>
<line x1="705.4" y1="829.4" x2="694.9" y2="835.6" stroke="#1a1a1a" stroke-width="0.5" marker-end="url(#ak)"/>
<line x1="705.6" y1="829.7" x2="676" y2="849.5" stroke="#1a1a1a" stroke-width="0.5" marker-end="url(#ak)"/>
<line x1="706.2" y1="830.5" x2="667" y2="866.6" stroke="#1a1a1a" stroke-width="0.5" marker-end="url(#ak)"/>
<line x1="711" y1="832.4" x2="713.7" y2="870.9" stroke="#1a1a1a" stroke-width="0.5" marker-end="url(#ak)"/>
<line x1="629.8" y1="839.5" x2="653.4" y2="816.6" stroke="#1a1a1a" stroke-width="0.5" marker-end="url(#ak)"/>
<line x1="631.4" y1="842.5" x2="703.2" y2="827.9" stroke="#1a1a1a" stroke-width="0.5" marker-end="url(#ak)"/>
<line x1="670" y1="847.7" x2="673.7" y2="761.5" stroke="#1a1a1a" stroke-width="0.5" marker-end="url(#ak)"/>
<line x1="668.2" y1="847.9" x2="660.8" y2="818.7" stroke="#1a1a1a" stroke-width="0.5" marker-end="url(#ak)"/>
<line x1="674.7" y1="850.4" x2="704.3" y2="830.6" stroke="#1a1a1a" stroke-width="0.5" marker-end="url(#ak)"/>
<line x1="663.7" y1="854" x2="582.1" y2="857.7" stroke="#1a1a1a" stroke-width="0.5" marker-end="url(#ak)"/>
<line x1="668.2" y1="859.5" x2="660.5" y2="888.5" stroke="#1a1a1a" stroke-width="0.5" marker-end="url(#ak)"/>
<line x1="674.9" y1="856.6" x2="707.6" y2="874.8" stroke="#1a1a1a" stroke-width="0.5" marker-end="url(#ak)"/>
<line x1="573" y1="852.2" x2="558.9" y2="797.4" stroke="#1a1a1a" stroke-width="0.5" marker-end="url(#ak)"/>
<line x1="579.7" y1="855.1" x2="652.3" y2="815" stroke="#1a1a1a" stroke-width="0.5" marker-end="url(#ak)"/>
<line x1="580.4" y1="857" x2="680.8" y2="840.6" stroke="#1a1a1a" stroke-width="0.5" marker-end="url(#ak)"/>
<line x1="580.4" y1="858.9" x2="706.7" y2="877.4" stroke="#1a1a1a" stroke-width="0.5" marker-end="url(#ak)"/>
<line x1="616.4" y1="859.5" x2="606.3" y2="828.6" stroke="#1a1a1a" stroke-width="0.5" marker-end="url(#ak)"/>
<line x1="623.8" y1="862.9" x2="703.6" y2="829.3" stroke="#1a1a1a" stroke-width="0.5" marker-end="url(#ak)"/>
<line x1="624.2" y1="863.9" x2="662.3" y2="855.4" stroke="#1a1a1a" stroke-width="0.5" marker-end="url(#ak)"/>
<line x1="624.2" y1="866" x2="706.7" y2="877.5" stroke="#1a1a1a" stroke-width="0.5" marker-end="url(#ak)"/>
<line x1="665.8" y1="867.6" x2="705" y2="831.5" stroke="#1a1a1a" stroke-width="0.5" marker-end="url(#ak)"/>
<line x1="656.7" y1="868" x2="631.5" y2="848.4" stroke="#1a1a1a" stroke-width="0.5" marker-end="url(#ak)"/>
<line x1="655.5" y1="872.8" x2="586.3" y2="885.4" stroke="#1a1a1a" stroke-width="0.5" marker-end="url(#ak)"/>
<line x1="656" y1="874.3" x2="621.6" y2="890.7" stroke="#1a1a1a" stroke-width="0.5" marker-end="url(#ak)"/>
<line x1="667.4" y1="872.5" x2="706.7" y2="877.5" stroke="#1a1a1a" stroke-width="0.5" marker-end="url(#ak)"/>
<line x1="535.3" y1="868.9" x2="605.7" y2="800.5" stroke="#1a1a1a" stroke-width="0.5" marker-end="url(#ak)"/>
<line x1="535.7" y1="869.3" x2="629.6" y2="792.8" stroke="#1a1a1a" stroke-width="0.5" marker-end="url(#ak)"/>
<line x1="536.7" y1="871.1" x2="567.3" y2="860.5" stroke="#1a1a1a" stroke-width="0.5" marker-end="url(#ak)"/>
<line x1="536.8" y1="874.8" x2="571.5" y2="884.7" stroke="#1a1a1a" stroke-width="0.5" marker-end="url(#ak)"/>
<line x1="536.9" y1="874.2" x2="651" y2="894.5" stroke="#1a1a1a" stroke-width="0.5" marker-end="url(#ak)"/>
<line x1="490.5" y1="875.5" x2="552.3" y2="796" stroke="#1a1a1a" stroke-width="0.5" marker-end="url(#ak)"/>
<line x1="492.8" y1="880.6" x2="571.2" y2="886.3" stroke="#1a1a1a" stroke-width="0.5" marker-end="url(#ak)"/>
<line x1="492.8" y1="880.8" x2="607.1" y2="893.2" stroke="#1a1a1a" stroke-width="0.5" marker-end="url(#ak)"/>
<line x1="481.8" y1="876.8" x2="457.3" y2="860.3" stroke="#1a1a1a" stroke-width="0.5" marker-end="url(#ak)"/>
<line x1="576.1" y1="881.4" x2="534.4" y2="797.3" stroke="#1a1a1a" stroke-width="0.5" marker-end="url(#ak)"/>
<line x1="580.9" y1="881.2" x2="601.2" y2="828.5" stroke="#1a1a1a" stroke-width="0.5" marker-end="url(#ak)"/>
<line x1="584.3" y1="884.3" x2="703.7" y2="829.6" stroke="#1a1a1a" stroke-width="0.5" marker-end="url(#ak)"/>
<line x1="584.7" y1="888" x2="607.2" y2="892.5" stroke="#1a1a1a" stroke-width="0.5" marker-end="url(#ak)"/>
<line x1="616.8" y1="888.4" x2="637.9" y2="833.5" stroke="#1a1a1a" stroke-width="0.5" marker-end="url(#ak)"/>
<line x1="619.6" y1="890.5" x2="704.4" y2="830.8" stroke="#1a1a1a" stroke-width="0.5" marker-end="url(#ak)"/>
<line x1="620.1" y1="891.4" x2="654.5" y2="875" stroke="#1a1a1a" stroke-width="0.5" marker-end="url(#ak)"/>
<line x1="620.7" y1="894.2" x2="650.9" y2="895.5" stroke="#1a1a1a" stroke-width="0.5" marker-end="url(#ak)"/>
<line x1="620.6" y1="893.1" x2="706.7" y2="879.7" stroke="#1a1a1a" stroke-width="0.5" marker-end="url(#ak)"/>
<line x1="661.3" y1="890.5" x2="684.7" y2="846.1" stroke="#1a1a1a" stroke-width="0.5" marker-end="url(#ak)"/>
<line x1="662.1" y1="891" x2="706" y2="832.5" stroke="#1a1a1a" stroke-width="0.5" marker-end="url(#ak)"/>
<line x1="659.2" y1="889.8" x2="660.5" y2="879.2" stroke="#1a1a1a" stroke-width="0.5" marker-end="url(#ak)"/>
<line x1="664.2" y1="894" x2="706.9" y2="880.8" stroke="#1a1a1a" stroke-width="0.5" marker-end="url(#ak)"/>
<line x1="710.9" y1="873.5" x2="692.5" y2="845.7" stroke="#1a1a1a" stroke-width="0.5" marker-end="url(#ak)"/>
<line x1="713.8" y1="872.5" x2="711.1" y2="834" stroke="#1a1a1a" stroke-width="0.5" marker-end="url(#ak)"/>
<line x1="448.6" y1="850.6" x2="433.4" y2="815.4" stroke="#1a1a1a" stroke-width="0.5" marker-end="url(#ak)"/>
<line x1="448.5" y1="861.6" x2="440.5" y2="879.1" stroke="#1a1a1a" stroke-width="0.5" marker-end="url(#ak)"/>
<line x1="456.2" y1="859.1" x2="527.3" y2="900.4" stroke="#1a1a1a" stroke-width="0.5" marker-end="url(#ak)"/>
<line x1="483.2" y1="849.7" x2="558.9" y2="828.5" stroke="#1a1a1a" stroke-width="0.5" marker-end="url(#ak)"/>
<line x1="483.4" y1="851.7" x2="566.9" y2="857.5" stroke="#1a1a1a" stroke-width="0.5" marker-end="url(#ak)"/>
<line x1="483.4" y1="851.9" x2="610.7" y2="864.5" stroke="#1a1a1a" stroke-width="0.5" marker-end="url(#ak)"/>
<line x1="479.3" y1="857" x2="484.4" y2="873" stroke="#1a1a1a" stroke-width="0.5" marker-end="url(#ak)"/>
<line x1="539.5" y1="902.1" x2="662.6" y2="856.3" stroke="#1a1a1a" stroke-width="0.5" marker-end="url(#ak)"/>
<line x1="537.9" y1="899.7" x2="569.5" y2="863.7" stroke="#1a1a1a" stroke-width="0.5" marker-end="url(#ak)"/>
<line x1="539.7" y1="902.7" x2="654" y2="873.6" stroke="#1a1a1a" stroke-width="0.5" marker-end="url(#ak)"/>
<line x1="539.5" y1="902" x2="571.7" y2="889.5" stroke="#1a1a1a" stroke-width="0.5" marker-end="url(#ak)"/>
<line x1="539.9" y1="903.8" x2="650.9" y2="896.3" stroke="#1a1a1a" stroke-width="0.5" marker-end="url(#ak)"/>
<line x1="300.9" y1="657.6" x2="352" y2="653.7" stroke="#62b42f" stroke-width="2.3" marker-end="url(#ag)"/>
<line x1="359.7" y1="659.6" x2="365.2" y2="732.4" stroke="#62b42f" stroke-width="2.3" marker-end="url(#ag)"/>
<line x1="368.5" y1="745.5" x2="377.4" y2="764.5" stroke="#62b42f" stroke-width="2.3" marker-end="url(#ag)"/>
<line x1="385.6" y1="767" x2="451.8" y2="714.5" stroke="#62b42f" stroke-width="2.3" marker-end="url(#ag)"/>
<path d="M463.4,708 Q489,698 503.7,717.5" fill="none" stroke="#62b42f" stroke-width="2.3" marker-end="url(#ag)"/>
<line x1="513.4" y1="722" x2="538.6" y2="713.7" stroke="#62b42f" stroke-width="2.3" marker-end="url(#ag)"/>
<line x1="547" y1="717.8" x2="550" y2="730" stroke="#62b42f" stroke-width="2.3" marker-end="url(#ag)"/>
<line x1="557.6" y1="734.1" x2="595" y2="715.4" stroke="#62b42f" stroke-width="2.3" marker-end="url(#ag)"/>
<line x1="607" y1="715.4" x2="667.8" y2="750.3" stroke="#62b42f" stroke-width="2.3" marker-end="url(#ag)"/>
<line x1="675.1" y1="760.3" x2="687.1" y2="832.3" stroke="#62b42f" stroke-width="2.3" marker-end="url(#ag)"/>
<line x1="691.9" y1="844.8" x2="710.2" y2="872.5" stroke="#62b42f" stroke-width="2.3" marker-end="url(#ag)"/>
<circle cx="294.4" cy="658.1" r="7" fill="#d9434f"/>
<circle cx="359.2" cy="653.1" r="6.9" fill="#e39aa0"/>
<circle cx="387.5" cy="624" r="6.9" fill="#e6a7ad"/>
<circle cx="417" cy="650.9" r="6.9" fill="#f3d4d7"/>
<circle cx="337.1" cy="686.7" r="6.9" fill="#e49ea4"/>
<circle cx="385.6" cy="681.2" r="6.9" fill="#f3d4d7"/>
<circle cx="422.9" cy="694.3" r="6.9" fill="#eec3c7"/>
<circle cx="319.3" cy="726.9" r="6.9" fill="#e4959c"/>
<circle cx="385.1" cy="720.9" r="6.9" fill="#efc5c9"/>
<circle cx="404.9" cy="718.9" r="6.9" fill="#edc1c5"/>
<circle cx="365.7" cy="739.6" r="6.9" fill="#f0c9cd"/>
<circle cx="337.2" cy="766.4" r="6.9" fill="#f3d2d5"/>
<circle cx="380.5" cy="771" r="6.9" fill="#e4949b"/>
<circle cx="418.1" cy="769.1" r="6.9" fill="#f4d6d9"/>
<circle cx="391" cy="793.6" r="6.9" fill="#d6dbeb"/>
<circle cx="347.6" cy="811.2" r="6.9" fill="#f4d8db"/>
<circle cx="430.4" cy="808.4" r="6.9" fill="#f2d1d5"/>
<circle cx="396.2" cy="842.6" r="6.9" fill="#efc2c7"/>
<circle cx="396.2" cy="870.4" r="6.9" fill="#ecbbc0"/>
<circle cx="437.3" cy="886" r="6.9" fill="#f4d8db"/>
<circle cx="451.2" cy="636.6" r="6.9" fill="#edc1c5"/>
<circle cx="491.1" cy="639.8" r="6.9" fill="#f3d4d7"/>
<circle cx="497.2" cy="612.1" r="6.9" fill="#f0c7cb"/>
<circle cx="553.8" cy="630.3" r="6.9" fill="#f5d9dc"/>
<circle cx="462.5" cy="659.3" r="6.9" fill="#edc1c5"/>
<circle cx="520.4" cy="652.4" r="6.9" fill="#d7dcec"/>
<circle cx="455.3" cy="683.6" r="6.9" fill="#eec5c9"/>
<circle cx="510" cy="673.4" r="6.9" fill="#d8ddec"/>
<circle cx="531.3" cy="678" r="6.9" fill="#f3d4d7"/>
<circle cx="505.1" cy="702.3" r="6.9" fill="#f5d7da"/>
<circle cx="457.4" cy="710" r="6.9" fill="#f0c5c9"/>
<circle cx="507.2" cy="724" r="6.9" fill="#f5d8db"/>
<circle cx="545.4" cy="711.5" r="6.9" fill="#d7dcec"/>
<circle cx="551.8" cy="737" r="6.9" fill="#f5d8db"/>
<circle cx="601.4" cy="712.2" r="6.9" fill="#d9ddec"/>
<circle cx="574" cy="684" r="6.9" fill="#d8dcec"/>
<circle cx="451.7" cy="735.2" r="6.9" fill="#f4d4d7"/>
<circle cx="473.3" cy="738.6" r="6.9" fill="#d5daea"/>
<circle cx="577.8" cy="736.3" r="6.9" fill="#d5daea"/>
<circle cx="450.2" cy="761.8" r="6.9" fill="#d7dcec"/>
<circle cx="527" cy="757" r="6.9" fill="#f3d1d5"/>
<circle cx="572" cy="768.5" r="6.9" fill="#f4d4d7"/>
<circle cx="615.8" cy="758.2" r="6.9" fill="#d5daea"/>
<circle cx="674" cy="753.9" r="6.9" fill="#ced3e7"/>
<circle cx="466.5" cy="794.6" r="6.9" fill="#f4d4d7"/>
<circle cx="501.8" cy="787" r="6.9" fill="#f4d4d7"/>
<circle cx="531" cy="790.5" r="6.9" fill="#cad1e6"/>
<circle cx="557" cy="790" r="6.9" fill="#cad1e6"/>
<circle cx="611.1" cy="795.2" r="6.9" fill="#cad1e6"/>
<circle cx="635.5" cy="788" r="6.9" fill="#cfd4e7"/>
<circle cx="661.4" cy="775.4" r="6.9" fill="#d8dcec"/>
<circle cx="658.9" cy="811.3" r="6.9" fill="#cfd4e7"/>
<circle cx="517.7" cy="826.4" r="6.9" fill="#d7dcec"/>
<circle cx="566.2" cy="826.4" r="6.9" fill="#d7dcec"/>
<circle cx="603.9" cy="821.4" r="6.9" fill="#c9cfe5"/>
<circle cx="640.6" cy="826.4" r="6.9" fill="#ced3e7"/>
<circle cx="688.3" cy="839.4" r="6.9" fill="#acb5d8"/>
<circle cx="710.6" cy="826.4" r="6.9" fill="#a1abd3"/>
<circle cx="625.5" cy="843.7" r="6.9" fill="#cfd4e7"/>
<circle cx="669.7" cy="853.7" r="6.9" fill="#a8b1d6"/>
<circle cx="574.5" cy="858" r="6.9" fill="#d7dcec"/>
<circle cx="618.3" cy="865.2" r="6.9" fill="#d4d9ea"/>
<circle cx="661.4" cy="871.7" r="6.9" fill="#a5aed4"/>
<circle cx="531" cy="873.1" r="6.9" fill="#d7dcec"/>
<circle cx="486.8" cy="880.2" r="6.9" fill="#f4d4d7"/>
<circle cx="578.8" cy="886.8" r="6.9" fill="#d7dcec"/>
<circle cx="614.7" cy="894" r="6.9" fill="#d5daea"/>
<circle cx="658.5" cy="895.8" r="6.9" fill="#a5aed4"/>
<circle cx="714.2" cy="878.5" r="6.9" fill="#3b53a0"/>
<circle cx="451" cy="856.1" r="6.9" fill="#d7dcec"/>
<circle cx="477.4" cy="851.3" r="6.9" fill="#d7dcec"/>
<circle cx="533.9" cy="904.2" r="6.9" fill="#d7dcec"/>
<text x="328.8" y="664" font-size="9" text-anchor="middle" fill="#222">67%</text>
<text x="371.3" y="673.2" font-size="9" text-anchor="middle" fill="#222">65%</text>
<text x="361" y="760.2" font-size="9" text-anchor="middle" fill="#222">52%</text>
<text x="412.9" y="759" font-size="9" text-anchor="middle" fill="#222">45%</text>
<text x="481.2" y="704.8" font-size="9" text-anchor="middle" fill="#222">46%</text>
<text x="525.4" y="716" font-size="9" text-anchor="middle" fill="#222">31%</text>
<text x="559.8" y="725.7" font-size="9" text-anchor="middle" fill="#222">56%</text>
<text x="585" y="731.7" font-size="9" text-anchor="middle" fill="#222">35%</text>
<text x="646" y="731.1" font-size="9" text-anchor="middle" fill="#222">43%</text>
<text x="692.6" y="799.4" font-size="9" text-anchor="middle" fill="#222">67%</text>
<text x="709.9" y="856.9" font-size="9" text-anchor="middle" fill="#222">50%</text>
<rect x="356.9" y="554.8" width="68" height="55.5" rx="8" fill="#efefef" stroke="#222" stroke-width="1"/>
<text x="390.9" y="568.8" font-size="8.8" text-anchor="middle" fill="#222">FOXA2 = OFF</text>
<text x="390.9" y="579.5" font-size="8.8" text-anchor="middle" fill="#222">MYB = OFF</text>
<text x="390.9" y="590.1" font-size="8.8" text-anchor="middle" fill="#222">HDAC2 = OFF</text>
<path d="M390.9,593.3 h-12 a6.8,6.8 0 0 0 0,13.6 h12 z" fill="#5cbbe9" stroke="#222" stroke-width="0.8"/>
<path d="M390.9,593.3 h12 a6.8,6.8 0 0 1 0,13.6 h-12 z" fill="#e9e54e" stroke="#222" stroke-width="0.8"/>
<rect x="295.7" y="862" width="68" height="55.5" rx="8" fill="#efefef" stroke="#222" stroke-width="1"/>
<text x="329.7" y="876" font-size="8.8" text-anchor="middle" fill="#222">FOXA2 = OFF</text>
<text x="329.7" y="886.7" font-size="8.8" text-anchor="middle" fill="#222">MYB = OFF</text>
<text x="329.7" y="897.3" font-size="8.8" text-anchor="middle" fill="#222">HDAC2 = OFF</text>
<path d="M329.7,900.5 h-12 a6.8,6.8 0 0 0 0,13.6 h12 z" fill="#5cbbe9" stroke="#222" stroke-width="0.8"/>
<path d="M329.7,900.5 h12 a6.8,6.8 0 0 1 0,13.6 h-12 z" fill="#e9e54e" stroke="#222" stroke-width="0.8"/>
<line x1="355" y1="601" x2="308" y2="643.5" stroke="#a5a5a5" stroke-width="2.2" stroke-dasharray="4.5,2.8"/>
<path d="M302.5,649 L304.5,638.5 L313,646 Z" fill="#a5a5a5"/>
<line x1="300" y1="918" x2="290.5" y2="966" stroke="#a5a5a5" stroke-width="2.2" stroke-dasharray="4.5,2.8"/>
<path d="M289,974 L284.5,963.5 L294,965 Z" fill="#a5a5a5"/>
<line x1="291" y1="981.8" x2="317.1" y2="981.8" stroke="#62b42f" stroke-width="1.5" marker-end="url(#ag2)"/>
<text x="301.5" y="991.4" font-size="8.6" text-anchor="middle" fill="#222">67%</text>
<text transform="translate(302.5,979.5) rotate(-51)" font-size="10" fill="#222">MXI1 = ON</text>
<line x1="329.6" y1="981.8" x2="355.6" y2="981.8" stroke="#62b42f" stroke-width="1.5" marker-end="url(#ag2)"/>
<text x="340.1" y="991.4" font-size="8.6" text-anchor="middle" fill="#222">65%</text>
<text transform="translate(341.1,979.5) rotate(-51)" font-size="10" fill="#222">PRDM1 = ON</text>
<line x1="368.1" y1="981.8" x2="394.1" y2="981.8" stroke="#62b42f" stroke-width="1.5" marker-end="url(#ag2)"/>
<text x="378.6" y="991.4" font-size="8.6" text-anchor="middle" fill="#222">52%</text>
<text transform="translate(379.6,979.5) rotate(-51)" font-size="10" fill="#222">MXI1 = OFF</text>
<line x1="406.6" y1="981.8" x2="432.7" y2="981.8" stroke="#62b42f" stroke-width="1.5" marker-end="url(#ag2)"/>
<text x="417.1" y="991.4" font-size="8.6" text-anchor="middle" fill="#222">45%</text>
<text transform="translate(418.1,979.5) rotate(-51)" font-size="10" fill="#222">CBX3 = OFF</text>
<line x1="445.2" y1="981.8" x2="471.2" y2="981.8" stroke="#62b42f" stroke-width="1.5" marker-end="url(#ag2)"/>
<text x="455.7" y="991.4" font-size="8.6" text-anchor="middle" fill="#222">46%</text>
<text transform="translate(456.7,979.5) rotate(-51)" font-size="10" fill="#222">MXI1 = ON</text>
<line x1="483.8" y1="981.8" x2="509.8" y2="981.8" stroke="#62b42f" stroke-width="1.5" marker-end="url(#ag2)"/>
<text x="494.2" y="991.4" font-size="8.6" text-anchor="middle" fill="#222">31%</text>
<text transform="translate(495.2,979.5) rotate(-51)" font-size="10" fill="#222">NR4A2 = OFF</text>
<line x1="522.3" y1="981.8" x2="548.3" y2="981.8" stroke="#62b42f" stroke-width="1.5" marker-end="url(#ag2)"/>
<text x="532.8" y="991.4" font-size="8.6" text-anchor="middle" fill="#222">56%</text>
<text transform="translate(533.8,979.5) rotate(-51)" font-size="10" fill="#222">MXI1 = OFF</text>
<line x1="560.8" y1="981.8" x2="586.9" y2="981.8" stroke="#62b42f" stroke-width="1.5" marker-end="url(#ag2)"/>
<text x="571.3" y="991.4" font-size="8.6" text-anchor="middle" fill="#222">35%</text>
<text transform="translate(572.3,979.5) rotate(-51)" font-size="10" fill="#222">PROX1 = OFF</text>
<line x1="599.4" y1="981.8" x2="625.5" y2="981.8" stroke="#62b42f" stroke-width="1.5" marker-end="url(#ag2)"/>
<text x="609.9" y="991.4" font-size="8.6" text-anchor="middle" fill="#222">43%</text>
<text transform="translate(610.9,979.5) rotate(-51)" font-size="10" fill="#222">MXI1 = ON</text>
<line x1="638" y1="981.8" x2="664" y2="981.8" stroke="#62b42f" stroke-width="1.5" marker-end="url(#ag2)"/>
<text x="648.5" y="991.4" font-size="8.6" text-anchor="middle" fill="#222">67%</text>
<text transform="translate(649.5,979.5) rotate(-51)" font-size="10" fill="#222">SMAD3 = ON</text>
<line x1="676.5" y1="981.8" x2="702.5" y2="981.8" stroke="#62b42f" stroke-width="1.5" marker-end="url(#ag2)"/>
<text x="687" y="991.4" font-size="8.6" text-anchor="middle" fill="#222">50%</text>
<text transform="translate(688,979.5) rotate(-51)" font-size="10" fill="#222">FOXM1 = ON</text>
<circle cx="285" cy="981.8" r="6.3" fill="#d9434f"/>
<circle cx="323.6" cy="981.8" r="6.3" fill="#e59aa1"/>
<circle cx="362.1" cy="981.8" r="6.3" fill="#f3d2d6"/>
<circle cx="400.6" cy="981.8" r="6.3" fill="#e3939b"/>
<circle cx="439.2" cy="981.8" r="6.3" fill="#f2ccd0"/>
<circle cx="477.8" cy="981.8" r="6.3" fill="#f5d9dc"/>
<circle cx="516.3" cy="981.8" r="6.3" fill="#d8dcec"/>
<circle cx="554.8" cy="981.8" r="6.3" fill="#f5d5d8"/>
<circle cx="593.4" cy="981.8" r="6.3" fill="#d9ddec"/>
<circle cx="632" cy="981.8" r="6.3" fill="#d5daea"/>
<circle cx="670.5" cy="981.8" r="6.3" fill="#a5aed4"/>
<circle cx="709" cy="981.8" r="6.3" fill="#3b53a0"/>
<text x="281.7" y="1003.6" font-size="12.4" text-anchor="middle" font-weight="bold" fill="#111">Stem cell</text>
<text x="281.7" y="1017.6" font-size="12.4" text-anchor="middle" font-weight="bold" fill="#111">state</text>
<text x="511.8" y="1009.8" font-size="11.4" text-anchor="middle" fill="#222">Most probable trajectory</text>
<text x="710.8" y="1005.7" font-size="12.4" text-anchor="middle" font-weight="bold" fill="#111">Enterocyte</text>
<text x="710.8" y="1018.6" font-size="12.4" text-anchor="middle" font-weight="bold" fill="#111">state</text>
</svg>
</body></html>
